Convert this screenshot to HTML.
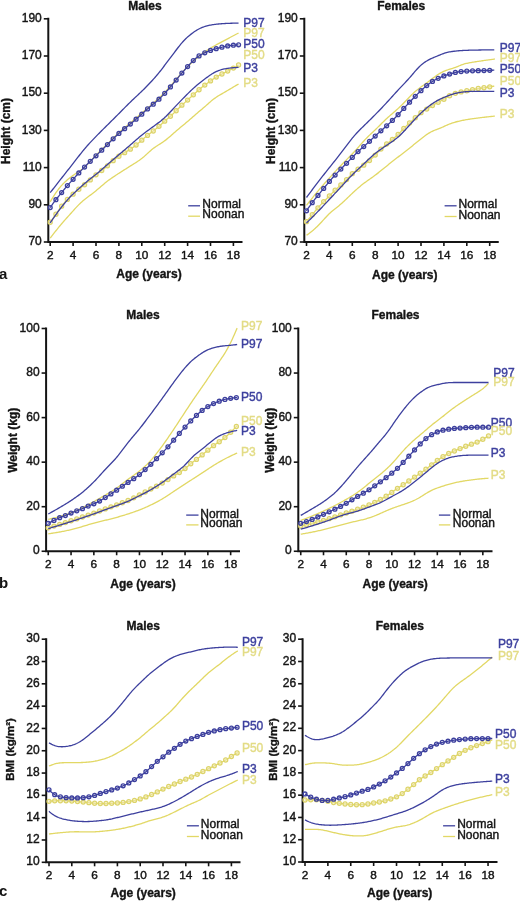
<!DOCTYPE html><html><head><meta charset="utf-8"><style>html,body{margin:0;padding:0;background:#fff;width:520px;height:901px;overflow:hidden}svg{display:block;will-change:transform}</style></head><body>
<svg width="520" height="901" viewBox="0 0 520 901" font-family='"Liberation Sans", sans-serif'>
<rect width="520" height="901" fill="#fff"/>
<path d="M48.30,17.80 V242.00 H242.50" fill="none" stroke="#141414" stroke-width="2"/>
<line x1="43.80" y1="242.00" x2="48.30" y2="242.00" stroke="#141414" stroke-width="1.6"/>
<text x="41.80" y="245.10" text-anchor="end" font-size="12" fill="#141414" stroke="#141414" stroke-width="0.4">70</text>
<line x1="43.80" y1="204.80" x2="48.30" y2="204.80" stroke="#141414" stroke-width="1.6"/>
<text x="41.80" y="207.90" text-anchor="end" font-size="12" fill="#141414" stroke="#141414" stroke-width="0.4">90</text>
<line x1="43.80" y1="167.60" x2="48.30" y2="167.60" stroke="#141414" stroke-width="1.6"/>
<text x="41.80" y="170.70" text-anchor="end" font-size="12" fill="#141414" stroke="#141414" stroke-width="0.4">110</text>
<line x1="43.80" y1="130.40" x2="48.30" y2="130.40" stroke="#141414" stroke-width="1.6"/>
<text x="41.80" y="133.50" text-anchor="end" font-size="12" fill="#141414" stroke="#141414" stroke-width="0.4">130</text>
<line x1="43.80" y1="93.20" x2="48.30" y2="93.20" stroke="#141414" stroke-width="1.6"/>
<text x="41.80" y="96.30" text-anchor="end" font-size="12" fill="#141414" stroke="#141414" stroke-width="0.4">150</text>
<line x1="43.80" y1="56.00" x2="48.30" y2="56.00" stroke="#141414" stroke-width="1.6"/>
<text x="41.80" y="59.10" text-anchor="end" font-size="12" fill="#141414" stroke="#141414" stroke-width="0.4">170</text>
<line x1="43.80" y1="18.80" x2="48.30" y2="18.80" stroke="#141414" stroke-width="1.6"/>
<text x="41.80" y="21.90" text-anchor="end" font-size="12" fill="#141414" stroke="#141414" stroke-width="0.4">190</text>
<line x1="50.20" y1="242.00" x2="50.20" y2="246.00" stroke="#141414" stroke-width="1.6"/>
<text x="50.20" y="258.80" text-anchor="middle" font-size="11.8" fill="#141414" stroke="#141414" stroke-width="0.4">2</text>
<line x1="73.10" y1="242.00" x2="73.10" y2="246.00" stroke="#141414" stroke-width="1.6"/>
<text x="73.10" y="258.80" text-anchor="middle" font-size="11.8" fill="#141414" stroke="#141414" stroke-width="0.4">4</text>
<line x1="96.00" y1="242.00" x2="96.00" y2="246.00" stroke="#141414" stroke-width="1.6"/>
<text x="96.00" y="258.80" text-anchor="middle" font-size="11.8" fill="#141414" stroke="#141414" stroke-width="0.4">6</text>
<line x1="118.90" y1="242.00" x2="118.90" y2="246.00" stroke="#141414" stroke-width="1.6"/>
<text x="118.90" y="258.80" text-anchor="middle" font-size="11.8" fill="#141414" stroke="#141414" stroke-width="0.4">8</text>
<line x1="141.80" y1="242.00" x2="141.80" y2="246.00" stroke="#141414" stroke-width="1.6"/>
<text x="141.80" y="258.80" text-anchor="middle" font-size="11.8" fill="#141414" stroke="#141414" stroke-width="0.4">10</text>
<line x1="164.70" y1="242.00" x2="164.70" y2="246.00" stroke="#141414" stroke-width="1.6"/>
<text x="164.70" y="258.80" text-anchor="middle" font-size="11.8" fill="#141414" stroke="#141414" stroke-width="0.4">12</text>
<line x1="187.60" y1="242.00" x2="187.60" y2="246.00" stroke="#141414" stroke-width="1.6"/>
<text x="187.60" y="258.80" text-anchor="middle" font-size="11.8" fill="#141414" stroke="#141414" stroke-width="0.4">14</text>
<line x1="210.50" y1="242.00" x2="210.50" y2="246.00" stroke="#141414" stroke-width="1.6"/>
<text x="210.50" y="258.80" text-anchor="middle" font-size="11.8" fill="#141414" stroke="#141414" stroke-width="0.4">16</text>
<line x1="233.40" y1="242.00" x2="233.40" y2="246.00" stroke="#141414" stroke-width="1.6"/>
<text x="233.40" y="258.80" text-anchor="middle" font-size="11.8" fill="#141414" stroke="#141414" stroke-width="0.4">18</text>
<polyline points="50.20,238.13 51.16,236.88 52.11,235.63 53.07,234.39 54.02,233.16 54.98,231.95 55.94,230.74 56.89,229.54 57.85,228.36 58.80,227.18 59.76,226.02 60.72,224.88 61.67,223.74 62.63,222.62 63.59,221.52 64.54,220.42 65.50,219.34 66.45,218.27 67.41,217.21 68.37,216.16 69.32,215.10 70.28,214.04 71.23,212.97 72.19,211.90 73.15,210.83 74.10,209.75 75.06,208.68 76.01,207.62 76.97,206.59 77.93,205.58 78.88,204.62 79.84,203.69 80.80,202.80 81.75,201.94 82.71,201.11 83.66,200.31 84.62,199.54 85.58,198.78 86.53,198.03 87.49,197.30 88.44,196.57 89.40,195.85 90.36,195.13 91.31,194.41 92.27,193.68 93.22,192.94 94.18,192.19 95.14,191.42 96.09,190.65 97.05,189.86 98.01,189.05 98.96,188.24 99.92,187.41 100.87,186.59 101.83,185.77 102.79,184.95 103.74,184.14 104.70,183.34 105.65,182.56 106.61,181.80 107.57,181.06 108.52,180.34 109.48,179.64 110.43,178.95 111.39,178.28 112.35,177.62 113.30,176.98 114.26,176.34 115.22,175.71 116.17,175.08 117.13,174.46 118.08,173.83 119.04,173.22 120.00,172.60 120.95,171.98 121.91,171.37 122.86,170.76 123.82,170.15 124.78,169.54 125.73,168.93 126.69,168.33 127.64,167.72 128.60,167.12 129.56,166.52 130.51,165.92 131.47,165.33 132.42,164.74 133.38,164.14 134.34,163.55 135.29,162.95 136.25,162.34 137.21,161.72 138.16,161.08 139.12,160.42 140.07,159.74 141.03,159.03 141.99,158.29 142.94,157.51 143.90,156.71 144.85,155.87 145.81,155.01 146.77,154.14 147.72,153.26 148.68,152.39 149.63,151.52 150.59,150.68 151.55,149.87 152.50,149.08 153.46,148.34 154.42,147.63 155.37,146.95 156.33,146.30 157.28,145.67 158.24,145.05 159.20,144.45 160.15,143.84 161.11,143.23 162.06,142.61 163.02,141.96 163.98,141.29 164.93,140.60 165.89,139.88 166.84,139.12 167.80,138.35 168.76,137.55 169.71,136.73 170.67,135.89 171.63,135.05 172.58,134.21 173.54,133.36 174.49,132.52 175.45,131.69 176.41,130.86 177.36,130.04 178.32,129.23 179.27,128.42 180.23,127.62 181.19,126.82 182.14,126.03 183.10,125.23 184.05,124.44 185.01,123.64 185.97,122.83 186.92,122.03 187.88,121.21 188.84,120.39 189.79,119.57 190.75,118.74 191.70,117.90 192.66,117.07 193.62,116.23 194.57,115.40 195.53,114.57 196.48,113.75 197.44,112.93 198.40,112.12 199.35,111.32 200.31,110.52 201.26,109.72 202.22,108.92 203.18,108.11 204.13,107.29 205.09,106.46 206.04,105.62 207.00,104.76 207.96,103.90 208.91,103.05 209.87,102.20 210.83,101.37 211.78,100.57 212.74,99.79 213.69,99.05 214.65,98.35 215.61,97.67 216.56,97.03 217.52,96.41 218.47,95.82 219.43,95.24 220.39,94.68 221.34,94.12 222.30,93.57 223.25,93.02 224.21,92.47 225.17,91.92 226.12,91.36 227.08,90.80 228.04,90.23 228.99,89.66 229.95,89.09 230.90,88.52 231.86,87.94 232.82,87.37 233.77,86.81 234.73,86.24 235.68,85.68 236.64,85.12 237.60,84.56 238.55,84.08" fill="none" stroke="#e2d865" stroke-width="1.3" stroke-linejoin="round"/>
<polyline points="50.20,201.80 51.16,200.20 52.11,198.62 53.07,197.08 54.02,195.57 54.98,194.11 55.94,192.69 56.89,191.33 57.85,190.02 58.80,188.76 59.76,187.57 60.72,186.43 61.67,185.35 62.63,184.32 63.59,183.34 64.54,182.41 65.50,181.51 66.45,180.66 67.41,179.84 68.37,179.04 69.32,178.27 70.28,177.52 71.23,176.79 72.19,176.08 73.15,175.38 74.10,174.70 75.06,174.03 76.01,173.37 76.97,172.72 77.93,172.08 78.88,171.43 79.84,170.77 80.80,170.10 81.75,169.40 82.71,168.66 83.66,167.89 84.62,167.08 85.58,166.22 86.53,165.32 87.49,164.37 88.44,163.38 89.40,162.37 90.36,161.33 91.31,160.28 92.27,159.22 93.22,158.16 94.18,157.12 95.14,156.09 96.09,155.08 97.05,154.09 98.01,153.12 98.96,152.16 99.92,151.22 100.87,150.29 101.83,149.36 102.79,148.45 103.74,147.53 104.70,146.61 105.65,145.68 106.61,144.75 107.57,143.81 108.52,142.86 109.48,141.91 110.43,140.95 111.39,139.98 112.35,139.02 113.30,138.05 114.26,137.10 115.22,136.15 116.17,135.22 117.13,134.30 118.08,133.40 119.04,132.52 120.00,131.66 120.95,130.81 121.91,129.99 122.86,129.17 123.82,128.37 124.78,127.57 125.73,126.78 126.69,125.99 127.64,125.20 128.60,124.41 129.56,123.61 130.51,122.80 131.47,121.99 132.42,121.17 133.38,120.35 134.34,119.52 135.29,118.69 136.25,117.86 137.21,117.02 138.16,116.19 139.12,115.36 140.07,114.53 141.03,113.70 141.99,112.88 142.94,112.06 143.90,111.25 144.85,110.44 145.81,109.63 146.77,108.82 147.72,108.01 148.68,107.20 149.63,106.39 150.59,105.57 151.55,104.74 152.50,103.90 153.46,103.06 154.42,102.21 155.37,101.35 156.33,100.48 157.28,99.60 158.24,98.71 159.20,97.82 160.15,96.90 161.11,95.98 162.06,95.04 163.02,94.08 163.98,93.11 164.93,92.12 165.89,91.11 166.84,90.08 167.80,89.04 168.76,87.98 169.71,86.90 170.67,85.82 171.63,84.72 172.58,83.62 173.54,82.52 174.49,81.41 175.45,80.30 176.41,79.19 177.36,78.08 178.32,76.98 179.27,75.87 180.23,74.76 181.19,73.66 182.14,72.57 183.10,71.49 184.05,70.43 185.01,69.39 185.97,68.36 186.92,67.36 187.88,66.38 188.84,65.42 189.79,64.49 190.75,63.57 191.70,62.67 192.66,61.80 193.62,60.93 194.57,60.09 195.53,59.26 196.48,58.44 197.44,57.64 198.40,56.85 199.35,56.07 200.31,55.31 201.26,54.56 202.22,53.82 203.18,53.10 204.13,52.39 205.09,51.70 206.04,51.03 207.00,50.38 207.96,49.74 208.91,49.12 209.87,48.52 210.83,47.94 211.78,47.37 212.74,46.82 213.69,46.28 214.65,45.74 215.61,45.21 216.56,44.69 217.52,44.17 218.47,43.66 219.43,43.14 220.39,42.63 221.34,42.12 222.30,41.61 223.25,41.10 224.21,40.59 225.17,40.08 226.12,39.58 227.08,39.07 228.04,38.56 228.99,38.06 229.95,37.55 230.90,37.04 231.86,36.54 232.82,36.03 233.77,35.52 234.73,35.02 235.68,34.51 236.64,34.01 237.60,33.51 238.55,33.06" fill="none" stroke="#e2d865" stroke-width="1.3" stroke-linejoin="round"/>
<polyline points="50.20,222.27 51.16,220.94 52.11,219.61 53.07,218.27 54.02,216.92 54.98,215.56 55.94,214.19 56.89,212.82 57.85,211.46 58.80,210.10 59.76,208.75 60.72,207.43 61.67,206.15 62.63,204.90 63.59,203.69 64.54,202.54 65.50,201.43 66.45,200.39 67.41,199.39 68.37,198.44 69.32,197.54 70.28,196.66 71.23,195.80 72.19,194.96 73.15,194.12 74.10,193.28 75.06,192.45 76.01,191.61 76.97,190.79 77.93,189.97 78.88,189.17 79.84,188.39 80.80,187.63 81.75,186.88 82.71,186.13 83.66,185.39 84.62,184.64 85.58,183.89 86.53,183.12 87.49,182.33 88.44,181.51 89.40,180.68 90.36,179.84 91.31,178.98 92.27,178.11 93.22,177.25 94.18,176.41 95.14,175.59 96.09,174.79 97.05,174.03 98.01,173.29 98.96,172.57 99.92,171.86 100.87,171.15 101.83,170.44 102.79,169.71 103.74,168.96 104.70,168.19 105.65,167.40 106.61,166.58 107.57,165.74 108.52,164.88 109.48,164.01 110.43,163.14 111.39,162.28 112.35,161.42 113.30,160.58 114.26,159.77 115.22,158.98 116.17,158.22 117.13,157.49 118.08,156.80 119.04,156.14 120.00,155.50 120.95,154.89 121.91,154.30 122.86,153.72 123.82,153.15 124.78,152.59 125.73,152.03 126.69,151.46 127.64,150.88 128.60,150.30 129.56,149.70 130.51,149.08 131.47,148.45 132.42,147.79 133.38,147.11 134.34,146.40 135.29,145.67 136.25,144.90 137.21,144.11 138.16,143.30 139.12,142.47 140.07,141.64 141.03,140.80 141.99,139.97 142.94,139.14 143.90,138.33 144.85,137.53 145.81,136.75 146.77,135.98 147.72,135.22 148.68,134.48 149.63,133.74 150.59,133.01 151.55,132.28 152.50,131.55 153.46,130.82 154.42,130.08 155.37,129.33 156.33,128.57 157.28,127.78 158.24,126.97 159.20,126.14 160.15,125.29 161.11,124.42 162.06,123.55 163.02,122.68 163.98,121.82 164.93,120.97 165.89,120.14 166.84,119.32 167.80,118.51 168.76,117.69 169.71,116.86 170.67,116.02 171.63,115.16 172.58,114.27 173.54,113.36 174.49,112.43 175.45,111.48 176.41,110.53 177.36,109.57 178.32,108.62 179.27,107.68 180.23,106.75 181.19,105.85 182.14,104.95 183.10,104.08 184.05,103.22 185.01,102.37 185.97,101.53 186.92,100.68 187.88,99.82 188.84,98.96 189.79,98.09 190.75,97.22 191.70,96.34 192.66,95.45 193.62,94.57 194.57,93.69 195.53,92.82 196.48,91.96 197.44,91.11 198.40,90.28 199.35,89.46 200.31,88.65 201.26,87.86 202.22,87.09 203.18,86.33 204.13,85.58 205.09,84.85 206.04,84.14 207.00,83.43 207.96,82.73 208.91,82.04 209.87,81.35 210.83,80.68 211.78,80.01 212.74,79.35 213.69,78.71 214.65,78.09 215.61,77.49 216.56,76.91 217.52,76.36 218.47,75.82 219.43,75.30 220.39,74.80 221.34,74.31 222.30,73.82 223.25,73.33 224.21,72.85 225.17,72.37 226.12,71.89 227.08,71.41 228.04,70.92 228.99,70.43 229.95,69.94 230.90,69.44 231.86,68.93 232.82,68.40 233.77,67.86 234.73,67.31 235.68,66.74 236.64,66.16 237.60,65.56 238.55,65.03" fill="none" stroke="#e2d865" stroke-width="1.3" stroke-linejoin="round"/>
<circle cx="50.20" cy="222.27" r="2.05" fill="#f4ecc0" fill-opacity="0.5" stroke="#ddd46a" stroke-width="1.25"/>
<circle cx="55.93" cy="214.21" r="2.05" fill="#f4ecc0" fill-opacity="0.5" stroke="#ddd46a" stroke-width="1.25"/>
<circle cx="61.65" cy="206.18" r="2.05" fill="#f4ecc0" fill-opacity="0.5" stroke="#ddd46a" stroke-width="1.25"/>
<circle cx="67.38" cy="199.43" r="2.05" fill="#f4ecc0" fill-opacity="0.5" stroke="#ddd46a" stroke-width="1.25"/>
<circle cx="73.10" cy="194.16" r="2.05" fill="#f4ecc0" fill-opacity="0.5" stroke="#ddd46a" stroke-width="1.25"/>
<circle cx="78.83" cy="189.22" r="2.05" fill="#f4ecc0" fill-opacity="0.5" stroke="#ddd46a" stroke-width="1.25"/>
<circle cx="84.55" cy="184.70" r="2.05" fill="#f4ecc0" fill-opacity="0.5" stroke="#ddd46a" stroke-width="1.25"/>
<circle cx="90.28" cy="179.91" r="2.05" fill="#f4ecc0" fill-opacity="0.5" stroke="#ddd46a" stroke-width="1.25"/>
<circle cx="96.00" cy="174.87" r="2.05" fill="#f4ecc0" fill-opacity="0.5" stroke="#ddd46a" stroke-width="1.25"/>
<circle cx="101.72" cy="170.52" r="2.05" fill="#f4ecc0" fill-opacity="0.5" stroke="#ddd46a" stroke-width="1.25"/>
<circle cx="107.45" cy="165.84" r="2.05" fill="#f4ecc0" fill-opacity="0.5" stroke="#ddd46a" stroke-width="1.25"/>
<circle cx="113.17" cy="160.69" r="2.05" fill="#f4ecc0" fill-opacity="0.5" stroke="#ddd46a" stroke-width="1.25"/>
<circle cx="118.90" cy="156.23" r="2.05" fill="#f4ecc0" fill-opacity="0.5" stroke="#ddd46a" stroke-width="1.25"/>
<circle cx="124.62" cy="152.68" r="2.05" fill="#f4ecc0" fill-opacity="0.5" stroke="#ddd46a" stroke-width="1.25"/>
<circle cx="130.35" cy="149.19" r="2.05" fill="#f4ecc0" fill-opacity="0.5" stroke="#ddd46a" stroke-width="1.25"/>
<circle cx="136.07" cy="145.04" r="2.05" fill="#f4ecc0" fill-opacity="0.5" stroke="#ddd46a" stroke-width="1.25"/>
<circle cx="141.80" cy="140.13" r="2.05" fill="#f4ecc0" fill-opacity="0.5" stroke="#ddd46a" stroke-width="1.25"/>
<circle cx="147.52" cy="135.38" r="2.05" fill="#f4ecc0" fill-opacity="0.5" stroke="#ddd46a" stroke-width="1.25"/>
<circle cx="153.25" cy="130.98" r="2.05" fill="#f4ecc0" fill-opacity="0.5" stroke="#ddd46a" stroke-width="1.25"/>
<circle cx="158.97" cy="126.33" r="2.05" fill="#f4ecc0" fill-opacity="0.5" stroke="#ddd46a" stroke-width="1.25"/>
<circle cx="164.70" cy="121.17" r="2.05" fill="#f4ecc0" fill-opacity="0.5" stroke="#ddd46a" stroke-width="1.25"/>
<circle cx="170.43" cy="116.24" r="2.05" fill="#f4ecc0" fill-opacity="0.5" stroke="#ddd46a" stroke-width="1.25"/>
<circle cx="176.15" cy="110.78" r="2.05" fill="#f4ecc0" fill-opacity="0.5" stroke="#ddd46a" stroke-width="1.25"/>
<circle cx="181.88" cy="105.20" r="2.05" fill="#f4ecc0" fill-opacity="0.5" stroke="#ddd46a" stroke-width="1.25"/>
<circle cx="187.60" cy="100.07" r="2.05" fill="#f4ecc0" fill-opacity="0.5" stroke="#ddd46a" stroke-width="1.25"/>
<circle cx="193.32" cy="94.84" r="2.05" fill="#f4ecc0" fill-opacity="0.5" stroke="#ddd46a" stroke-width="1.25"/>
<circle cx="199.05" cy="89.71" r="2.05" fill="#f4ecc0" fill-opacity="0.5" stroke="#ddd46a" stroke-width="1.25"/>
<circle cx="204.77" cy="85.09" r="2.05" fill="#f4ecc0" fill-opacity="0.5" stroke="#ddd46a" stroke-width="1.25"/>
<circle cx="210.50" cy="80.91" r="2.05" fill="#f4ecc0" fill-opacity="0.5" stroke="#ddd46a" stroke-width="1.25"/>
<circle cx="216.22" cy="77.11" r="2.05" fill="#f4ecc0" fill-opacity="0.5" stroke="#ddd46a" stroke-width="1.25"/>
<circle cx="221.95" cy="74.00" r="2.05" fill="#f4ecc0" fill-opacity="0.5" stroke="#ddd46a" stroke-width="1.25"/>
<circle cx="227.68" cy="71.10" r="2.05" fill="#f4ecc0" fill-opacity="0.5" stroke="#ddd46a" stroke-width="1.25"/>
<circle cx="233.40" cy="68.07" r="2.05" fill="#f4ecc0" fill-opacity="0.5" stroke="#ddd46a" stroke-width="1.25"/>
<circle cx="238.55" cy="65.03" r="2.05" fill="#f4ecc0" fill-opacity="0.5" stroke="#ddd46a" stroke-width="1.25"/>
<polyline points="50.20,222.84 51.16,221.44 52.11,220.05 53.07,218.66 54.02,217.29 54.98,215.94 55.94,214.60 56.89,213.28 57.85,211.98 58.80,210.69 59.76,209.42 60.72,208.17 61.67,206.93 62.63,205.72 63.59,204.52 64.54,203.34 65.50,202.18 66.45,201.05 67.41,199.95 68.37,198.87 69.32,197.82 70.28,196.81 71.23,195.82 72.19,194.86 73.15,193.92 74.10,193.01 75.06,192.11 76.01,191.23 76.97,190.35 77.93,189.48 78.88,188.61 79.84,187.74 80.80,186.88 81.75,186.02 82.71,185.17 83.66,184.33 84.62,183.50 85.58,182.69 86.53,181.89 87.49,181.11 88.44,180.34 89.40,179.58 90.36,178.83 91.31,178.08 92.27,177.34 93.22,176.59 94.18,175.84 95.14,175.07 96.09,174.29 97.05,173.50 98.01,172.70 98.96,171.90 99.92,171.08 100.87,170.25 101.83,169.42 102.79,168.59 103.74,167.75 104.70,166.92 105.65,166.08 106.61,165.25 107.57,164.42 108.52,163.59 109.48,162.77 110.43,161.94 111.39,161.12 112.35,160.30 113.30,159.48 114.26,158.67 115.22,157.85 116.17,157.03 117.13,156.22 118.08,155.40 119.04,154.59 120.00,153.78 120.95,152.97 121.91,152.16 122.86,151.35 123.82,150.54 124.78,149.73 125.73,148.92 126.69,148.10 127.64,147.29 128.60,146.47 129.56,145.64 130.51,144.82 131.47,143.98 132.42,143.15 133.38,142.31 134.34,141.47 135.29,140.63 136.25,139.79 137.21,138.96 138.16,138.14 139.12,137.32 140.07,136.53 141.03,135.74 141.99,134.97 142.94,134.21 143.90,133.47 144.85,132.74 145.81,132.03 146.77,131.32 147.72,130.62 148.68,129.92 149.63,129.22 150.59,128.53 151.55,127.83 152.50,127.14 153.46,126.44 154.42,125.74 155.37,125.03 156.33,124.32 157.28,123.61 158.24,122.89 159.20,122.16 160.15,121.41 161.11,120.65 162.06,119.86 163.02,119.05 163.98,118.21 164.93,117.34 165.89,116.44 166.84,115.50 167.80,114.54 168.76,113.55 169.71,112.54 170.67,111.52 171.63,110.48 172.58,109.45 173.54,108.42 174.49,107.39 175.45,106.37 176.41,105.35 177.36,104.35 178.32,103.34 179.27,102.35 180.23,101.35 181.19,100.37 182.14,99.38 183.10,98.41 184.05,97.43 185.01,96.46 185.97,95.50 186.92,94.54 187.88,93.59 188.84,92.65 189.79,91.72 190.75,90.80 191.70,89.90 192.66,89.00 193.62,88.12 194.57,87.25 195.53,86.40 196.48,85.57 197.44,84.76 198.40,83.96 199.35,83.19 200.31,82.43 201.26,81.69 202.22,80.96 203.18,80.24 204.13,79.52 205.09,78.80 206.04,78.09 207.00,77.38 207.96,76.68 208.91,75.99 209.87,75.32 210.83,74.67 211.78,74.05 212.74,73.47 213.69,72.91 214.65,72.40 215.61,71.91 216.56,71.46 217.52,71.05 218.47,70.67 219.43,70.32 220.39,70.00 221.34,69.70 222.30,69.44 223.25,69.20 224.21,68.98 225.17,68.78 226.12,68.60 227.08,68.44 228.04,68.29 228.99,68.16 229.95,68.04 230.90,67.94 231.86,67.84 232.82,67.75 233.77,67.68 234.73,67.61 235.68,67.55 236.64,67.50 237.60,67.46 238.55,67.44" fill="none" stroke="#3d409e" stroke-width="1.3" stroke-linejoin="round"/>
<polyline points="50.20,192.70 51.16,191.47 52.11,190.24 53.07,189.01 54.02,187.78 54.98,186.55 55.94,185.32 56.89,184.09 57.85,182.87 58.80,181.64 59.76,180.42 60.72,179.20 61.67,177.98 62.63,176.77 63.59,175.55 64.54,174.34 65.50,173.13 66.45,171.92 67.41,170.70 68.37,169.49 69.32,168.28 70.28,167.06 71.23,165.84 72.19,164.62 73.15,163.39 74.10,162.16 75.06,160.93 76.01,159.69 76.97,158.45 77.93,157.22 78.88,155.98 79.84,154.76 80.80,153.55 81.75,152.35 82.71,151.17 83.66,150.01 84.62,148.86 85.58,147.74 86.53,146.64 87.49,145.55 88.44,144.48 89.40,143.43 90.36,142.39 91.31,141.36 92.27,140.34 93.22,139.33 94.18,138.33 95.14,137.33 96.09,136.35 97.05,135.37 98.01,134.39 98.96,133.43 99.92,132.47 100.87,131.51 101.83,130.56 102.79,129.61 103.74,128.66 104.70,127.71 105.65,126.77 106.61,125.82 107.57,124.88 108.52,123.93 109.48,122.98 110.43,122.03 111.39,121.08 112.35,120.13 113.30,119.18 114.26,118.23 115.22,117.27 116.17,116.32 117.13,115.36 118.08,114.40 119.04,113.43 120.00,112.47 120.95,111.50 121.91,110.53 122.86,109.56 123.82,108.59 124.78,107.62 125.73,106.65 126.69,105.69 127.64,104.74 128.60,103.79 129.56,102.85 130.51,101.92 131.47,101.00 132.42,100.09 133.38,99.18 134.34,98.28 135.29,97.39 136.25,96.50 137.21,95.60 138.16,94.70 139.12,93.80 140.07,92.89 141.03,91.98 141.99,91.05 142.94,90.12 143.90,89.17 144.85,88.22 145.81,87.26 146.77,86.29 147.72,85.30 148.68,84.31 149.63,83.31 150.59,82.30 151.55,81.27 152.50,80.23 153.46,79.18 154.42,78.11 155.37,77.02 156.33,75.91 157.28,74.79 158.24,73.64 159.20,72.46 160.15,71.26 161.11,70.04 162.06,68.80 163.02,67.53 163.98,66.26 164.93,64.98 165.89,63.69 166.84,62.40 167.80,61.12 168.76,59.84 169.71,58.57 170.67,57.30 171.63,56.04 172.58,54.78 173.54,53.52 174.49,52.27 175.45,51.01 176.41,49.75 177.36,48.50 178.32,47.26 179.27,46.03 180.23,44.84 181.19,43.68 182.14,42.56 183.10,41.48 184.05,40.45 185.01,39.47 185.97,38.53 186.92,37.63 187.88,36.77 188.84,35.95 189.79,35.15 190.75,34.38 191.70,33.64 192.66,32.93 193.62,32.24 194.57,31.57 195.53,30.94 196.48,30.34 197.44,29.77 198.40,29.24 199.35,28.74 200.31,28.28 201.26,27.85 202.22,27.45 203.18,27.09 204.13,26.75 205.09,26.44 206.04,26.15 207.00,25.88 207.96,25.64 208.91,25.42 209.87,25.22 210.83,25.03 211.78,24.86 212.74,24.70 213.69,24.55 214.65,24.42 215.61,24.30 216.56,24.19 217.52,24.08 218.47,23.99 219.43,23.90 220.39,23.82 221.34,23.74 222.30,23.67 223.25,23.61 224.21,23.55 225.17,23.50 226.12,23.45 227.08,23.41 228.04,23.36 228.99,23.33 229.95,23.29 230.90,23.26 231.86,23.23 232.82,23.21 233.77,23.18 234.73,23.16 235.68,23.15 236.64,23.13 237.60,23.12 238.55,23.11" fill="none" stroke="#3d409e" stroke-width="1.3" stroke-linejoin="round"/>
<polyline points="50.20,207.59 51.16,206.20 52.11,204.83 53.07,203.49 54.02,202.18 54.98,200.90 55.94,199.65 56.89,198.42 57.85,197.22 58.80,196.04 59.76,194.86 60.72,193.69 61.67,192.51 62.63,191.33 63.59,190.16 64.54,188.99 65.50,187.83 66.45,186.70 67.41,185.58 68.37,184.49 69.32,183.43 70.28,182.37 71.23,181.33 72.19,180.29 73.15,179.23 74.10,178.18 75.06,177.11 76.01,176.04 76.97,174.98 77.93,173.92 78.88,172.88 79.84,171.86 80.80,170.85 81.75,169.86 82.71,168.88 83.66,167.91 84.62,166.94 85.58,165.97 86.53,165.00 87.49,164.04 88.44,163.08 89.40,162.14 90.36,161.20 91.31,160.28 92.27,159.37 93.22,158.47 94.18,157.56 95.14,156.65 96.09,155.72 97.05,154.79 98.01,153.85 98.96,152.89 99.92,151.94 100.87,150.99 101.83,150.04 102.79,149.11 103.74,148.17 104.70,147.24 105.65,146.31 106.61,145.38 107.57,144.44 108.52,143.49 109.48,142.53 110.43,141.57 111.39,140.60 112.35,139.64 113.30,138.69 114.26,137.75 115.22,136.83 116.17,135.92 117.13,135.04 118.08,134.18 119.04,133.33 120.00,132.51 120.95,131.70 121.91,130.90 122.86,130.11 123.82,129.33 124.78,128.55 125.73,127.77 126.69,127.00 127.64,126.22 128.60,125.44 129.56,124.65 130.51,123.87 131.47,123.08 132.42,122.30 133.38,121.50 134.34,120.71 135.29,119.91 136.25,119.10 137.21,118.28 138.16,117.44 139.12,116.60 140.07,115.74 141.03,114.87 141.99,113.98 142.94,113.09 143.90,112.19 144.85,111.30 145.81,110.42 146.77,109.55 147.72,108.71 148.68,107.90 149.63,107.10 150.59,106.32 151.55,105.54 152.50,104.77 153.46,103.99 154.42,103.20 155.37,102.39 156.33,101.56 157.28,100.71 158.24,99.84 159.20,98.94 160.15,98.03 161.11,97.09 162.06,96.13 163.02,95.15 163.98,94.14 164.93,93.12 165.89,92.08 166.84,91.02 167.80,89.95 168.76,88.85 169.71,87.74 170.67,86.62 171.63,85.48 172.58,84.34 173.54,83.18 174.49,82.02 175.45,80.86 176.41,79.69 177.36,78.52 178.32,77.36 179.27,76.20 180.23,75.05 181.19,73.91 182.14,72.78 183.10,71.66 184.05,70.55 185.01,69.46 185.97,68.37 186.92,67.29 187.88,66.23 188.84,65.18 189.79,64.15 190.75,63.14 191.70,62.15 192.66,61.20 193.62,60.27 194.57,59.39 195.53,58.55 196.48,57.76 197.44,57.02 198.40,56.32 199.35,55.68 200.31,55.09 201.26,54.53 202.22,54.02 203.18,53.54 204.13,53.08 205.09,52.65 206.04,52.23 207.00,51.83 207.96,51.45 208.91,51.08 209.87,50.72 210.83,50.38 211.78,50.04 212.74,49.73 213.69,49.42 214.65,49.12 215.61,48.83 216.56,48.56 217.52,48.29 218.47,48.02 219.43,47.77 220.39,47.52 221.34,47.28 222.30,47.04 223.25,46.82 224.21,46.60 225.17,46.40 226.12,46.21 227.08,46.04 228.04,45.88 228.99,45.73 229.95,45.60 230.90,45.49 231.86,45.38 232.82,45.28 233.77,45.19 234.73,45.11 235.68,45.03 236.64,44.95 237.60,44.88 238.55,44.82" fill="none" stroke="#3d409e" stroke-width="1.3" stroke-linejoin="round"/>
<circle cx="50.20" cy="207.59" r="1.95" fill="none" stroke="#3d409e" stroke-width="1.35"/>
<circle cx="55.93" cy="199.66" r="1.95" fill="none" stroke="#3d409e" stroke-width="1.35"/>
<circle cx="61.65" cy="192.54" r="1.95" fill="none" stroke="#3d409e" stroke-width="1.35"/>
<circle cx="67.38" cy="185.62" r="1.95" fill="none" stroke="#3d409e" stroke-width="1.35"/>
<circle cx="73.10" cy="179.29" r="1.95" fill="none" stroke="#3d409e" stroke-width="1.35"/>
<circle cx="78.83" cy="172.94" r="1.95" fill="none" stroke="#3d409e" stroke-width="1.35"/>
<circle cx="84.55" cy="167.01" r="1.95" fill="none" stroke="#3d409e" stroke-width="1.35"/>
<circle cx="90.28" cy="161.28" r="1.95" fill="none" stroke="#3d409e" stroke-width="1.35"/>
<circle cx="96.00" cy="155.81" r="1.95" fill="none" stroke="#3d409e" stroke-width="1.35"/>
<circle cx="101.72" cy="150.15" r="1.95" fill="none" stroke="#3d409e" stroke-width="1.35"/>
<circle cx="107.45" cy="144.55" r="1.95" fill="none" stroke="#3d409e" stroke-width="1.35"/>
<circle cx="113.17" cy="138.82" r="1.95" fill="none" stroke="#3d409e" stroke-width="1.35"/>
<circle cx="118.90" cy="133.45" r="1.95" fill="none" stroke="#3d409e" stroke-width="1.35"/>
<circle cx="124.62" cy="128.68" r="1.95" fill="none" stroke="#3d409e" stroke-width="1.35"/>
<circle cx="130.35" cy="124.00" r="1.95" fill="none" stroke="#3d409e" stroke-width="1.35"/>
<circle cx="136.07" cy="119.24" r="1.95" fill="none" stroke="#3d409e" stroke-width="1.35"/>
<circle cx="141.80" cy="114.15" r="1.95" fill="none" stroke="#3d409e" stroke-width="1.35"/>
<circle cx="147.52" cy="108.89" r="1.95" fill="none" stroke="#3d409e" stroke-width="1.35"/>
<circle cx="153.25" cy="104.16" r="1.95" fill="none" stroke="#3d409e" stroke-width="1.35"/>
<circle cx="158.97" cy="99.15" r="1.95" fill="none" stroke="#3d409e" stroke-width="1.35"/>
<circle cx="164.70" cy="93.37" r="1.95" fill="none" stroke="#3d409e" stroke-width="1.35"/>
<circle cx="170.43" cy="86.91" r="1.95" fill="none" stroke="#3d409e" stroke-width="1.35"/>
<circle cx="176.15" cy="80.00" r="1.95" fill="none" stroke="#3d409e" stroke-width="1.35"/>
<circle cx="181.88" cy="73.09" r="1.95" fill="none" stroke="#3d409e" stroke-width="1.35"/>
<circle cx="187.60" cy="66.54" r="1.95" fill="none" stroke="#3d409e" stroke-width="1.35"/>
<circle cx="193.32" cy="60.55" r="1.95" fill="none" stroke="#3d409e" stroke-width="1.35"/>
<circle cx="199.05" cy="55.88" r="1.95" fill="none" stroke="#3d409e" stroke-width="1.35"/>
<circle cx="204.77" cy="52.79" r="1.95" fill="none" stroke="#3d409e" stroke-width="1.35"/>
<circle cx="210.50" cy="50.49" r="1.95" fill="none" stroke="#3d409e" stroke-width="1.35"/>
<circle cx="216.22" cy="48.65" r="1.95" fill="none" stroke="#3d409e" stroke-width="1.35"/>
<circle cx="221.95" cy="47.13" r="1.95" fill="none" stroke="#3d409e" stroke-width="1.35"/>
<circle cx="227.68" cy="45.93" r="1.95" fill="none" stroke="#3d409e" stroke-width="1.35"/>
<circle cx="233.40" cy="45.23" r="1.95" fill="none" stroke="#3d409e" stroke-width="1.35"/>
<circle cx="238.55" cy="44.82" r="1.95" fill="none" stroke="#3d409e" stroke-width="1.35"/>
<text x="243.30" y="27.20" font-size="12" fill="#3d409e" stroke="#3d409e" stroke-width="0.4">P97</text>
<text x="243.30" y="37.40" font-size="12" fill="#e3dc86" stroke="#e3dc86" stroke-width="0.4">P97</text>
<text x="243.30" y="48.30" font-size="12" fill="#3d409e" stroke="#3d409e" stroke-width="0.4">P50</text>
<text x="243.30" y="59.20" font-size="12" fill="#e3dc86" stroke="#e3dc86" stroke-width="0.4">P50</text>
<text x="243.30" y="71.60" font-size="12" fill="#3d409e" stroke="#3d409e" stroke-width="0.4">P3</text>
<text x="243.30" y="87.00" font-size="12" fill="#e3dc86" stroke="#e3dc86" stroke-width="0.4">P3</text>
<line x1="188.20" y1="205.80" x2="200.00" y2="205.80" stroke="#3d409e" stroke-width="1.3"/>
<line x1="188.20" y1="216.20" x2="200.00" y2="216.20" stroke="#e2d865" stroke-width="1.3"/>
<text x="202.30" y="208.20" font-size="12" fill="#141414" stroke="#141414" stroke-width="0.4">Normal</text>
<text x="202.30" y="218.30" font-size="12" fill="#141414" stroke="#141414" stroke-width="0.4">Noonan</text>
<text x="145.00" y="9.60" text-anchor="middle" font-size="12" font-weight="bold" fill="#141414" stroke="#141414" stroke-width="0.35">Males</text>
<text x="149.00" y="278.40" text-anchor="middle" font-size="12" font-weight="bold" fill="#141414" stroke="#141414" stroke-width="0.35">Age (years)</text>
<text transform="translate(9.70,131.00) rotate(-90)" text-anchor="middle" font-size="12" font-weight="bold" fill="#141414" stroke="#141414" stroke-width="0.35">Height (cm)</text>
<path d="M304.30,17.80 V242.00 H498.75" fill="none" stroke="#141414" stroke-width="2"/>
<line x1="299.80" y1="242.00" x2="304.30" y2="242.00" stroke="#141414" stroke-width="1.6"/>
<text x="297.80" y="245.10" text-anchor="end" font-size="12" fill="#141414" stroke="#141414" stroke-width="0.4">70</text>
<line x1="299.80" y1="204.80" x2="304.30" y2="204.80" stroke="#141414" stroke-width="1.6"/>
<text x="297.80" y="207.90" text-anchor="end" font-size="12" fill="#141414" stroke="#141414" stroke-width="0.4">90</text>
<line x1="299.80" y1="167.60" x2="304.30" y2="167.60" stroke="#141414" stroke-width="1.6"/>
<text x="297.80" y="170.70" text-anchor="end" font-size="12" fill="#141414" stroke="#141414" stroke-width="0.4">110</text>
<line x1="299.80" y1="130.40" x2="304.30" y2="130.40" stroke="#141414" stroke-width="1.6"/>
<text x="297.80" y="133.50" text-anchor="end" font-size="12" fill="#141414" stroke="#141414" stroke-width="0.4">130</text>
<line x1="299.80" y1="93.20" x2="304.30" y2="93.20" stroke="#141414" stroke-width="1.6"/>
<text x="297.80" y="96.30" text-anchor="end" font-size="12" fill="#141414" stroke="#141414" stroke-width="0.4">150</text>
<line x1="299.80" y1="56.00" x2="304.30" y2="56.00" stroke="#141414" stroke-width="1.6"/>
<text x="297.80" y="59.10" text-anchor="end" font-size="12" fill="#141414" stroke="#141414" stroke-width="0.4">170</text>
<line x1="299.80" y1="18.80" x2="304.30" y2="18.80" stroke="#141414" stroke-width="1.6"/>
<text x="297.80" y="21.90" text-anchor="end" font-size="12" fill="#141414" stroke="#141414" stroke-width="0.4">190</text>
<line x1="306.50" y1="242.00" x2="306.50" y2="246.00" stroke="#141414" stroke-width="1.6"/>
<text x="306.50" y="258.80" text-anchor="middle" font-size="11.8" fill="#141414" stroke="#141414" stroke-width="0.4">2</text>
<line x1="329.40" y1="242.00" x2="329.40" y2="246.00" stroke="#141414" stroke-width="1.6"/>
<text x="329.40" y="258.80" text-anchor="middle" font-size="11.8" fill="#141414" stroke="#141414" stroke-width="0.4">4</text>
<line x1="352.30" y1="242.00" x2="352.30" y2="246.00" stroke="#141414" stroke-width="1.6"/>
<text x="352.30" y="258.80" text-anchor="middle" font-size="11.8" fill="#141414" stroke="#141414" stroke-width="0.4">6</text>
<line x1="375.20" y1="242.00" x2="375.20" y2="246.00" stroke="#141414" stroke-width="1.6"/>
<text x="375.20" y="258.80" text-anchor="middle" font-size="11.8" fill="#141414" stroke="#141414" stroke-width="0.4">8</text>
<line x1="398.10" y1="242.00" x2="398.10" y2="246.00" stroke="#141414" stroke-width="1.6"/>
<text x="398.10" y="258.80" text-anchor="middle" font-size="11.8" fill="#141414" stroke="#141414" stroke-width="0.4">10</text>
<line x1="421.00" y1="242.00" x2="421.00" y2="246.00" stroke="#141414" stroke-width="1.6"/>
<text x="421.00" y="258.80" text-anchor="middle" font-size="11.8" fill="#141414" stroke="#141414" stroke-width="0.4">12</text>
<line x1="443.90" y1="242.00" x2="443.90" y2="246.00" stroke="#141414" stroke-width="1.6"/>
<text x="443.90" y="258.80" text-anchor="middle" font-size="11.8" fill="#141414" stroke="#141414" stroke-width="0.4">14</text>
<line x1="466.80" y1="242.00" x2="466.80" y2="246.00" stroke="#141414" stroke-width="1.6"/>
<text x="466.80" y="258.80" text-anchor="middle" font-size="11.8" fill="#141414" stroke="#141414" stroke-width="0.4">16</text>
<line x1="489.70" y1="242.00" x2="489.70" y2="246.00" stroke="#141414" stroke-width="1.6"/>
<text x="489.70" y="258.80" text-anchor="middle" font-size="11.8" fill="#141414" stroke="#141414" stroke-width="0.4">18</text>
<polyline points="306.50,235.34 307.46,234.65 308.41,233.94 309.37,233.21 310.32,232.47 311.28,231.71 312.24,230.93 313.19,230.13 314.15,229.31 315.10,228.46 316.06,227.58 317.02,226.67 317.97,225.74 318.93,224.77 319.89,223.78 320.84,222.76 321.80,221.71 322.75,220.66 323.71,219.59 324.67,218.53 325.62,217.48 326.58,216.46 327.53,215.46 328.49,214.50 329.45,213.58 330.40,212.69 331.36,211.84 332.31,211.03 333.27,210.24 334.23,209.47 335.18,208.71 336.14,207.96 337.10,207.20 338.05,206.44 339.01,205.66 339.96,204.86 340.92,204.04 341.88,203.20 342.83,202.34 343.79,201.45 344.74,200.55 345.70,199.64 346.66,198.71 347.61,197.78 348.57,196.85 349.52,195.93 350.48,195.01 351.44,194.10 352.39,193.20 353.35,192.31 354.31,191.43 355.26,190.57 356.22,189.71 357.17,188.87 358.13,188.03 359.09,187.21 360.04,186.41 361.00,185.62 361.95,184.84 362.91,184.08 363.87,183.34 364.82,182.62 365.78,181.91 366.73,181.22 367.69,180.53 368.65,179.86 369.60,179.19 370.56,178.52 371.52,177.85 372.47,177.18 373.43,176.49 374.38,175.79 375.34,175.08 376.30,174.36 377.25,173.62 378.21,172.87 379.16,172.11 380.12,171.34 381.08,170.57 382.03,169.79 382.99,169.01 383.94,168.23 384.90,167.45 385.86,166.68 386.81,165.90 387.77,165.14 388.72,164.37 389.68,163.61 390.64,162.85 391.59,162.10 392.55,161.34 393.51,160.59 394.46,159.85 395.42,159.10 396.37,158.36 397.33,157.61 398.29,156.87 399.24,156.14 400.20,155.40 401.15,154.66 402.11,153.93 403.07,153.20 404.02,152.46 404.98,151.73 405.93,150.99 406.89,150.24 407.85,149.49 408.80,148.73 409.76,147.97 410.72,147.20 411.67,146.42 412.63,145.64 413.58,144.85 414.54,144.06 415.50,143.28 416.45,142.49 417.41,141.71 418.36,140.94 419.32,140.17 420.28,139.41 421.23,138.66 422.19,137.92 423.14,137.19 424.10,136.47 425.06,135.76 426.01,135.07 426.97,134.40 427.93,133.76 428.88,133.15 429.84,132.58 430.79,132.04 431.75,131.54 432.71,131.08 433.66,130.65 434.62,130.25 435.57,129.88 436.53,129.52 437.49,129.16 438.44,128.80 439.40,128.43 440.35,128.05 441.31,127.65 442.27,127.23 443.22,126.81 444.18,126.38 445.14,125.94 446.09,125.51 447.05,125.08 448.00,124.67 448.96,124.27 449.92,123.89 450.87,123.52 451.83,123.18 452.78,122.86 453.74,122.56 454.70,122.27 455.65,122.00 456.61,121.75 457.56,121.50 458.52,121.27 459.48,121.05 460.43,120.84 461.39,120.64 462.34,120.44 463.30,120.26 464.26,120.07 465.21,119.90 466.17,119.73 467.13,119.57 468.08,119.41 469.04,119.26 469.99,119.11 470.95,118.97 471.91,118.83 472.86,118.69 473.82,118.55 474.77,118.42 475.73,118.29 476.69,118.16 477.64,118.04 478.60,117.92 479.55,117.80 480.51,117.68 481.47,117.56 482.42,117.45 483.38,117.34 484.34,117.23 485.29,117.12 486.25,117.01 487.20,116.90 488.16,116.80 489.12,116.70 490.07,116.59 491.03,116.49 491.98,116.39 492.94,116.30 493.90,116.20 494.85,116.11" fill="none" stroke="#e2d865" stroke-width="1.3" stroke-linejoin="round"/>
<polyline points="306.50,205.42 307.46,204.18 308.41,202.94 309.37,201.71 310.32,200.49 311.28,199.28 312.24,198.07 313.19,196.87 314.15,195.69 315.10,194.51 316.06,193.34 317.02,192.19 317.97,191.05 318.93,189.91 319.89,188.79 320.84,187.68 321.80,186.57 322.75,185.48 323.71,184.39 324.67,183.30 325.62,182.23 326.58,181.16 327.53,180.09 328.49,179.02 329.45,177.96 330.40,176.90 331.36,175.84 332.31,174.78 333.27,173.73 334.23,172.68 335.18,171.63 336.14,170.59 337.10,169.56 338.05,168.53 339.01,167.51 339.96,166.50 340.92,165.49 341.88,164.50 342.83,163.51 343.79,162.53 344.74,161.56 345.70,160.59 346.66,159.63 347.61,158.66 348.57,157.70 349.52,156.73 350.48,155.76 351.44,154.77 352.39,153.78 353.35,152.77 354.31,151.74 355.26,150.70 356.22,149.64 357.17,148.56 358.13,147.48 359.09,146.38 360.04,145.28 361.00,144.18 361.95,143.09 362.91,142.01 363.87,140.95 364.82,139.92 365.78,138.91 366.73,137.93 367.69,136.98 368.65,136.04 369.60,135.13 370.56,134.23 371.52,133.34 372.47,132.44 373.43,131.54 374.38,130.64 375.34,129.72 376.30,128.79 377.25,127.85 378.21,126.90 379.16,125.95 380.12,124.99 381.08,124.03 382.03,123.08 382.99,122.12 383.94,121.18 384.90,120.25 385.86,119.34 386.81,118.45 387.77,117.58 388.72,116.72 389.68,115.88 390.64,115.06 391.59,114.24 392.55,113.42 393.51,112.61 394.46,111.78 395.42,110.95 396.37,110.10 397.33,109.24 398.29,108.37 399.24,107.48 400.20,106.57 401.15,105.65 402.11,104.70 403.07,103.74 404.02,102.76 404.98,101.76 405.93,100.76 406.89,99.74 407.85,98.73 408.80,97.72 409.76,96.72 410.72,95.74 411.67,94.78 412.63,93.85 413.58,92.95 414.54,92.07 415.50,91.23 416.45,90.42 417.41,89.65 418.36,88.90 419.32,88.18 420.28,87.48 421.23,86.79 422.19,86.11 423.14,85.44 424.10,84.77 425.06,84.09 426.01,83.40 426.97,82.70 427.93,81.99 428.88,81.26 429.84,80.53 430.79,79.80 431.75,79.07 432.71,78.33 433.66,77.61 434.62,76.90 435.57,76.20 436.53,75.52 437.49,74.87 438.44,74.24 439.40,73.65 440.35,73.09 441.31,72.56 442.27,72.06 443.22,71.60 444.18,71.17 445.14,70.78 446.09,70.41 447.05,70.07 448.00,69.75 448.96,69.45 449.92,69.16 450.87,68.88 451.83,68.59 452.78,68.30 453.74,67.99 454.70,67.66 455.65,67.31 456.61,66.94 457.56,66.55 458.52,66.15 459.48,65.75 460.43,65.35 461.39,64.97 462.34,64.62 463.30,64.29 464.26,63.99 465.21,63.72 466.17,63.48 467.13,63.26 468.08,63.06 469.04,62.87 469.99,62.70 470.95,62.53 471.91,62.37 472.86,62.21 473.82,62.06 474.77,61.91 475.73,61.76 476.69,61.61 477.64,61.47 478.60,61.32 479.55,61.18 480.51,61.04 481.47,60.89 482.42,60.75 483.38,60.62 484.34,60.48 485.29,60.34 486.25,60.20 487.20,60.07 488.16,59.93 489.12,59.80 490.07,59.66 491.03,59.53 491.98,59.40 492.94,59.27 493.90,59.13 494.85,59.02" fill="none" stroke="#e2d865" stroke-width="1.3" stroke-linejoin="round"/>
<polyline points="306.50,221.66 307.46,220.53 308.42,219.40 309.37,218.26 310.33,217.10 311.29,215.93 312.25,214.75 313.21,213.56 314.16,212.37 315.12,211.19 316.08,210.02 317.04,208.88 318.00,207.77 318.95,206.68 319.91,205.62 320.87,204.60 321.83,203.59 322.79,202.60 323.75,201.62 324.70,200.65 325.66,199.68 326.62,198.71 327.58,197.74 328.54,196.77 329.49,195.80 330.45,194.83 331.41,193.87 332.37,192.91 333.33,191.96 334.28,191.01 335.24,190.08 336.20,189.17 337.16,188.26 338.12,187.38 339.07,186.50 340.03,185.65 340.99,184.80 341.95,183.95 342.91,183.09 343.86,182.22 344.82,181.32 345.78,180.39 346.74,179.42 347.70,178.42 348.65,177.40 349.61,176.39 350.57,175.39 351.53,174.43 352.49,173.52 353.44,172.67 354.40,171.88 355.36,171.14 356.32,170.43 357.28,169.76 358.24,169.10 359.19,168.44 360.15,167.78 361.11,167.11 362.07,166.42 363.03,165.73 363.98,165.01 364.94,164.28 365.90,163.53 366.86,162.76 367.82,161.97 368.77,161.16 369.73,160.33 370.69,159.47 371.65,158.58 372.61,157.67 373.56,156.72 374.52,155.75 375.48,154.76 376.44,153.75 377.40,152.73 378.35,151.71 379.31,150.71 380.27,149.73 381.23,148.79 382.19,147.87 383.14,146.99 384.10,146.15 385.06,145.32 386.02,144.51 386.98,143.72 387.94,142.94 388.89,142.16 389.85,141.39 390.81,140.63 391.77,139.87 392.73,139.11 393.68,138.34 394.64,137.55 395.60,136.74 396.56,135.90 397.52,135.01 398.47,134.08 399.43,133.10 400.39,132.09 401.35,131.07 402.31,130.03 403.26,129.01 404.22,128.01 405.18,127.04 406.14,126.11 407.10,125.20 408.05,124.32 409.01,123.46 409.97,122.60 410.93,121.74 411.89,120.87 412.84,120.00 413.80,119.11 414.76,118.21 415.72,117.31 416.68,116.40 417.64,115.52 418.59,114.66 419.55,113.84 420.51,113.07 421.47,112.36 422.43,111.70 423.38,111.08 424.34,110.50 425.30,109.94 426.26,109.39 427.22,108.83 428.17,108.27 429.13,107.69 430.09,107.10 431.05,106.50 432.01,105.90 432.96,105.29 433.92,104.69 434.88,104.11 435.84,103.54 436.80,102.99 437.75,102.46 438.71,101.96 439.67,101.46 440.63,100.97 441.59,100.48 442.54,99.97 443.50,99.44 444.46,98.89 445.42,98.32 446.38,97.73 447.33,97.14 448.29,96.55 449.25,95.99 450.21,95.46 451.17,94.97 452.13,94.52 453.08,94.12 454.04,93.75 455.00,93.42 455.96,93.13 456.92,92.86 457.87,92.62 458.83,92.39 459.79,92.17 460.75,91.96 461.71,91.76 462.66,91.56 463.62,91.36 464.58,91.17 465.54,90.97 466.50,90.78 467.45,90.59 468.41,90.40 469.37,90.20 470.33,90.01 471.29,89.82 472.24,89.63 473.20,89.44 474.16,89.25 475.12,89.07 476.08,88.89 477.03,88.73 477.99,88.58 478.95,88.44 479.91,88.31 480.87,88.18 481.83,88.05 482.78,87.93 483.74,87.79 484.70,87.65 485.66,87.49 486.62,87.33 487.57,87.16 488.53,87.00 489.49,86.83 490.45,86.68 491.41,86.53 492.36,86.39 493.32,86.26 494.28,86.14" fill="none" stroke="#e2d865" stroke-width="1.3" stroke-linejoin="round"/>
<circle cx="306.50" cy="221.66" r="2.05" fill="#f4ecc0" fill-opacity="0.5" stroke="#ddd46a" stroke-width="1.25"/>
<circle cx="312.23" cy="214.78" r="2.05" fill="#f4ecc0" fill-opacity="0.5" stroke="#ddd46a" stroke-width="1.25"/>
<circle cx="317.95" cy="207.82" r="2.05" fill="#f4ecc0" fill-opacity="0.5" stroke="#ddd46a" stroke-width="1.25"/>
<circle cx="323.68" cy="201.69" r="2.05" fill="#f4ecc0" fill-opacity="0.5" stroke="#ddd46a" stroke-width="1.25"/>
<circle cx="329.40" cy="195.89" r="2.05" fill="#f4ecc0" fill-opacity="0.5" stroke="#ddd46a" stroke-width="1.25"/>
<circle cx="335.12" cy="190.20" r="2.05" fill="#f4ecc0" fill-opacity="0.5" stroke="#ddd46a" stroke-width="1.25"/>
<circle cx="340.85" cy="184.92" r="2.05" fill="#f4ecc0" fill-opacity="0.5" stroke="#ddd46a" stroke-width="1.25"/>
<circle cx="346.57" cy="179.59" r="2.05" fill="#f4ecc0" fill-opacity="0.5" stroke="#ddd46a" stroke-width="1.25"/>
<circle cx="352.30" cy="173.69" r="2.05" fill="#f4ecc0" fill-opacity="0.5" stroke="#ddd46a" stroke-width="1.25"/>
<circle cx="358.02" cy="169.24" r="2.05" fill="#f4ecc0" fill-opacity="0.5" stroke="#ddd46a" stroke-width="1.25"/>
<circle cx="363.75" cy="165.19" r="2.05" fill="#f4ecc0" fill-opacity="0.5" stroke="#ddd46a" stroke-width="1.25"/>
<circle cx="369.48" cy="160.55" r="2.05" fill="#f4ecc0" fill-opacity="0.5" stroke="#ddd46a" stroke-width="1.25"/>
<circle cx="375.20" cy="155.05" r="2.05" fill="#f4ecc0" fill-opacity="0.5" stroke="#ddd46a" stroke-width="1.25"/>
<circle cx="380.93" cy="149.08" r="2.05" fill="#f4ecc0" fill-opacity="0.5" stroke="#ddd46a" stroke-width="1.25"/>
<circle cx="386.65" cy="143.99" r="2.05" fill="#f4ecc0" fill-opacity="0.5" stroke="#ddd46a" stroke-width="1.25"/>
<circle cx="392.38" cy="139.38" r="2.05" fill="#f4ecc0" fill-opacity="0.5" stroke="#ddd46a" stroke-width="1.25"/>
<circle cx="398.10" cy="134.45" r="2.05" fill="#f4ecc0" fill-opacity="0.5" stroke="#ddd46a" stroke-width="1.25"/>
<circle cx="403.82" cy="128.42" r="2.05" fill="#f4ecc0" fill-opacity="0.5" stroke="#ddd46a" stroke-width="1.25"/>
<circle cx="409.55" cy="122.97" r="2.05" fill="#f4ecc0" fill-opacity="0.5" stroke="#ddd46a" stroke-width="1.25"/>
<circle cx="415.27" cy="117.73" r="2.05" fill="#f4ecc0" fill-opacity="0.5" stroke="#ddd46a" stroke-width="1.25"/>
<circle cx="421.00" cy="112.70" r="2.05" fill="#f4ecc0" fill-opacity="0.5" stroke="#ddd46a" stroke-width="1.25"/>
<circle cx="426.73" cy="109.12" r="2.05" fill="#f4ecc0" fill-opacity="0.5" stroke="#ddd46a" stroke-width="1.25"/>
<circle cx="432.45" cy="105.62" r="2.05" fill="#f4ecc0" fill-opacity="0.5" stroke="#ddd46a" stroke-width="1.25"/>
<circle cx="438.17" cy="102.24" r="2.05" fill="#f4ecc0" fill-opacity="0.5" stroke="#ddd46a" stroke-width="1.25"/>
<circle cx="443.90" cy="99.22" r="2.05" fill="#f4ecc0" fill-opacity="0.5" stroke="#ddd46a" stroke-width="1.25"/>
<circle cx="449.62" cy="95.78" r="2.05" fill="#f4ecc0" fill-opacity="0.5" stroke="#ddd46a" stroke-width="1.25"/>
<circle cx="455.35" cy="93.31" r="2.05" fill="#f4ecc0" fill-opacity="0.5" stroke="#ddd46a" stroke-width="1.25"/>
<circle cx="461.07" cy="91.90" r="2.05" fill="#f4ecc0" fill-opacity="0.5" stroke="#ddd46a" stroke-width="1.25"/>
<circle cx="466.80" cy="90.72" r="2.05" fill="#f4ecc0" fill-opacity="0.5" stroke="#ddd46a" stroke-width="1.25"/>
<circle cx="472.52" cy="89.57" r="2.05" fill="#f4ecc0" fill-opacity="0.5" stroke="#ddd46a" stroke-width="1.25"/>
<circle cx="478.25" cy="88.54" r="2.05" fill="#f4ecc0" fill-opacity="0.5" stroke="#ddd46a" stroke-width="1.25"/>
<circle cx="483.98" cy="87.76" r="2.05" fill="#f4ecc0" fill-opacity="0.5" stroke="#ddd46a" stroke-width="1.25"/>
<circle cx="489.70" cy="86.80" r="2.05" fill="#f4ecc0" fill-opacity="0.5" stroke="#ddd46a" stroke-width="1.25"/>
<polyline points="306.50,222.99 307.46,222.04 308.42,221.10 309.37,220.15 310.33,219.19 311.29,218.24 312.25,217.27 313.21,216.31 314.16,215.34 315.12,214.37 316.08,213.39 317.04,212.41 318.00,211.42 318.95,210.43 319.91,209.43 320.87,208.43 321.83,207.43 322.79,206.42 323.75,205.41 324.70,204.39 325.66,203.38 326.62,202.36 327.58,201.34 328.54,200.32 329.49,199.29 330.45,198.27 331.41,197.24 332.37,196.22 333.33,195.19 334.28,194.16 335.24,193.13 336.20,192.10 337.16,191.07 338.12,190.04 339.07,189.00 340.03,187.97 340.99,186.93 341.95,185.89 342.91,184.86 343.86,183.82 344.82,182.78 345.78,181.74 346.74,180.71 347.70,179.69 348.65,178.67 349.61,177.66 350.57,176.67 351.53,175.68 352.49,174.71 353.44,173.76 354.40,172.81 355.36,171.88 356.32,170.96 357.28,170.05 358.24,169.14 359.19,168.24 360.15,167.34 361.11,166.44 362.07,165.54 363.03,164.64 363.98,163.73 364.94,162.82 365.90,161.91 366.86,161.00 367.82,160.09 368.77,159.18 369.73,158.28 370.69,157.40 371.65,156.53 372.61,155.67 373.56,154.85 374.52,154.04 375.48,153.26 376.44,152.50 377.40,151.76 378.35,151.05 379.31,150.35 380.27,149.67 381.23,149.00 382.19,148.34 383.14,147.68 384.10,147.03 385.06,146.38 386.02,145.74 386.98,145.09 387.94,144.45 388.89,143.80 389.85,143.16 390.81,142.51 391.77,141.85 392.73,141.18 393.68,140.50 394.64,139.80 395.60,139.07 396.56,138.31 397.52,137.51 398.47,136.68 399.43,135.82 400.39,134.91 401.35,133.97 402.31,133.00 403.26,132.00 404.22,130.97 405.18,129.94 406.14,128.89 407.10,127.83 408.05,126.77 409.01,125.72 409.97,124.66 410.93,123.60 411.89,122.55 412.84,121.50 413.80,120.46 414.76,119.43 415.72,118.40 416.68,117.39 417.64,116.39 418.59,115.42 419.55,114.46 420.51,113.52 421.47,112.61 422.43,111.72 423.38,110.85 424.34,110.00 425.30,109.17 426.26,108.36 427.22,107.57 428.17,106.80 429.13,106.06 430.09,105.33 431.05,104.63 432.01,103.95 432.96,103.29 433.92,102.65 434.88,102.04 435.84,101.46 436.80,100.90 437.75,100.36 438.71,99.85 439.67,99.37 440.63,98.91 441.59,98.47 442.54,98.05 443.50,97.63 444.46,97.23 445.42,96.82 446.38,96.43 447.33,96.04 448.29,95.66 449.25,95.29 450.21,94.94 451.17,94.61 452.13,94.30 453.08,94.01 454.04,93.73 455.00,93.48 455.96,93.25 456.92,93.03 457.87,92.83 458.83,92.64 459.79,92.48 460.75,92.32 461.71,92.19 462.66,92.06 463.62,91.95 464.58,91.86 465.54,91.77 466.50,91.69 467.45,91.62 468.41,91.56 469.37,91.51 470.33,91.46 471.29,91.42 472.24,91.39 473.20,91.36 474.16,91.34 475.12,91.33 476.08,91.32 477.03,91.31 477.99,91.31 478.95,91.30 479.91,91.30 480.87,91.30 481.83,91.30 482.78,91.30 483.74,91.30 484.70,91.30 485.66,91.30 486.62,91.30 487.57,91.30 488.53,91.30 489.49,91.30 490.45,91.30 491.41,91.30 492.36,91.30 493.32,91.30 494.28,91.30" fill="none" stroke="#3d409e" stroke-width="1.3" stroke-linejoin="round"/>
<polyline points="306.50,197.51 307.46,196.21 308.42,194.91 309.37,193.61 310.33,192.32 311.29,191.03 312.25,189.75 313.21,188.47 314.16,187.20 315.12,185.93 316.08,184.66 317.04,183.40 318.00,182.15 318.95,180.90 319.91,179.66 320.87,178.42 321.83,177.19 322.79,175.96 323.75,174.74 324.70,173.52 325.66,172.31 326.62,171.11 327.58,169.90 328.54,168.70 329.49,167.51 330.45,166.31 331.41,165.11 332.37,163.91 333.33,162.70 334.28,161.49 335.24,160.28 336.20,159.06 337.16,157.83 338.12,156.61 339.07,155.37 340.03,154.14 340.99,152.90 341.95,151.65 342.91,150.40 343.86,149.14 344.82,147.88 345.78,146.61 346.74,145.35 347.70,144.08 348.65,142.82 349.61,141.57 350.57,140.34 351.53,139.13 352.49,137.94 353.44,136.79 354.40,135.66 355.36,134.57 356.32,133.52 357.28,132.49 358.24,131.48 359.19,130.50 360.15,129.54 361.11,128.58 362.07,127.64 363.03,126.70 363.98,125.76 364.94,124.82 365.90,123.88 366.86,122.94 367.82,122.00 368.77,121.06 369.73,120.12 370.69,119.17 371.65,118.22 372.61,117.27 373.56,116.31 374.52,115.34 375.48,114.37 376.44,113.40 377.40,112.42 378.35,111.43 379.31,110.44 380.27,109.44 381.23,108.44 382.19,107.43 383.14,106.41 384.10,105.39 385.06,104.37 386.02,103.34 386.98,102.30 387.94,101.25 388.89,100.20 389.85,99.15 390.81,98.09 391.77,97.02 392.73,95.96 393.68,94.90 394.64,93.84 395.60,92.79 396.56,91.74 397.52,90.70 398.47,89.67 399.43,88.65 400.39,87.63 401.35,86.62 402.31,85.62 403.26,84.61 404.22,83.61 405.18,82.59 406.14,81.57 407.10,80.54 408.05,79.49 409.01,78.42 409.97,77.33 410.93,76.22 411.89,75.10 412.84,73.96 413.80,72.83 414.76,71.70 415.72,70.59 416.68,69.51 417.64,68.46 418.59,67.47 419.55,66.52 420.51,65.62 421.47,64.78 422.43,63.99 423.38,63.25 424.34,62.56 425.30,61.90 426.26,61.29 427.22,60.71 428.17,60.16 429.13,59.64 430.09,59.14 431.05,58.68 432.01,58.23 432.96,57.81 433.92,57.40 434.88,57.00 435.84,56.62 436.80,56.23 437.75,55.85 438.71,55.46 439.67,55.06 440.63,54.66 441.59,54.27 442.54,53.88 443.50,53.52 444.46,53.18 445.42,52.88 446.38,52.60 447.33,52.36 448.29,52.15 449.25,51.97 450.21,51.80 451.17,51.65 452.13,51.51 453.08,51.38 454.04,51.26 455.00,51.15 455.96,51.04 456.92,50.94 457.87,50.85 458.83,50.76 459.79,50.68 460.75,50.61 461.71,50.54 462.66,50.48 463.62,50.43 464.58,50.39 465.54,50.35 466.50,50.31 467.45,50.28 468.41,50.25 469.37,50.22 470.33,50.20 471.29,50.18 472.24,50.16 473.20,50.13 474.16,50.12 475.12,50.10 476.08,50.08 477.03,50.06 477.99,50.04 478.95,50.02 479.91,50.00 480.87,49.99 481.83,49.97 482.78,49.95 483.74,49.94 484.70,49.92 485.66,49.91 486.62,49.89 487.57,49.88 488.53,49.87 489.49,49.86 490.45,49.84 491.41,49.83 492.36,49.82 493.32,49.81 494.28,49.80" fill="none" stroke="#3d409e" stroke-width="1.3" stroke-linejoin="round"/>
<polyline points="306.50,210.77 307.46,209.37 308.42,207.98 309.37,206.62 310.33,205.28 311.29,203.96 312.25,202.67 313.21,201.41 314.16,200.16 315.12,198.94 316.08,197.74 317.04,196.55 318.00,195.37 318.95,194.20 319.91,193.04 320.87,191.87 321.83,190.71 322.79,189.54 323.75,188.37 324.70,187.20 325.66,186.02 326.62,184.85 327.58,183.69 328.54,182.53 329.49,181.38 330.45,180.25 331.41,179.13 332.37,178.03 333.33,176.96 334.28,175.90 335.24,174.87 336.20,173.86 337.16,172.87 338.12,171.89 339.07,170.91 340.03,169.94 340.99,168.97 341.95,168.00 342.91,167.02 343.86,166.04 344.82,165.06 345.78,164.08 346.74,163.09 347.70,162.12 348.65,161.14 349.61,160.16 350.57,159.17 351.53,158.18 352.49,157.19 353.44,156.20 354.40,155.21 355.36,154.23 356.32,153.27 357.28,152.34 358.24,151.42 359.19,150.54 360.15,149.68 361.11,148.84 362.07,148.00 363.03,147.17 363.98,146.33 364.94,145.48 365.90,144.62 366.86,143.75 367.82,142.87 368.77,141.98 369.73,141.08 370.69,140.19 371.65,139.30 372.61,138.40 373.56,137.51 374.52,136.62 375.48,135.74 376.44,134.85 377.40,133.98 378.35,133.11 379.31,132.25 380.27,131.40 381.23,130.56 382.19,129.72 383.14,128.90 384.10,128.07 385.06,127.23 386.02,126.38 386.98,125.52 387.94,124.65 388.89,123.76 389.85,122.85 390.81,121.93 391.77,121.00 392.73,120.07 393.68,119.13 394.64,118.18 395.60,117.22 396.56,116.25 397.52,115.27 398.47,114.27 399.43,113.26 400.39,112.24 401.35,111.20 402.31,110.15 403.26,109.08 404.22,108.02 405.18,106.95 406.14,105.88 407.10,104.82 408.05,103.77 409.01,102.73 409.97,101.71 410.93,100.70 411.89,99.71 412.84,98.73 413.80,97.75 414.76,96.79 415.72,95.82 416.68,94.86 417.64,93.91 418.59,92.97 419.55,92.03 420.51,91.11 421.47,90.21 422.43,89.33 423.38,88.46 424.34,87.62 425.30,86.80 426.26,86.00 427.22,85.22 428.17,84.47 429.13,83.74 430.09,83.05 431.05,82.38 432.01,81.75 432.96,81.15 433.92,80.58 434.88,80.04 435.84,79.53 436.80,79.04 437.75,78.57 438.71,78.11 439.67,77.68 440.63,77.25 441.59,76.85 442.54,76.46 443.50,76.08 444.46,75.72 445.42,75.38 446.38,75.05 447.33,74.73 448.29,74.42 449.25,74.12 450.21,73.83 451.17,73.54 452.13,73.27 453.08,73.01 454.04,72.76 455.00,72.53 455.96,72.31 456.92,72.12 457.87,71.95 458.83,71.80 459.79,71.66 460.75,71.55 461.71,71.45 462.66,71.37 463.62,71.30 464.58,71.23 465.54,71.18 466.50,71.13 467.45,71.09 468.41,71.05 469.37,71.01 470.33,70.97 471.29,70.93 472.24,70.89 473.20,70.84 474.16,70.80 475.12,70.76 476.08,70.72 477.03,70.69 477.99,70.66 478.95,70.64 479.91,70.62 480.87,70.60 481.83,70.58 482.78,70.55 483.74,70.52 484.70,70.49 485.66,70.45 486.62,70.41 487.57,70.37 488.53,70.33 489.49,70.29 490.45,70.27 491.41,70.24 492.36,70.23 493.32,70.22 494.28,70.21" fill="none" stroke="#3d409e" stroke-width="1.3" stroke-linejoin="round"/>
<circle cx="306.50" cy="210.77" r="1.95" fill="none" stroke="#3d409e" stroke-width="1.35"/>
<circle cx="312.23" cy="202.70" r="1.95" fill="none" stroke="#3d409e" stroke-width="1.35"/>
<circle cx="317.95" cy="195.43" r="1.95" fill="none" stroke="#3d409e" stroke-width="1.35"/>
<circle cx="323.68" cy="188.45" r="1.95" fill="none" stroke="#3d409e" stroke-width="1.35"/>
<circle cx="329.40" cy="181.49" r="1.95" fill="none" stroke="#3d409e" stroke-width="1.35"/>
<circle cx="335.12" cy="175.00" r="1.95" fill="none" stroke="#3d409e" stroke-width="1.35"/>
<circle cx="340.85" cy="169.11" r="1.95" fill="none" stroke="#3d409e" stroke-width="1.35"/>
<circle cx="346.57" cy="163.26" r="1.95" fill="none" stroke="#3d409e" stroke-width="1.35"/>
<circle cx="352.30" cy="157.39" r="1.95" fill="none" stroke="#3d409e" stroke-width="1.35"/>
<circle cx="358.02" cy="151.62" r="1.95" fill="none" stroke="#3d409e" stroke-width="1.35"/>
<circle cx="363.75" cy="146.53" r="1.95" fill="none" stroke="#3d409e" stroke-width="1.35"/>
<circle cx="369.48" cy="141.32" r="1.95" fill="none" stroke="#3d409e" stroke-width="1.35"/>
<circle cx="375.20" cy="136.00" r="1.95" fill="none" stroke="#3d409e" stroke-width="1.35"/>
<circle cx="380.93" cy="130.82" r="1.95" fill="none" stroke="#3d409e" stroke-width="1.35"/>
<circle cx="386.65" cy="125.82" r="1.95" fill="none" stroke="#3d409e" stroke-width="1.35"/>
<circle cx="392.38" cy="120.41" r="1.95" fill="none" stroke="#3d409e" stroke-width="1.35"/>
<circle cx="398.10" cy="114.66" r="1.95" fill="none" stroke="#3d409e" stroke-width="1.35"/>
<circle cx="403.82" cy="108.46" r="1.95" fill="none" stroke="#3d409e" stroke-width="1.35"/>
<circle cx="409.55" cy="102.16" r="1.95" fill="none" stroke="#3d409e" stroke-width="1.35"/>
<circle cx="415.27" cy="96.27" r="1.95" fill="none" stroke="#3d409e" stroke-width="1.35"/>
<circle cx="421.00" cy="90.65" r="1.95" fill="none" stroke="#3d409e" stroke-width="1.35"/>
<circle cx="426.73" cy="85.62" r="1.95" fill="none" stroke="#3d409e" stroke-width="1.35"/>
<circle cx="432.45" cy="81.47" r="1.95" fill="none" stroke="#3d409e" stroke-width="1.35"/>
<circle cx="438.17" cy="78.37" r="1.95" fill="none" stroke="#3d409e" stroke-width="1.35"/>
<circle cx="443.90" cy="75.93" r="1.95" fill="none" stroke="#3d409e" stroke-width="1.35"/>
<circle cx="449.62" cy="74.01" r="1.95" fill="none" stroke="#3d409e" stroke-width="1.35"/>
<circle cx="455.35" cy="72.45" r="1.95" fill="none" stroke="#3d409e" stroke-width="1.35"/>
<circle cx="461.07" cy="71.51" r="1.95" fill="none" stroke="#3d409e" stroke-width="1.35"/>
<circle cx="466.80" cy="71.12" r="1.95" fill="none" stroke="#3d409e" stroke-width="1.35"/>
<circle cx="472.52" cy="70.87" r="1.95" fill="none" stroke="#3d409e" stroke-width="1.35"/>
<circle cx="478.25" cy="70.66" r="1.95" fill="none" stroke="#3d409e" stroke-width="1.35"/>
<circle cx="483.98" cy="70.52" r="1.95" fill="none" stroke="#3d409e" stroke-width="1.35"/>
<circle cx="489.70" cy="70.29" r="1.95" fill="none" stroke="#3d409e" stroke-width="1.35"/>
<text x="499.80" y="52.30" font-size="12" fill="#3d409e" stroke="#3d409e" stroke-width="0.4">P97</text>
<text x="499.80" y="62.10" font-size="12" fill="#e3dc86" stroke="#e3dc86" stroke-width="0.4">P97</text>
<text x="499.80" y="73.20" font-size="12" fill="#3d409e" stroke="#3d409e" stroke-width="0.4">P50</text>
<text x="499.80" y="85.40" font-size="12" fill="#e3dc86" stroke="#e3dc86" stroke-width="0.4">P50</text>
<text x="499.80" y="96.50" font-size="12" fill="#3d409e" stroke="#3d409e" stroke-width="0.4">P3</text>
<text x="499.80" y="118.20" font-size="12" fill="#e3dc86" stroke="#e3dc86" stroke-width="0.4">P3</text>
<line x1="444.60" y1="205.80" x2="456.60" y2="205.80" stroke="#3d409e" stroke-width="1.3"/>
<line x1="444.60" y1="216.50" x2="456.60" y2="216.50" stroke="#e2d865" stroke-width="1.3"/>
<text x="458.50" y="208.20" font-size="12" fill="#141414" stroke="#141414" stroke-width="0.4">Normal</text>
<text x="458.50" y="218.60" font-size="12" fill="#141414" stroke="#141414" stroke-width="0.4">Noonan</text>
<text x="401.20" y="9.50" text-anchor="middle" font-size="12" font-weight="bold" fill="#141414" stroke="#141414" stroke-width="0.35">Females</text>
<text x="404.80" y="278.80" text-anchor="middle" font-size="12" font-weight="bold" fill="#141414" stroke="#141414" stroke-width="0.35">Age (years)</text>
<text transform="translate(274.50,131.00) rotate(-90)" text-anchor="middle" font-size="12" font-weight="bold" fill="#141414" stroke="#141414" stroke-width="0.35">Height (cm)</text>
<path d="M46.10,327.50 V551.25 H240.00" fill="none" stroke="#141414" stroke-width="2"/>
<line x1="41.60" y1="551.25" x2="46.10" y2="551.25" stroke="#141414" stroke-width="1.6"/>
<text x="39.60" y="554.35" text-anchor="end" font-size="12" fill="#141414" stroke="#141414" stroke-width="0.4">0</text>
<line x1="41.60" y1="506.70" x2="46.10" y2="506.70" stroke="#141414" stroke-width="1.6"/>
<text x="39.60" y="509.80" text-anchor="end" font-size="12" fill="#141414" stroke="#141414" stroke-width="0.4">20</text>
<line x1="41.60" y1="462.15" x2="46.10" y2="462.15" stroke="#141414" stroke-width="1.6"/>
<text x="39.60" y="465.25" text-anchor="end" font-size="12" fill="#141414" stroke="#141414" stroke-width="0.4">40</text>
<line x1="41.60" y1="417.60" x2="46.10" y2="417.60" stroke="#141414" stroke-width="1.6"/>
<text x="39.60" y="420.70" text-anchor="end" font-size="12" fill="#141414" stroke="#141414" stroke-width="0.4">60</text>
<line x1="41.60" y1="373.05" x2="46.10" y2="373.05" stroke="#141414" stroke-width="1.6"/>
<text x="39.60" y="376.15" text-anchor="end" font-size="12" fill="#141414" stroke="#141414" stroke-width="0.4">80</text>
<line x1="41.60" y1="328.50" x2="46.10" y2="328.50" stroke="#141414" stroke-width="1.6"/>
<text x="39.60" y="331.60" text-anchor="end" font-size="12" fill="#141414" stroke="#141414" stroke-width="0.4">100</text>
<line x1="48.25" y1="551.25" x2="48.25" y2="555.25" stroke="#141414" stroke-width="1.6"/>
<text x="48.25" y="568.05" text-anchor="middle" font-size="11.8" fill="#141414" stroke="#141414" stroke-width="0.4">2</text>
<line x1="71.05" y1="551.25" x2="71.05" y2="555.25" stroke="#141414" stroke-width="1.6"/>
<text x="71.05" y="568.05" text-anchor="middle" font-size="11.8" fill="#141414" stroke="#141414" stroke-width="0.4">4</text>
<line x1="93.85" y1="551.25" x2="93.85" y2="555.25" stroke="#141414" stroke-width="1.6"/>
<text x="93.85" y="568.05" text-anchor="middle" font-size="11.8" fill="#141414" stroke="#141414" stroke-width="0.4">6</text>
<line x1="116.65" y1="551.25" x2="116.65" y2="555.25" stroke="#141414" stroke-width="1.6"/>
<text x="116.65" y="568.05" text-anchor="middle" font-size="11.8" fill="#141414" stroke="#141414" stroke-width="0.4">8</text>
<line x1="139.45" y1="551.25" x2="139.45" y2="555.25" stroke="#141414" stroke-width="1.6"/>
<text x="139.45" y="568.05" text-anchor="middle" font-size="11.8" fill="#141414" stroke="#141414" stroke-width="0.4">10</text>
<line x1="162.25" y1="551.25" x2="162.25" y2="555.25" stroke="#141414" stroke-width="1.6"/>
<text x="162.25" y="568.05" text-anchor="middle" font-size="11.8" fill="#141414" stroke="#141414" stroke-width="0.4">12</text>
<line x1="185.05" y1="551.25" x2="185.05" y2="555.25" stroke="#141414" stroke-width="1.6"/>
<text x="185.05" y="568.05" text-anchor="middle" font-size="11.8" fill="#141414" stroke="#141414" stroke-width="0.4">14</text>
<line x1="207.85" y1="551.25" x2="207.85" y2="555.25" stroke="#141414" stroke-width="1.6"/>
<text x="207.85" y="568.05" text-anchor="middle" font-size="11.8" fill="#141414" stroke="#141414" stroke-width="0.4">16</text>
<line x1="230.65" y1="551.25" x2="230.65" y2="555.25" stroke="#141414" stroke-width="1.6"/>
<text x="230.65" y="568.05" text-anchor="middle" font-size="11.8" fill="#141414" stroke="#141414" stroke-width="0.4">18</text>
<polyline points="48.25,533.79 49.20,533.66 50.16,533.53 51.11,533.39 52.07,533.25 53.02,533.11 53.97,532.96 54.93,532.81 55.88,532.66 56.84,532.50 57.79,532.33 58.74,532.16 59.70,531.99 60.65,531.82 61.61,531.64 62.56,531.45 63.51,531.27 64.47,531.08 65.42,530.88 66.38,530.69 67.33,530.48 68.28,530.28 69.24,530.07 70.19,529.85 71.15,529.63 72.10,529.41 73.05,529.17 74.01,528.93 74.96,528.68 75.92,528.43 76.87,528.17 77.82,527.90 78.78,527.62 79.73,527.34 80.69,527.06 81.64,526.77 82.60,526.48 83.55,526.18 84.50,525.89 85.46,525.60 86.41,525.30 87.37,525.01 88.32,524.73 89.27,524.44 90.23,524.16 91.18,523.88 92.14,523.61 93.09,523.35 94.04,523.08 95.00,522.83 95.95,522.58 96.91,522.33 97.86,522.09 98.81,521.85 99.77,521.61 100.72,521.38 101.68,521.15 102.63,520.92 103.58,520.69 104.54,520.46 105.49,520.23 106.45,520.00 107.40,519.77 108.35,519.53 109.31,519.30 110.26,519.06 111.22,518.82 112.17,518.57 113.12,518.33 114.08,518.07 115.03,517.82 115.99,517.56 116.94,517.29 117.89,517.02 118.85,516.75 119.80,516.48 120.76,516.20 121.71,515.91 122.66,515.63 123.62,515.34 124.57,515.05 125.53,514.75 126.48,514.45 127.43,514.15 128.39,513.84 129.34,513.53 130.30,513.22 131.25,512.90 132.20,512.57 133.16,512.25 134.11,511.91 135.07,511.58 136.02,511.23 136.97,510.88 137.93,510.53 138.88,510.17 139.84,509.80 140.79,509.42 141.74,509.03 142.70,508.64 143.65,508.24 144.61,507.83 145.56,507.41 146.52,506.98 147.47,506.55 148.42,506.11 149.38,505.66 150.33,505.21 151.29,504.75 152.24,504.29 153.19,503.82 154.15,503.34 155.10,502.85 156.06,502.36 157.01,501.85 157.96,501.34 158.92,500.82 159.87,500.29 160.83,499.74 161.78,499.19 162.73,498.62 163.69,498.04 164.64,497.45 165.60,496.85 166.55,496.23 167.50,495.61 168.46,494.98 169.41,494.35 170.37,493.71 171.32,493.07 172.27,492.44 173.23,491.80 174.18,491.16 175.14,490.53 176.09,489.90 177.04,489.27 178.00,488.64 178.95,488.01 179.91,487.38 180.86,486.75 181.81,486.13 182.77,485.50 183.72,484.88 184.68,484.25 185.63,483.63 186.58,483.01 187.54,482.39 188.49,481.77 189.45,481.15 190.40,480.54 191.35,479.92 192.31,479.31 193.26,478.69 194.22,478.08 195.17,477.46 196.12,476.85 197.08,476.23 198.03,475.61 198.99,475.00 199.94,474.38 200.89,473.75 201.85,473.13 202.80,472.50 203.76,471.88 204.71,471.24 205.67,470.61 206.62,469.98 207.57,469.35 208.53,468.71 209.48,468.08 210.44,467.46 211.39,466.84 212.34,466.22 213.30,465.62 214.25,465.02 215.21,464.43 216.16,463.85 217.11,463.28 218.07,462.72 219.02,462.17 219.98,461.63 220.93,461.09 221.88,460.56 222.84,460.04 223.79,459.53 224.75,459.02 225.70,458.52 226.65,458.03 227.61,457.54 228.56,457.06 229.52,456.58 230.47,456.12 231.42,455.66 232.38,455.20 233.33,454.75 234.29,454.31 235.24,453.88 236.19,453.44 237.15,453.07" fill="none" stroke="#e2d865" stroke-width="1.3" stroke-linejoin="round"/>
<polyline points="48.25,519.28 49.20,519.08 50.16,518.89 51.11,518.68 52.07,518.47 53.02,518.25 53.97,518.03 54.93,517.79 55.88,517.55 56.84,517.30 57.79,517.04 58.74,516.77 59.70,516.50 60.65,516.22 61.61,515.93 62.56,515.64 63.51,515.34 64.47,515.03 65.42,514.72 66.38,514.40 67.33,514.07 68.28,513.74 69.24,513.40 70.19,513.05 71.15,512.70 72.10,512.33 73.05,511.96 74.01,511.57 74.96,511.17 75.92,510.75 76.87,510.33 77.82,509.90 78.78,509.45 79.73,508.99 80.69,508.53 81.64,508.05 82.60,507.57 83.55,507.08 84.50,506.59 85.46,506.09 86.41,505.59 87.37,505.08 88.32,504.57 89.27,504.06 90.23,503.54 91.18,503.03 92.14,502.51 93.09,502.00 94.04,501.48 95.00,500.95 95.95,500.43 96.91,499.90 97.86,499.36 98.81,498.82 99.77,498.28 100.72,497.73 101.68,497.18 102.63,496.63 103.58,496.07 104.54,495.52 105.49,494.96 106.45,494.41 107.40,493.85 108.35,493.29 109.31,492.72 110.26,492.15 111.22,491.58 112.17,490.99 113.12,490.39 114.08,489.78 115.03,489.15 115.99,488.51 116.94,487.84 117.89,487.16 118.85,486.46 119.80,485.74 120.76,485.00 121.71,484.26 122.66,483.51 123.62,482.75 124.57,482.00 125.53,481.25 126.48,480.51 127.43,479.78 128.39,479.07 129.34,478.37 130.30,477.68 131.25,477.01 132.20,476.34 133.16,475.67 134.11,475.00 135.07,474.32 136.02,473.64 136.97,472.94 137.93,472.23 138.88,471.50 139.84,470.74 140.79,469.97 141.74,469.17 142.70,468.35 143.65,467.51 144.61,466.65 145.56,465.77 146.52,464.86 147.47,463.92 148.42,462.96 149.38,461.97 150.33,460.95 151.29,459.90 152.24,458.82 153.19,457.70 154.15,456.56 155.10,455.39 156.06,454.19 157.01,452.96 157.96,451.72 158.92,450.46 159.87,449.18 160.83,447.89 161.78,446.58 162.73,445.27 163.69,443.94 164.64,442.60 165.60,441.25 166.55,439.89 167.50,438.52 168.46,437.13 169.41,435.74 170.37,434.34 171.32,432.93 172.27,431.51 173.23,430.08 174.18,428.65 175.14,427.21 176.09,425.76 177.04,424.31 178.00,422.85 178.95,421.38 179.91,419.92 180.86,418.45 181.81,416.98 182.77,415.52 183.72,414.06 184.68,412.61 185.63,411.15 186.58,409.71 187.54,408.27 188.49,406.83 189.45,405.40 190.40,403.97 191.35,402.55 192.31,401.13 193.26,399.72 194.22,398.32 195.17,396.92 196.12,395.54 197.08,394.16 198.03,392.78 198.99,391.41 199.94,390.05 200.89,388.68 201.85,387.31 202.80,385.94 203.76,384.56 204.71,383.17 205.67,381.77 206.62,380.36 207.57,378.94 208.53,377.51 209.48,376.07 210.44,374.63 211.39,373.19 212.34,371.76 213.30,370.32 214.25,368.89 215.21,367.47 216.16,366.06 217.11,364.66 218.07,363.27 219.02,361.89 219.98,360.50 220.93,359.11 221.88,357.70 222.84,356.27 223.79,354.81 224.75,353.30 225.70,351.74 226.65,350.12 227.61,348.43 228.56,346.67 229.52,344.84 230.47,342.94 231.42,340.96 232.38,338.91 233.33,336.81 234.29,334.64 235.24,332.42 236.19,330.17 237.15,328.15" fill="none" stroke="#e2d865" stroke-width="1.3" stroke-linejoin="round"/>
<polyline points="48.25,527.80 49.20,527.52 50.16,527.23 51.11,526.95 52.07,526.67 53.02,526.39 53.97,526.10 54.93,525.81 55.88,525.53 56.84,525.24 57.79,524.95 58.74,524.66 59.70,524.36 60.65,524.07 61.61,523.77 62.56,523.48 63.51,523.18 64.47,522.88 65.42,522.58 66.38,522.28 67.33,521.98 68.28,521.68 69.24,521.37 70.19,521.07 71.15,520.76 72.10,520.45 73.05,520.14 74.01,519.83 74.96,519.52 75.92,519.21 76.87,518.90 77.82,518.58 78.78,518.26 79.73,517.95 80.69,517.63 81.64,517.31 82.60,516.99 83.55,516.66 84.50,516.34 85.46,516.01 86.41,515.69 87.37,515.36 88.32,515.03 89.27,514.70 90.23,514.36 91.18,514.03 92.14,513.69 93.09,513.35 94.04,513.01 95.00,512.67 95.95,512.33 96.91,511.98 97.86,511.63 98.81,511.28 99.77,510.93 100.72,510.58 101.68,510.22 102.63,509.87 103.58,509.52 104.54,509.17 105.49,508.82 106.45,508.48 107.40,508.13 108.35,507.79 109.31,507.44 110.26,507.10 111.22,506.76 112.17,506.41 113.12,506.07 114.08,505.73 115.03,505.39 115.99,505.04 116.94,504.70 117.89,504.36 118.85,504.02 119.80,503.68 120.76,503.33 121.71,502.99 122.66,502.64 123.62,502.28 124.57,501.92 125.53,501.54 126.48,501.16 127.43,500.76 128.39,500.35 129.34,499.93 130.30,499.50 131.25,499.05 132.20,498.59 133.16,498.12 134.11,497.64 135.07,497.16 136.02,496.67 136.97,496.18 137.93,495.69 138.88,495.20 139.84,494.71 140.79,494.21 141.74,493.72 142.70,493.22 143.65,492.73 144.61,492.24 145.56,491.74 146.52,491.25 147.47,490.76 148.42,490.27 149.38,489.78 150.33,489.29 151.29,488.81 152.24,488.32 153.19,487.84 154.15,487.36 155.10,486.88 156.06,486.40 157.01,485.92 157.96,485.42 158.92,484.92 159.87,484.41 160.83,483.89 161.78,483.35 162.73,482.80 163.69,482.23 164.64,481.65 165.60,481.06 166.55,480.45 167.50,479.84 168.46,479.22 169.41,478.60 170.37,477.98 171.32,477.37 172.27,476.76 173.23,476.17 174.18,475.58 175.14,475.01 176.09,474.44 177.04,473.88 178.00,473.32 178.95,472.76 179.91,472.18 180.86,471.59 181.81,470.97 182.77,470.32 183.72,469.63 184.68,468.90 185.63,468.13 186.58,467.33 187.54,466.52 188.49,465.69 189.45,464.87 190.40,464.07 191.35,463.29 192.31,462.53 193.26,461.80 194.22,461.08 195.17,460.37 196.12,459.66 197.08,458.94 198.03,458.21 198.99,457.46 199.94,456.70 200.89,455.93 201.85,455.15 202.80,454.37 203.76,453.58 204.71,452.79 205.67,452.00 206.62,451.21 207.57,450.42 208.53,449.64 209.48,448.86 210.44,448.09 211.39,447.33 212.34,446.59 213.30,445.87 214.25,445.16 215.21,444.47 216.16,443.80 217.11,443.15 218.07,442.50 219.02,441.86 219.98,441.21 220.93,440.56 221.88,439.89 222.84,439.19 223.79,438.47 224.75,437.71 225.70,436.92 226.65,436.09 227.61,435.22 228.56,434.32 229.52,433.40 230.47,432.46 231.42,431.51 232.38,430.55 233.33,429.59 234.29,428.62 235.24,427.64 236.19,426.67 237.15,425.81" fill="none" stroke="#e2d865" stroke-width="1.3" stroke-linejoin="round"/>
<circle cx="48.25" cy="527.80" r="2.05" fill="#f4ecc0" fill-opacity="0.5" stroke="#ddd46a" stroke-width="1.25"/>
<circle cx="53.95" cy="526.11" r="2.05" fill="#f4ecc0" fill-opacity="0.5" stroke="#ddd46a" stroke-width="1.25"/>
<circle cx="59.65" cy="524.38" r="2.05" fill="#f4ecc0" fill-opacity="0.5" stroke="#ddd46a" stroke-width="1.25"/>
<circle cx="65.35" cy="522.61" r="2.05" fill="#f4ecc0" fill-opacity="0.5" stroke="#ddd46a" stroke-width="1.25"/>
<circle cx="71.05" cy="520.79" r="2.05" fill="#f4ecc0" fill-opacity="0.5" stroke="#ddd46a" stroke-width="1.25"/>
<circle cx="76.75" cy="518.94" r="2.05" fill="#f4ecc0" fill-opacity="0.5" stroke="#ddd46a" stroke-width="1.25"/>
<circle cx="82.45" cy="517.03" r="2.05" fill="#f4ecc0" fill-opacity="0.5" stroke="#ddd46a" stroke-width="1.25"/>
<circle cx="88.15" cy="515.09" r="2.05" fill="#f4ecc0" fill-opacity="0.5" stroke="#ddd46a" stroke-width="1.25"/>
<circle cx="93.85" cy="513.08" r="2.05" fill="#f4ecc0" fill-opacity="0.5" stroke="#ddd46a" stroke-width="1.25"/>
<circle cx="99.55" cy="511.01" r="2.05" fill="#f4ecc0" fill-opacity="0.5" stroke="#ddd46a" stroke-width="1.25"/>
<circle cx="105.25" cy="508.91" r="2.05" fill="#f4ecc0" fill-opacity="0.5" stroke="#ddd46a" stroke-width="1.25"/>
<circle cx="110.95" cy="506.85" r="2.05" fill="#f4ecc0" fill-opacity="0.5" stroke="#ddd46a" stroke-width="1.25"/>
<circle cx="116.65" cy="504.81" r="2.05" fill="#f4ecc0" fill-opacity="0.5" stroke="#ddd46a" stroke-width="1.25"/>
<circle cx="122.35" cy="502.75" r="2.05" fill="#f4ecc0" fill-opacity="0.5" stroke="#ddd46a" stroke-width="1.25"/>
<circle cx="128.05" cy="500.50" r="2.05" fill="#f4ecc0" fill-opacity="0.5" stroke="#ddd46a" stroke-width="1.25"/>
<circle cx="133.75" cy="497.83" r="2.05" fill="#f4ecc0" fill-opacity="0.5" stroke="#ddd46a" stroke-width="1.25"/>
<circle cx="139.45" cy="494.91" r="2.05" fill="#f4ecc0" fill-opacity="0.5" stroke="#ddd46a" stroke-width="1.25"/>
<circle cx="145.15" cy="491.96" r="2.05" fill="#f4ecc0" fill-opacity="0.5" stroke="#ddd46a" stroke-width="1.25"/>
<circle cx="150.85" cy="489.03" r="2.05" fill="#f4ecc0" fill-opacity="0.5" stroke="#ddd46a" stroke-width="1.25"/>
<circle cx="156.55" cy="486.15" r="2.05" fill="#f4ecc0" fill-opacity="0.5" stroke="#ddd46a" stroke-width="1.25"/>
<circle cx="162.25" cy="483.08" r="2.05" fill="#f4ecc0" fill-opacity="0.5" stroke="#ddd46a" stroke-width="1.25"/>
<circle cx="167.95" cy="479.55" r="2.05" fill="#f4ecc0" fill-opacity="0.5" stroke="#ddd46a" stroke-width="1.25"/>
<circle cx="173.65" cy="475.91" r="2.05" fill="#f4ecc0" fill-opacity="0.5" stroke="#ddd46a" stroke-width="1.25"/>
<circle cx="179.35" cy="472.52" r="2.05" fill="#f4ecc0" fill-opacity="0.5" stroke="#ddd46a" stroke-width="1.25"/>
<circle cx="185.05" cy="468.60" r="2.05" fill="#f4ecc0" fill-opacity="0.5" stroke="#ddd46a" stroke-width="1.25"/>
<circle cx="190.75" cy="463.78" r="2.05" fill="#f4ecc0" fill-opacity="0.5" stroke="#ddd46a" stroke-width="1.25"/>
<circle cx="196.45" cy="459.42" r="2.05" fill="#f4ecc0" fill-opacity="0.5" stroke="#ddd46a" stroke-width="1.25"/>
<circle cx="202.15" cy="454.91" r="2.05" fill="#f4ecc0" fill-opacity="0.5" stroke="#ddd46a" stroke-width="1.25"/>
<circle cx="207.85" cy="450.19" r="2.05" fill="#f4ecc0" fill-opacity="0.5" stroke="#ddd46a" stroke-width="1.25"/>
<circle cx="213.55" cy="445.68" r="2.05" fill="#f4ecc0" fill-opacity="0.5" stroke="#ddd46a" stroke-width="1.25"/>
<circle cx="219.25" cy="441.70" r="2.05" fill="#f4ecc0" fill-opacity="0.5" stroke="#ddd46a" stroke-width="1.25"/>
<circle cx="224.95" cy="437.55" r="2.05" fill="#f4ecc0" fill-opacity="0.5" stroke="#ddd46a" stroke-width="1.25"/>
<circle cx="230.65" cy="432.28" r="2.05" fill="#f4ecc0" fill-opacity="0.5" stroke="#ddd46a" stroke-width="1.25"/>
<circle cx="236.35" cy="426.51" r="2.05" fill="#f4ecc0" fill-opacity="0.5" stroke="#ddd46a" stroke-width="1.25"/>
<polyline points="48.25,528.60 49.20,528.32 50.16,528.03 51.11,527.75 52.07,527.47 53.02,527.19 53.97,526.90 54.93,526.61 55.88,526.33 56.84,526.04 57.79,525.75 58.74,525.46 59.70,525.16 60.65,524.87 61.61,524.57 62.56,524.28 63.51,523.98 64.47,523.68 65.42,523.38 66.38,523.08 67.33,522.78 68.28,522.48 69.24,522.17 70.19,521.87 71.15,521.56 72.10,521.25 73.05,520.94 74.01,520.63 74.96,520.32 75.92,520.01 76.87,519.70 77.82,519.38 78.78,519.06 79.73,518.75 80.69,518.43 81.64,518.11 82.60,517.79 83.55,517.46 84.50,517.14 85.46,516.81 86.41,516.49 87.37,516.16 88.32,515.83 89.27,515.50 90.23,515.16 91.18,514.83 92.14,514.49 93.09,514.15 94.04,513.81 95.00,513.47 95.95,513.13 96.91,512.78 97.86,512.43 98.81,512.08 99.77,511.73 100.72,511.38 101.68,511.02 102.63,510.67 103.58,510.32 104.54,509.97 105.49,509.62 106.45,509.28 107.40,508.93 108.35,508.59 109.31,508.24 110.26,507.90 111.22,507.56 112.17,507.21 113.12,506.87 114.08,506.53 115.03,506.19 115.99,505.84 116.94,505.50 117.89,505.16 118.85,504.82 119.80,504.48 120.76,504.13 121.71,503.79 122.66,503.44 123.62,503.08 124.57,502.72 125.53,502.34 126.48,501.96 127.43,501.56 128.39,501.15 129.34,500.73 130.30,500.30 131.25,499.85 132.20,499.39 133.16,498.92 134.11,498.45 135.07,497.96 136.02,497.48 136.97,496.99 137.93,496.50 138.88,496.01 139.84,495.52 140.79,495.04 141.74,494.55 142.70,494.07 143.65,493.58 144.61,493.09 145.56,492.60 146.52,492.10 147.47,491.59 148.42,491.07 149.38,490.55 150.33,490.02 151.29,489.47 152.24,488.91 153.19,488.34 154.15,487.76 155.10,487.17 156.06,486.57 157.01,485.96 157.96,485.34 158.92,484.71 159.87,484.07 160.83,483.42 161.78,482.76 162.73,482.10 163.69,481.42 164.64,480.74 165.60,480.04 166.55,479.34 167.50,478.64 168.46,477.93 169.41,477.21 170.37,476.50 171.32,475.78 172.27,475.07 173.23,474.36 174.18,473.66 175.14,472.96 176.09,472.25 177.04,471.55 178.00,470.84 178.95,470.12 179.91,469.38 180.86,468.61 181.81,467.81 182.77,466.98 183.72,466.11 184.68,465.19 185.63,464.24 186.58,463.25 187.54,462.24 188.49,461.21 189.45,460.17 190.40,459.15 191.35,458.14 192.31,457.17 193.26,456.24 194.22,455.35 195.17,454.51 196.12,453.70 197.08,452.93 198.03,452.17 198.99,451.44 199.94,450.70 200.89,449.96 201.85,449.22 202.80,448.46 203.76,447.70 204.71,446.92 205.67,446.13 206.62,445.34 207.57,444.54 208.53,443.75 209.48,442.96 210.44,442.17 211.39,441.40 212.34,440.64 213.30,439.90 214.25,439.18 215.21,438.50 216.16,437.85 217.11,437.24 218.07,436.67 219.02,436.14 219.98,435.64 220.93,435.17 221.88,434.74 222.84,434.33 223.79,433.95 224.75,433.59 225.70,433.25 226.65,432.93 227.61,432.63 228.56,432.34 229.52,432.08 230.47,431.82 231.42,431.59 232.38,431.37 233.33,431.16 234.29,430.96 235.24,430.78 236.19,430.60 237.15,430.46" fill="none" stroke="#3d409e" stroke-width="1.3" stroke-linejoin="round"/>
<polyline points="48.25,513.99 49.20,513.47 50.16,512.95 51.11,512.43 52.07,511.90 53.02,511.37 53.97,510.83 54.93,510.30 55.88,509.75 56.84,509.21 57.79,508.66 58.74,508.11 59.70,507.55 60.65,506.99 61.61,506.43 62.56,505.86 63.51,505.29 64.47,504.71 65.42,504.12 66.38,503.54 67.33,502.94 68.28,502.34 69.24,501.73 70.19,501.11 71.15,500.48 72.10,499.85 73.05,499.21 74.01,498.56 74.96,497.89 75.92,497.22 76.87,496.54 77.82,495.85 78.78,495.14 79.73,494.42 80.69,493.69 81.64,492.94 82.60,492.17 83.55,491.39 84.50,490.59 85.46,489.77 86.41,488.94 87.37,488.09 88.32,487.22 89.27,486.34 90.23,485.44 91.18,484.52 92.14,483.59 93.09,482.64 94.04,481.67 95.00,480.68 95.95,479.68 96.91,478.66 97.86,477.62 98.81,476.58 99.77,475.52 100.72,474.47 101.68,473.41 102.63,472.36 103.58,471.31 104.54,470.28 105.49,469.26 106.45,468.25 107.40,467.25 108.35,466.26 109.31,465.28 110.26,464.30 111.22,463.31 112.17,462.31 113.12,461.30 114.08,460.26 115.03,459.20 115.99,458.11 116.94,456.99 117.89,455.83 118.85,454.65 119.80,453.43 120.76,452.19 121.71,450.93 122.66,449.66 123.62,448.38 124.57,447.11 125.53,445.85 126.48,444.60 127.43,443.37 128.39,442.16 129.34,440.97 130.30,439.81 131.25,438.66 132.20,437.52 133.16,436.39 134.11,435.27 135.07,434.15 136.02,433.02 136.97,431.88 137.93,430.73 138.88,429.57 139.84,428.39 140.79,427.19 141.74,425.98 142.70,424.75 143.65,423.51 144.61,422.25 145.56,420.99 146.52,419.72 147.47,418.45 148.42,417.17 149.38,415.88 150.33,414.60 151.29,413.31 152.24,412.03 153.19,410.74 154.15,409.45 155.10,408.16 156.06,406.86 157.01,405.56 157.96,404.26 158.92,402.96 159.87,401.65 160.83,400.33 161.78,399.01 162.73,397.69 163.69,396.36 164.64,395.03 165.60,393.70 166.55,392.36 167.50,391.02 168.46,389.68 169.41,388.34 170.37,387.00 171.32,385.67 172.27,384.34 173.23,383.02 174.18,381.71 175.14,380.40 176.09,379.11 177.04,377.83 178.00,376.56 178.95,375.31 179.91,374.07 180.86,372.85 181.81,371.66 182.77,370.48 183.72,369.32 184.68,368.19 185.63,367.09 186.58,366.01 187.54,364.96 188.49,363.94 189.45,362.96 190.40,362.02 191.35,361.11 192.31,360.24 193.26,359.42 194.22,358.63 195.17,357.87 196.12,357.15 197.08,356.44 198.03,355.75 198.99,355.07 199.94,354.41 200.89,353.76 201.85,353.13 202.80,352.51 203.76,351.93 204.71,351.37 205.67,350.85 206.62,350.37 207.57,349.92 208.53,349.50 209.48,349.12 210.44,348.77 211.39,348.44 212.34,348.14 213.30,347.87 214.25,347.61 215.21,347.37 216.16,347.15 217.11,346.94 218.07,346.74 219.02,346.56 219.98,346.40 220.93,346.25 221.88,346.12 222.84,346.01 223.79,345.90 224.75,345.81 225.70,345.72 226.65,345.64 227.61,345.56 228.56,345.47 229.52,345.39 230.47,345.30 231.42,345.20 232.38,345.10 233.33,344.98 234.29,344.87 235.24,344.74 236.19,344.62 237.15,344.50" fill="none" stroke="#3d409e" stroke-width="1.3" stroke-linejoin="round"/>
<polyline points="48.25,523.30 49.20,522.81 50.16,522.32 51.11,521.84 52.07,521.35 53.02,520.86 53.97,520.38 54.93,519.90 55.88,519.43 56.84,518.97 57.79,518.53 58.74,518.12 59.70,517.72 60.65,517.34 61.61,516.98 62.56,516.62 63.51,516.26 64.47,515.89 65.42,515.50 66.38,515.10 67.33,514.68 68.28,514.25 69.24,513.83 70.19,513.40 71.15,512.99 72.10,512.59 73.05,512.22 74.01,511.85 74.96,511.50 75.92,511.16 76.87,510.82 77.82,510.47 78.78,510.12 79.73,509.75 80.69,509.38 81.64,508.98 82.60,508.57 83.55,508.15 84.50,507.72 85.46,507.29 86.41,506.86 87.37,506.44 88.32,506.04 89.27,505.64 90.23,505.26 91.18,504.89 92.14,504.51 93.09,504.12 94.04,503.72 95.00,503.30 95.95,502.86 96.91,502.40 97.86,501.92 98.81,501.41 99.77,500.89 100.72,500.36 101.68,499.80 102.63,499.23 103.58,498.65 104.54,498.06 105.49,497.45 106.45,496.83 107.40,496.21 108.35,495.59 109.31,494.96 110.26,494.33 111.22,493.71 112.17,493.09 113.12,492.48 114.08,491.86 115.03,491.23 115.99,490.60 116.94,489.96 117.89,489.31 118.85,488.65 119.80,487.99 120.76,487.33 121.71,486.68 122.66,486.03 123.62,485.40 124.57,484.77 125.53,484.14 126.48,483.51 127.43,482.88 128.39,482.25 129.34,481.61 130.30,480.96 131.25,480.32 132.20,479.67 133.16,479.03 134.11,478.39 135.07,477.74 136.02,477.09 136.97,476.43 137.93,475.74 138.88,475.02 139.84,474.27 140.79,473.48 141.74,472.65 142.70,471.81 143.65,470.94 144.61,470.06 145.56,469.19 146.52,468.31 147.47,467.44 148.42,466.57 149.38,465.69 150.33,464.81 151.29,463.91 152.24,463.00 153.19,462.07 154.15,461.12 155.10,460.16 156.06,459.19 157.01,458.22 157.96,457.24 158.92,456.26 159.87,455.27 160.83,454.29 161.78,453.31 162.73,452.33 163.69,451.34 164.64,450.35 165.60,449.35 166.55,448.33 167.50,447.29 168.46,446.24 169.41,445.16 170.37,444.07 171.32,442.96 172.27,441.84 173.23,440.71 174.18,439.57 175.14,438.44 176.09,437.30 177.04,436.17 178.00,435.05 178.95,433.94 179.91,432.83 180.86,431.74 181.81,430.66 182.77,429.58 183.72,428.52 184.68,427.46 185.63,426.42 186.58,425.38 187.54,424.36 188.49,423.34 189.45,422.34 190.40,421.35 191.35,420.37 192.31,419.41 193.26,418.46 194.22,417.52 195.17,416.60 196.12,415.69 197.08,414.80 198.03,413.92 198.99,413.07 199.94,412.25 200.89,411.45 201.85,410.68 202.80,409.94 203.76,409.24 204.71,408.56 205.67,407.92 206.62,407.30 207.57,406.71 208.53,406.14 209.48,405.60 210.44,405.08 211.39,404.58 212.34,404.10 213.30,403.65 214.25,403.21 215.21,402.78 216.16,402.38 217.11,401.99 218.07,401.61 219.02,401.25 219.98,400.90 220.93,400.57 221.88,400.26 222.84,399.96 223.79,399.69 224.75,399.44 225.70,399.22 226.65,399.01 227.61,398.82 228.56,398.65 229.52,398.49 230.47,398.34 231.42,398.20 232.38,398.06 233.33,397.93 234.29,397.79 235.24,397.66 236.19,397.53 237.15,397.42" fill="none" stroke="#3d409e" stroke-width="1.3" stroke-linejoin="round"/>
<circle cx="48.25" cy="523.30" r="1.95" fill="none" stroke="#3d409e" stroke-width="1.35"/>
<circle cx="53.95" cy="520.39" r="1.95" fill="none" stroke="#3d409e" stroke-width="1.35"/>
<circle cx="59.65" cy="517.74" r="1.95" fill="none" stroke="#3d409e" stroke-width="1.35"/>
<circle cx="65.35" cy="515.53" r="1.95" fill="none" stroke="#3d409e" stroke-width="1.35"/>
<circle cx="71.05" cy="513.03" r="1.95" fill="none" stroke="#3d409e" stroke-width="1.35"/>
<circle cx="76.75" cy="510.86" r="1.95" fill="none" stroke="#3d409e" stroke-width="1.35"/>
<circle cx="82.45" cy="508.63" r="1.95" fill="none" stroke="#3d409e" stroke-width="1.35"/>
<circle cx="88.15" cy="506.11" r="1.95" fill="none" stroke="#3d409e" stroke-width="1.35"/>
<circle cx="93.85" cy="503.80" r="1.95" fill="none" stroke="#3d409e" stroke-width="1.35"/>
<circle cx="99.55" cy="501.01" r="1.95" fill="none" stroke="#3d409e" stroke-width="1.35"/>
<circle cx="105.25" cy="497.60" r="1.95" fill="none" stroke="#3d409e" stroke-width="1.35"/>
<circle cx="110.95" cy="493.89" r="1.95" fill="none" stroke="#3d409e" stroke-width="1.35"/>
<circle cx="116.65" cy="490.16" r="1.95" fill="none" stroke="#3d409e" stroke-width="1.35"/>
<circle cx="122.35" cy="486.25" r="1.95" fill="none" stroke="#3d409e" stroke-width="1.35"/>
<circle cx="128.05" cy="482.48" r="1.95" fill="none" stroke="#3d409e" stroke-width="1.35"/>
<circle cx="133.75" cy="478.63" r="1.95" fill="none" stroke="#3d409e" stroke-width="1.35"/>
<circle cx="139.45" cy="474.58" r="1.95" fill="none" stroke="#3d409e" stroke-width="1.35"/>
<circle cx="145.15" cy="469.56" r="1.95" fill="none" stroke="#3d409e" stroke-width="1.35"/>
<circle cx="150.85" cy="464.32" r="1.95" fill="none" stroke="#3d409e" stroke-width="1.35"/>
<circle cx="156.55" cy="458.69" r="1.95" fill="none" stroke="#3d409e" stroke-width="1.35"/>
<circle cx="162.25" cy="452.83" r="1.95" fill="none" stroke="#3d409e" stroke-width="1.35"/>
<circle cx="167.95" cy="446.80" r="1.95" fill="none" stroke="#3d409e" stroke-width="1.35"/>
<circle cx="173.65" cy="440.20" r="1.95" fill="none" stroke="#3d409e" stroke-width="1.35"/>
<circle cx="179.35" cy="433.48" r="1.95" fill="none" stroke="#3d409e" stroke-width="1.35"/>
<circle cx="185.05" cy="427.05" r="1.95" fill="none" stroke="#3d409e" stroke-width="1.35"/>
<circle cx="190.75" cy="420.99" r="1.95" fill="none" stroke="#3d409e" stroke-width="1.35"/>
<circle cx="196.45" cy="415.38" r="1.95" fill="none" stroke="#3d409e" stroke-width="1.35"/>
<circle cx="202.15" cy="410.44" r="1.95" fill="none" stroke="#3d409e" stroke-width="1.35"/>
<circle cx="207.85" cy="406.54" r="1.95" fill="none" stroke="#3d409e" stroke-width="1.35"/>
<circle cx="213.55" cy="403.53" r="1.95" fill="none" stroke="#3d409e" stroke-width="1.35"/>
<circle cx="219.25" cy="401.16" r="1.95" fill="none" stroke="#3d409e" stroke-width="1.35"/>
<circle cx="224.95" cy="399.39" r="1.95" fill="none" stroke="#3d409e" stroke-width="1.35"/>
<circle cx="230.65" cy="398.32" r="1.95" fill="none" stroke="#3d409e" stroke-width="1.35"/>
<circle cx="236.35" cy="397.51" r="1.95" fill="none" stroke="#3d409e" stroke-width="1.35"/>
<text x="241.00" y="329.80" font-size="12" fill="#e3dc86" stroke="#e3dc86" stroke-width="0.4">P97</text>
<text x="241.00" y="348.00" font-size="12" fill="#3d409e" stroke="#3d409e" stroke-width="0.4">P97</text>
<text x="241.00" y="400.90" font-size="12" fill="#3d409e" stroke="#3d409e" stroke-width="0.4">P50</text>
<text x="241.00" y="424.90" font-size="12" fill="#e3dc86" stroke="#e3dc86" stroke-width="0.4">P50</text>
<text x="241.00" y="435.10" font-size="12" fill="#3d409e" stroke="#3d409e" stroke-width="0.4">P3</text>
<text x="241.00" y="455.50" font-size="12" fill="#e3dc86" stroke="#e3dc86" stroke-width="0.4">P3</text>
<line x1="186.20" y1="515.10" x2="198.50" y2="515.10" stroke="#3d409e" stroke-width="1.3"/>
<line x1="186.20" y1="524.90" x2="198.50" y2="524.90" stroke="#e2d865" stroke-width="1.3"/>
<text x="200.30" y="517.50" font-size="12" fill="#141414" stroke="#141414" stroke-width="0.4">Normal</text>
<text x="200.30" y="527.00" font-size="12" fill="#141414" stroke="#141414" stroke-width="0.4">Noonan</text>
<text x="142.90" y="318.80" text-anchor="middle" font-size="12" font-weight="bold" fill="#141414" stroke="#141414" stroke-width="0.35">Males</text>
<text x="143.00" y="587.90" text-anchor="middle" font-size="12" font-weight="bold" fill="#141414" stroke="#141414" stroke-width="0.35">Age (years)</text>
<text transform="translate(16.70,440.30) rotate(-90)" text-anchor="middle" font-size="12" font-weight="bold" fill="#141414" stroke="#141414" stroke-width="0.35">Weight (kg)</text>
<path d="M298.30,327.50 V551.25 H492.50" fill="none" stroke="#141414" stroke-width="2"/>
<line x1="293.80" y1="551.25" x2="298.30" y2="551.25" stroke="#141414" stroke-width="1.6"/>
<text x="291.80" y="554.35" text-anchor="end" font-size="12" fill="#141414" stroke="#141414" stroke-width="0.4">0</text>
<line x1="293.80" y1="506.70" x2="298.30" y2="506.70" stroke="#141414" stroke-width="1.6"/>
<text x="291.80" y="509.80" text-anchor="end" font-size="12" fill="#141414" stroke="#141414" stroke-width="0.4">20</text>
<line x1="293.80" y1="462.15" x2="298.30" y2="462.15" stroke="#141414" stroke-width="1.6"/>
<text x="291.80" y="465.25" text-anchor="end" font-size="12" fill="#141414" stroke="#141414" stroke-width="0.4">40</text>
<line x1="293.80" y1="417.60" x2="298.30" y2="417.60" stroke="#141414" stroke-width="1.6"/>
<text x="291.80" y="420.70" text-anchor="end" font-size="12" fill="#141414" stroke="#141414" stroke-width="0.4">60</text>
<line x1="293.80" y1="373.05" x2="298.30" y2="373.05" stroke="#141414" stroke-width="1.6"/>
<text x="291.80" y="376.15" text-anchor="end" font-size="12" fill="#141414" stroke="#141414" stroke-width="0.4">80</text>
<line x1="293.80" y1="328.50" x2="298.30" y2="328.50" stroke="#141414" stroke-width="1.6"/>
<text x="291.80" y="331.60" text-anchor="end" font-size="12" fill="#141414" stroke="#141414" stroke-width="0.4">100</text>
<line x1="300.75" y1="551.25" x2="300.75" y2="555.25" stroke="#141414" stroke-width="1.6"/>
<text x="300.75" y="568.05" text-anchor="middle" font-size="11.8" fill="#141414" stroke="#141414" stroke-width="0.4">2</text>
<line x1="323.51" y1="551.25" x2="323.51" y2="555.25" stroke="#141414" stroke-width="1.6"/>
<text x="323.51" y="568.05" text-anchor="middle" font-size="11.8" fill="#141414" stroke="#141414" stroke-width="0.4">4</text>
<line x1="346.27" y1="551.25" x2="346.27" y2="555.25" stroke="#141414" stroke-width="1.6"/>
<text x="346.27" y="568.05" text-anchor="middle" font-size="11.8" fill="#141414" stroke="#141414" stroke-width="0.4">6</text>
<line x1="369.03" y1="551.25" x2="369.03" y2="555.25" stroke="#141414" stroke-width="1.6"/>
<text x="369.03" y="568.05" text-anchor="middle" font-size="11.8" fill="#141414" stroke="#141414" stroke-width="0.4">8</text>
<line x1="391.79" y1="551.25" x2="391.79" y2="555.25" stroke="#141414" stroke-width="1.6"/>
<text x="391.79" y="568.05" text-anchor="middle" font-size="11.8" fill="#141414" stroke="#141414" stroke-width="0.4">10</text>
<line x1="414.55" y1="551.25" x2="414.55" y2="555.25" stroke="#141414" stroke-width="1.6"/>
<text x="414.55" y="568.05" text-anchor="middle" font-size="11.8" fill="#141414" stroke="#141414" stroke-width="0.4">12</text>
<line x1="437.31" y1="551.25" x2="437.31" y2="555.25" stroke="#141414" stroke-width="1.6"/>
<text x="437.31" y="568.05" text-anchor="middle" font-size="11.8" fill="#141414" stroke="#141414" stroke-width="0.4">14</text>
<line x1="460.07" y1="551.25" x2="460.07" y2="555.25" stroke="#141414" stroke-width="1.6"/>
<text x="460.07" y="568.05" text-anchor="middle" font-size="11.8" fill="#141414" stroke="#141414" stroke-width="0.4">16</text>
<line x1="482.83" y1="551.25" x2="482.83" y2="555.25" stroke="#141414" stroke-width="1.6"/>
<text x="482.83" y="568.05" text-anchor="middle" font-size="11.8" fill="#141414" stroke="#141414" stroke-width="0.4">18</text>
<polyline points="300.75,534.19 301.70,534.03 302.65,533.87 303.60,533.71 304.54,533.55 305.49,533.38 306.44,533.21 307.39,533.04 308.34,532.86 309.29,532.68 310.23,532.50 311.18,532.32 312.13,532.13 313.08,531.94 314.03,531.75 314.98,531.55 315.92,531.35 316.87,531.15 317.82,530.95 318.77,530.74 319.72,530.54 320.67,530.32 321.61,530.11 322.56,529.89 323.51,529.67 324.46,529.44 325.41,529.21 326.36,528.98 327.30,528.74 328.25,528.49 329.20,528.24 330.15,527.99 331.10,527.73 332.05,527.47 332.99,527.20 333.94,526.94 334.89,526.67 335.84,526.40 336.79,526.13 337.74,525.86 338.68,525.59 339.63,525.33 340.58,525.06 341.53,524.80 342.48,524.54 343.43,524.28 344.37,524.03 345.32,523.78 346.27,523.53 347.22,523.30 348.17,523.06 349.12,522.83 350.06,522.61 351.01,522.38 351.96,522.16 352.91,521.95 353.86,521.73 354.81,521.52 355.75,521.31 356.70,521.09 357.65,520.88 358.60,520.66 359.55,520.44 360.50,520.22 361.44,519.99 362.39,519.76 363.34,519.52 364.29,519.28 365.24,519.02 366.19,518.76 367.13,518.49 368.08,518.21 369.03,517.91 369.98,517.60 370.93,517.28 371.88,516.95 372.82,516.60 373.77,516.24 374.72,515.87 375.67,515.49 376.62,515.10 377.56,514.69 378.51,514.29 379.46,513.87 380.41,513.45 381.36,513.03 382.31,512.61 383.25,512.18 384.20,511.76 385.15,511.34 386.10,510.92 387.05,510.51 388.00,510.11 388.94,509.71 389.89,509.32 390.84,508.94 391.79,508.57 392.74,508.20 393.69,507.85 394.63,507.50 395.58,507.17 396.53,506.84 397.48,506.51 398.43,506.19 399.38,505.87 400.32,505.55 401.27,505.24 402.22,504.92 403.17,504.61 404.12,504.29 405.07,503.97 406.01,503.64 406.96,503.31 407.91,502.97 408.86,502.62 409.81,502.26 410.76,501.89 411.71,501.50 412.65,501.10 413.60,500.68 414.55,500.24 415.50,499.78 416.45,499.29 417.39,498.79 418.34,498.26 419.29,497.70 420.24,497.14 421.19,496.55 422.14,495.96 423.09,495.36 424.03,494.75 424.98,494.15 425.93,493.55 426.88,492.97 427.83,492.40 428.77,491.85 429.72,491.32 430.67,490.81 431.62,490.34 432.57,489.89 433.52,489.47 434.47,489.08 435.41,488.71 436.36,488.35 437.31,488.01 438.26,487.68 439.21,487.36 440.15,487.03 441.10,486.71 442.05,486.39 443.00,486.08 443.95,485.76 444.90,485.45 445.85,485.15 446.79,484.85 447.74,484.57 448.69,484.29 449.64,484.03 450.59,483.77 451.53,483.52 452.48,483.29 453.43,483.06 454.38,482.84 455.33,482.63 456.28,482.42 457.23,482.22 458.17,482.03 459.12,481.84 460.07,481.66 461.02,481.49 461.97,481.32 462.92,481.15 463.86,481.00 464.81,480.84 465.76,480.70 466.71,480.55 467.66,480.42 468.61,480.28 469.55,480.15 470.50,480.02 471.45,479.90 472.40,479.78 473.35,479.66 474.30,479.54 475.24,479.43 476.19,479.32 477.14,479.21 478.09,479.10 479.04,479.00 479.99,478.91 480.93,478.81 481.88,478.73 482.83,478.64 483.78,478.56 484.73,478.48 485.68,478.41 486.62,478.34 487.57,478.28 488.52,478.21" fill="none" stroke="#e2d865" stroke-width="1.3" stroke-linejoin="round"/>
<polyline points="300.75,520.39 301.70,520.04 302.65,519.69 303.60,519.34 304.54,518.99 305.49,518.63 306.44,518.27 307.39,517.90 308.34,517.53 309.29,517.16 310.23,516.78 311.18,516.39 312.13,516.01 313.08,515.62 314.03,515.22 314.98,514.82 315.92,514.42 316.87,514.02 317.82,513.61 318.77,513.19 319.72,512.78 320.67,512.36 321.61,511.93 322.56,511.50 323.51,511.07 324.46,510.64 325.41,510.20 326.36,509.75 327.30,509.30 328.25,508.85 329.20,508.39 330.15,507.92 331.10,507.46 332.05,506.98 332.99,506.50 333.94,506.02 334.89,505.54 335.84,505.04 336.79,504.55 337.74,504.05 338.68,503.55 339.63,503.04 340.58,502.53 341.53,502.01 342.48,501.49 343.43,500.97 344.37,500.44 345.32,499.91 346.27,499.37 347.22,498.83 348.17,498.28 349.12,497.73 350.06,497.17 351.01,496.60 351.96,496.02 352.91,495.43 353.86,494.82 354.81,494.21 355.75,493.58 356.70,492.93 357.65,492.27 358.60,491.59 359.55,490.89 360.50,490.17 361.44,489.44 362.39,488.70 363.34,487.94 364.29,487.18 365.24,486.41 366.19,485.64 367.13,484.88 368.08,484.11 369.03,483.35 369.98,482.59 370.93,481.84 371.88,481.09 372.82,480.34 373.77,479.59 374.72,478.85 375.67,478.09 376.62,477.34 377.56,476.58 378.51,475.81 379.46,475.03 380.41,474.24 381.36,473.44 382.31,472.64 383.25,471.82 384.20,471.00 385.15,470.16 386.10,469.31 387.05,468.44 388.00,467.55 388.94,466.65 389.89,465.72 390.84,464.76 391.79,463.78 392.74,462.78 393.69,461.74 394.63,460.68 395.58,459.60 396.53,458.50 397.48,457.39 398.43,456.28 399.38,455.17 400.32,454.07 401.27,452.98 402.22,451.91 403.17,450.86 404.12,449.82 405.07,448.81 406.01,447.81 406.96,446.83 407.91,445.87 408.86,444.93 409.81,444.01 410.76,443.10 411.71,442.21 412.65,441.33 413.60,440.48 414.55,439.64 415.50,438.82 416.45,438.01 417.39,437.22 418.34,436.43 419.29,435.64 420.24,434.85 421.19,434.06 422.14,433.26 423.09,432.45 424.03,431.63 424.98,430.80 425.93,429.98 426.88,429.15 427.83,428.32 428.77,427.51 429.72,426.70 430.67,425.91 431.62,425.13 432.57,424.36 433.52,423.62 434.47,422.88 435.41,422.15 436.36,421.44 437.31,420.72 438.26,420.01 439.21,419.30 440.15,418.58 441.10,417.85 442.05,417.11 443.00,416.37 443.95,415.62 444.90,414.85 445.85,414.09 446.79,413.32 447.74,412.55 448.69,411.78 449.64,411.03 450.59,410.28 451.53,409.54 452.48,408.82 453.43,408.12 454.38,407.42 455.33,406.74 456.28,406.07 457.23,405.41 458.17,404.76 459.12,404.12 460.07,403.48 461.02,402.85 461.97,402.22 462.92,401.60 463.86,400.98 464.81,400.36 465.76,399.75 466.71,399.14 467.66,398.54 468.61,397.94 469.55,397.34 470.50,396.74 471.45,396.15 472.40,395.56 473.35,394.97 474.30,394.38 475.24,393.80 476.19,393.21 477.14,392.62 478.09,392.02 479.04,391.40 479.99,390.76 480.93,390.10 481.88,389.40 482.83,388.66 483.78,387.88 484.73,387.06 485.68,386.19 486.62,385.29 487.57,384.35 488.52,383.39" fill="none" stroke="#e2d865" stroke-width="1.3" stroke-linejoin="round"/>
<polyline points="300.75,525.99 301.70,525.79 302.65,525.58 303.60,525.38 304.54,525.17 305.49,524.96 306.44,524.74 307.39,524.52 308.34,524.30 309.29,524.08 310.23,523.85 311.18,523.62 312.13,523.39 313.08,523.15 314.03,522.92 314.98,522.67 315.92,522.43 316.87,522.18 317.82,521.93 318.77,521.68 319.72,521.43 320.67,521.17 321.61,520.91 322.56,520.64 323.51,520.37 324.46,520.10 325.41,519.83 326.36,519.55 327.30,519.26 328.25,518.97 329.20,518.68 330.15,518.38 331.10,518.08 332.05,517.78 332.99,517.47 333.94,517.16 334.89,516.85 335.84,516.53 336.79,516.22 337.74,515.90 338.68,515.58 339.63,515.26 340.58,514.94 341.53,514.61 342.48,514.29 343.43,513.97 344.37,513.65 345.32,513.33 346.27,513.01 347.22,512.69 348.17,512.38 349.12,512.06 350.06,511.75 351.01,511.44 351.96,511.13 352.91,510.81 353.86,510.50 354.81,510.19 355.75,509.87 356.70,509.55 357.65,509.23 358.60,508.91 359.55,508.58 360.50,508.25 361.44,507.91 362.39,507.56 363.34,507.21 364.29,506.85 365.24,506.49 366.19,506.11 367.13,505.73 368.08,505.34 369.03,504.94 369.98,504.53 370.93,504.12 371.88,503.69 372.82,503.26 373.77,502.81 374.72,502.36 375.67,501.90 376.62,501.43 377.56,500.95 378.51,500.46 379.46,499.96 380.41,499.45 381.36,498.93 382.31,498.40 383.25,497.86 384.20,497.31 385.15,496.75 386.10,496.17 387.05,495.59 388.00,494.98 388.94,494.37 389.89,493.73 390.84,493.07 391.79,492.40 392.74,491.72 393.69,491.02 394.63,490.33 395.58,489.64 396.53,488.97 397.48,488.31 398.43,487.68 399.38,487.08 400.32,486.48 401.27,485.90 402.22,485.32 403.17,484.74 404.12,484.14 405.07,483.54 406.01,482.92 406.96,482.29 407.91,481.65 408.86,481.01 409.81,480.36 410.76,479.71 411.71,479.06 412.65,478.41 413.60,477.77 414.55,477.12 415.50,476.48 416.45,475.84 417.39,475.20 418.34,474.57 419.29,473.93 420.24,473.28 421.19,472.64 422.14,471.98 423.09,471.32 424.03,470.64 424.98,469.95 425.93,469.24 426.88,468.52 427.83,467.78 428.77,467.04 429.72,466.29 430.67,465.55 431.62,464.80 432.57,464.07 433.52,463.34 434.47,462.62 435.41,461.91 436.36,461.20 437.31,460.51 438.26,459.82 439.21,459.14 440.15,458.48 441.10,457.83 442.05,457.20 443.00,456.59 443.95,456.00 444.90,455.44 445.85,454.91 446.79,454.40 447.74,453.91 448.69,453.45 449.64,453.01 450.59,452.58 451.53,452.17 452.48,451.77 453.43,451.37 454.38,450.97 455.33,450.58 456.28,450.19 457.23,449.80 458.17,449.40 459.12,449.01 460.07,448.62 461.02,448.23 461.97,447.84 462.92,447.45 463.86,447.06 464.81,446.68 465.76,446.29 466.71,445.91 467.66,445.54 468.61,445.18 469.55,444.82 470.50,444.47 471.45,444.14 472.40,443.82 473.35,443.49 474.30,443.17 475.24,442.83 476.19,442.48 477.14,442.10 478.09,441.70 479.04,441.26 479.99,440.80 480.93,440.31 481.88,439.79 482.83,439.26 483.78,438.72 484.73,438.16 485.68,437.60 486.62,437.03 487.57,436.46 488.52,435.88" fill="none" stroke="#e2d865" stroke-width="1.3" stroke-linejoin="round"/>
<circle cx="300.75" cy="525.99" r="2.05" fill="#f4ecc0" fill-opacity="0.5" stroke="#ddd46a" stroke-width="1.25"/>
<circle cx="306.44" cy="524.74" r="2.05" fill="#f4ecc0" fill-opacity="0.5" stroke="#ddd46a" stroke-width="1.25"/>
<circle cx="312.13" cy="523.39" r="2.05" fill="#f4ecc0" fill-opacity="0.5" stroke="#ddd46a" stroke-width="1.25"/>
<circle cx="317.82" cy="521.93" r="2.05" fill="#f4ecc0" fill-opacity="0.5" stroke="#ddd46a" stroke-width="1.25"/>
<circle cx="323.51" cy="520.37" r="2.05" fill="#f4ecc0" fill-opacity="0.5" stroke="#ddd46a" stroke-width="1.25"/>
<circle cx="329.20" cy="518.68" r="2.05" fill="#f4ecc0" fill-opacity="0.5" stroke="#ddd46a" stroke-width="1.25"/>
<circle cx="334.89" cy="516.85" r="2.05" fill="#f4ecc0" fill-opacity="0.5" stroke="#ddd46a" stroke-width="1.25"/>
<circle cx="340.58" cy="514.94" r="2.05" fill="#f4ecc0" fill-opacity="0.5" stroke="#ddd46a" stroke-width="1.25"/>
<circle cx="346.27" cy="513.01" r="2.05" fill="#f4ecc0" fill-opacity="0.5" stroke="#ddd46a" stroke-width="1.25"/>
<circle cx="351.96" cy="511.13" r="2.05" fill="#f4ecc0" fill-opacity="0.5" stroke="#ddd46a" stroke-width="1.25"/>
<circle cx="357.65" cy="509.23" r="2.05" fill="#f4ecc0" fill-opacity="0.5" stroke="#ddd46a" stroke-width="1.25"/>
<circle cx="363.34" cy="507.21" r="2.05" fill="#f4ecc0" fill-opacity="0.5" stroke="#ddd46a" stroke-width="1.25"/>
<circle cx="369.03" cy="504.94" r="2.05" fill="#f4ecc0" fill-opacity="0.5" stroke="#ddd46a" stroke-width="1.25"/>
<circle cx="374.72" cy="502.36" r="2.05" fill="#f4ecc0" fill-opacity="0.5" stroke="#ddd46a" stroke-width="1.25"/>
<circle cx="380.41" cy="499.45" r="2.05" fill="#f4ecc0" fill-opacity="0.5" stroke="#ddd46a" stroke-width="1.25"/>
<circle cx="386.10" cy="496.17" r="2.05" fill="#f4ecc0" fill-opacity="0.5" stroke="#ddd46a" stroke-width="1.25"/>
<circle cx="391.79" cy="492.40" r="2.05" fill="#f4ecc0" fill-opacity="0.5" stroke="#ddd46a" stroke-width="1.25"/>
<circle cx="397.48" cy="488.31" r="2.05" fill="#f4ecc0" fill-opacity="0.5" stroke="#ddd46a" stroke-width="1.25"/>
<circle cx="403.17" cy="484.74" r="2.05" fill="#f4ecc0" fill-opacity="0.5" stroke="#ddd46a" stroke-width="1.25"/>
<circle cx="408.86" cy="481.01" r="2.05" fill="#f4ecc0" fill-opacity="0.5" stroke="#ddd46a" stroke-width="1.25"/>
<circle cx="414.55" cy="477.12" r="2.05" fill="#f4ecc0" fill-opacity="0.5" stroke="#ddd46a" stroke-width="1.25"/>
<circle cx="420.24" cy="473.28" r="2.05" fill="#f4ecc0" fill-opacity="0.5" stroke="#ddd46a" stroke-width="1.25"/>
<circle cx="425.93" cy="469.24" r="2.05" fill="#f4ecc0" fill-opacity="0.5" stroke="#ddd46a" stroke-width="1.25"/>
<circle cx="431.62" cy="464.80" r="2.05" fill="#f4ecc0" fill-opacity="0.5" stroke="#ddd46a" stroke-width="1.25"/>
<circle cx="437.31" cy="460.51" r="2.05" fill="#f4ecc0" fill-opacity="0.5" stroke="#ddd46a" stroke-width="1.25"/>
<circle cx="443.00" cy="456.59" r="2.05" fill="#f4ecc0" fill-opacity="0.5" stroke="#ddd46a" stroke-width="1.25"/>
<circle cx="448.69" cy="453.45" r="2.05" fill="#f4ecc0" fill-opacity="0.5" stroke="#ddd46a" stroke-width="1.25"/>
<circle cx="454.38" cy="450.97" r="2.05" fill="#f4ecc0" fill-opacity="0.5" stroke="#ddd46a" stroke-width="1.25"/>
<circle cx="460.07" cy="448.62" r="2.05" fill="#f4ecc0" fill-opacity="0.5" stroke="#ddd46a" stroke-width="1.25"/>
<circle cx="465.76" cy="446.29" r="2.05" fill="#f4ecc0" fill-opacity="0.5" stroke="#ddd46a" stroke-width="1.25"/>
<circle cx="471.45" cy="444.14" r="2.05" fill="#f4ecc0" fill-opacity="0.5" stroke="#ddd46a" stroke-width="1.25"/>
<circle cx="477.14" cy="442.10" r="2.05" fill="#f4ecc0" fill-opacity="0.5" stroke="#ddd46a" stroke-width="1.25"/>
<circle cx="482.83" cy="439.26" r="2.05" fill="#f4ecc0" fill-opacity="0.5" stroke="#ddd46a" stroke-width="1.25"/>
<circle cx="488.52" cy="435.88" r="2.05" fill="#f4ecc0" fill-opacity="0.5" stroke="#ddd46a" stroke-width="1.25"/>
<polyline points="300.75,529.19 301.70,528.92 302.65,528.65 303.60,528.38 304.54,528.10 305.49,527.83 306.44,527.55 307.39,527.27 308.34,526.98 309.29,526.70 310.23,526.41 311.18,526.12 312.13,525.83 313.08,525.54 314.03,525.24 314.98,524.95 315.92,524.65 316.87,524.35 317.82,524.04 318.77,523.74 319.72,523.43 320.67,523.12 321.61,522.81 322.56,522.49 323.51,522.17 324.46,521.84 325.41,521.51 326.36,521.18 327.30,520.84 328.25,520.49 329.20,520.14 330.15,519.79 331.10,519.43 332.05,519.08 332.99,518.72 333.94,518.36 334.89,518.00 335.84,517.64 336.79,517.29 337.74,516.94 338.68,516.59 339.63,516.25 340.58,515.91 341.53,515.58 342.48,515.26 343.43,514.95 344.37,514.65 345.32,514.36 346.27,514.08 347.22,513.81 348.17,513.54 349.12,513.29 350.06,513.04 351.01,512.80 351.96,512.55 352.91,512.31 353.86,512.07 354.81,511.82 355.75,511.56 356.70,511.29 357.65,511.01 358.60,510.72 359.55,510.42 360.50,510.10 361.44,509.78 362.39,509.45 363.34,509.11 364.29,508.77 365.24,508.42 366.19,508.07 367.13,507.72 368.08,507.38 369.03,507.03 369.98,506.69 370.93,506.34 371.88,506.00 372.82,505.66 373.77,505.32 374.72,504.97 375.67,504.62 376.62,504.25 377.56,503.88 378.51,503.49 379.46,503.08 380.41,502.66 381.36,502.21 382.31,501.75 383.25,501.27 384.20,500.78 385.15,500.27 386.10,499.75 387.05,499.22 388.00,498.68 388.94,498.15 389.89,497.62 390.84,497.09 391.79,496.56 392.74,496.04 393.69,495.52 394.63,495.01 395.58,494.50 396.53,493.99 397.48,493.47 398.43,492.95 399.38,492.42 400.32,491.88 401.27,491.32 402.22,490.74 403.17,490.15 404.12,489.54 405.07,488.90 406.01,488.25 406.96,487.58 407.91,486.89 408.86,486.19 409.81,485.47 410.76,484.75 411.71,484.01 412.65,483.27 413.60,482.53 414.55,481.78 415.50,481.03 416.45,480.27 417.39,479.51 418.34,478.74 419.29,477.97 420.24,477.19 421.19,476.42 422.14,475.63 423.09,474.85 424.03,474.06 424.98,473.27 425.93,472.48 426.88,471.68 427.83,470.89 428.77,470.09 429.72,469.30 430.67,468.51 431.62,467.74 432.57,466.97 433.52,466.22 434.47,465.49 435.41,464.79 436.36,464.12 437.31,463.47 438.26,462.86 439.21,462.28 440.15,461.72 441.10,461.20 442.05,460.70 443.00,460.23 443.95,459.79 444.90,459.37 445.85,458.98 446.79,458.62 447.74,458.28 448.69,457.97 449.64,457.69 450.59,457.44 451.53,457.20 452.48,456.99 453.43,456.79 454.38,456.60 455.33,456.43 456.28,456.27 457.23,456.12 458.17,455.98 459.12,455.85 460.07,455.74 461.02,455.63 461.97,455.54 462.92,455.46 463.86,455.39 464.81,455.34 465.76,455.30 466.71,455.26 467.66,455.24 468.61,455.22 469.55,455.21 470.50,455.21 471.45,455.20 472.40,455.20 473.35,455.20 474.30,455.20 475.24,455.20 476.19,455.20 477.14,455.20 478.09,455.20 479.04,455.20 479.99,455.20 480.93,455.20 481.88,455.20 482.83,455.20 483.78,455.20 484.73,455.20 485.68,455.20 486.62,455.20 487.57,455.20 488.52,455.20" fill="none" stroke="#3d409e" stroke-width="1.3" stroke-linejoin="round"/>
<polyline points="300.75,515.39 301.70,514.85 302.65,514.31 303.60,513.77 304.54,513.23 305.49,512.68 306.44,512.13 307.39,511.58 308.34,511.03 309.29,510.47 310.23,509.92 311.18,509.36 312.13,508.80 313.08,508.23 314.03,507.67 314.98,507.10 315.92,506.53 316.87,505.96 317.82,505.38 318.77,504.79 319.72,504.20 320.67,503.60 321.61,502.98 322.56,502.35 323.51,501.72 324.46,501.07 325.41,500.40 326.36,499.72 327.30,499.03 328.25,498.32 329.20,497.60 330.15,496.85 331.10,496.09 332.05,495.30 332.99,494.49 333.94,493.66 334.89,492.79 335.84,491.90 336.79,490.98 337.74,490.03 338.68,489.05 339.63,488.05 340.58,487.02 341.53,485.98 342.48,484.92 343.43,483.84 344.37,482.75 345.32,481.65 346.27,480.53 347.22,479.41 348.17,478.27 349.12,477.13 350.06,475.98 351.01,474.82 351.96,473.67 352.91,472.51 353.86,471.35 354.81,470.20 355.75,469.06 356.70,467.93 357.65,466.81 358.60,465.70 359.55,464.61 360.50,463.53 361.44,462.45 362.39,461.39 363.34,460.33 364.29,459.28 365.24,458.22 366.19,457.17 367.13,456.11 368.08,455.05 369.03,453.98 369.98,452.90 370.93,451.81 371.88,450.72 372.82,449.62 373.77,448.51 374.72,447.39 375.67,446.27 376.62,445.15 377.56,444.02 378.51,442.90 379.46,441.78 380.41,440.66 381.36,439.55 382.31,438.45 383.25,437.33 384.20,436.21 385.15,435.06 386.10,433.89 387.05,432.67 388.00,431.41 388.94,430.10 389.89,428.76 390.84,427.39 391.79,426.01 392.74,424.61 393.69,423.22 394.63,421.84 395.58,420.47 396.53,419.12 397.48,417.79 398.43,416.47 399.38,415.17 400.32,413.89 401.27,412.63 402.22,411.38 403.17,410.15 404.12,408.94 405.07,407.75 406.01,406.57 406.96,405.42 407.91,404.30 408.86,403.20 409.81,402.13 410.76,401.09 411.71,400.09 412.65,399.12 413.60,398.19 414.55,397.29 415.50,396.43 416.45,395.60 417.39,394.81 418.34,394.04 419.29,393.30 420.24,392.57 421.19,391.86 422.14,391.17 423.09,390.50 424.03,389.85 424.98,389.24 425.93,388.66 426.88,388.14 427.83,387.66 428.77,387.23 429.72,386.84 430.67,386.50 431.62,386.20 432.57,385.92 433.52,385.66 434.47,385.42 435.41,385.19 436.36,384.96 437.31,384.73 438.26,384.50 439.21,384.27 440.15,384.05 441.10,383.84 442.05,383.64 443.00,383.45 443.95,383.28 444.90,383.13 445.85,383.00 446.79,382.89 447.74,382.79 448.69,382.71 449.64,382.65 450.59,382.60 451.53,382.57 452.48,382.54 453.43,382.52 454.38,382.51 455.33,382.51 456.28,382.50 457.23,382.50 458.17,382.50 459.12,382.50 460.07,382.50 461.02,382.50 461.97,382.50 462.92,382.50 463.86,382.50 464.81,382.50 465.76,382.50 466.71,382.50 467.66,382.50 468.61,382.50 469.55,382.50 470.50,382.50 471.45,382.50 472.40,382.50 473.35,382.50 474.30,382.50 475.24,382.50 476.19,382.50 477.14,382.50 478.09,382.50 479.04,382.50 479.99,382.50 480.93,382.50 481.88,382.50 482.83,382.50 483.78,382.50 484.73,382.50 485.68,382.50 486.62,382.50 487.57,382.50 488.52,382.50" fill="none" stroke="#3d409e" stroke-width="1.3" stroke-linejoin="round"/>
<polyline points="300.75,523.27 301.70,523.00 302.65,522.72 303.60,522.44 304.54,522.14 305.49,521.84 306.44,521.53 307.39,521.21 308.34,520.87 309.29,520.52 310.23,520.16 311.18,519.79 312.13,519.41 313.08,519.01 314.03,518.60 314.98,518.19 315.92,517.77 316.87,517.35 317.82,516.93 318.77,516.50 319.72,516.07 320.67,515.65 321.61,515.22 322.56,514.79 323.51,514.36 324.46,513.92 325.41,513.49 326.36,513.05 327.30,512.62 328.25,512.19 329.20,511.76 330.15,511.34 331.10,510.92 332.05,510.49 332.99,510.07 333.94,509.64 334.89,509.20 335.84,508.75 336.79,508.30 337.74,507.84 338.68,507.37 339.63,506.89 340.58,506.41 341.53,505.92 342.48,505.42 343.43,504.92 344.37,504.40 345.32,503.87 346.27,503.32 347.22,502.76 348.17,502.18 349.12,501.59 350.06,501.00 351.01,500.41 351.96,499.83 352.91,499.25 353.86,498.68 354.81,498.12 355.75,497.56 356.70,497.01 357.65,496.46 358.60,495.91 359.55,495.36 360.50,494.81 361.44,494.26 362.39,493.71 363.34,493.16 364.29,492.62 365.24,492.07 366.19,491.52 367.13,490.96 368.08,490.38 369.03,489.78 369.98,489.16 370.93,488.53 371.88,487.88 372.82,487.21 373.77,486.54 374.72,485.87 375.67,485.20 376.62,484.53 377.56,483.86 378.51,483.20 379.46,482.53 380.41,481.86 381.36,481.19 382.31,480.51 383.25,479.82 384.20,479.12 385.15,478.41 386.10,477.68 387.05,476.95 388.00,476.20 388.94,475.45 389.89,474.69 390.84,473.92 391.79,473.15 392.74,472.38 393.69,471.60 394.63,470.80 395.58,469.98 396.53,469.14 397.48,468.27 398.43,467.36 399.38,466.42 400.32,465.45 401.27,464.45 402.22,463.44 403.17,462.42 404.12,461.38 405.07,460.35 406.01,459.31 406.96,458.27 407.91,457.24 408.86,456.20 409.81,455.17 410.76,454.13 411.71,453.10 412.65,452.06 413.60,451.03 414.55,449.99 415.50,448.96 416.45,447.93 417.39,446.91 418.34,445.90 419.29,444.90 420.24,443.92 421.19,442.96 422.14,442.02 423.09,441.11 424.03,440.24 424.98,439.40 425.93,438.60 426.88,437.83 427.83,437.11 428.77,436.44 429.72,435.80 430.67,435.20 431.62,434.64 432.57,434.11 433.52,433.62 434.47,433.16 435.41,432.72 436.36,432.32 437.31,431.94 438.26,431.58 439.21,431.25 440.15,430.95 441.10,430.67 442.05,430.42 443.00,430.19 443.95,429.99 444.90,429.80 445.85,429.63 446.79,429.48 447.74,429.33 448.69,429.19 449.64,429.06 450.59,428.93 451.53,428.81 452.48,428.69 453.43,428.58 454.38,428.48 455.33,428.38 456.28,428.30 457.23,428.22 458.17,428.15 459.12,428.08 460.07,428.02 461.02,427.96 461.97,427.90 462.92,427.85 463.86,427.79 464.81,427.73 465.76,427.67 466.71,427.62 467.66,427.56 468.61,427.50 469.55,427.45 470.50,427.40 471.45,427.36 472.40,427.32 473.35,427.29 474.30,427.26 475.24,427.25 476.19,427.23 477.14,427.22 478.09,427.21 479.04,427.21 479.99,427.20 480.93,427.20 481.88,427.20 482.83,427.20 483.78,427.20 484.73,427.20 485.68,427.20 486.62,427.20 487.57,427.20 488.52,427.20" fill="none" stroke="#3d409e" stroke-width="1.3" stroke-linejoin="round"/>
<circle cx="300.75" cy="523.27" r="1.95" fill="none" stroke="#3d409e" stroke-width="1.35"/>
<circle cx="306.44" cy="521.53" r="1.95" fill="none" stroke="#3d409e" stroke-width="1.35"/>
<circle cx="312.13" cy="519.41" r="1.95" fill="none" stroke="#3d409e" stroke-width="1.35"/>
<circle cx="317.82" cy="516.93" r="1.95" fill="none" stroke="#3d409e" stroke-width="1.35"/>
<circle cx="323.51" cy="514.36" r="1.95" fill="none" stroke="#3d409e" stroke-width="1.35"/>
<circle cx="329.20" cy="511.76" r="1.95" fill="none" stroke="#3d409e" stroke-width="1.35"/>
<circle cx="334.89" cy="509.20" r="1.95" fill="none" stroke="#3d409e" stroke-width="1.35"/>
<circle cx="340.58" cy="506.41" r="1.95" fill="none" stroke="#3d409e" stroke-width="1.35"/>
<circle cx="346.27" cy="503.32" r="1.95" fill="none" stroke="#3d409e" stroke-width="1.35"/>
<circle cx="351.96" cy="499.83" r="1.95" fill="none" stroke="#3d409e" stroke-width="1.35"/>
<circle cx="357.65" cy="496.46" r="1.95" fill="none" stroke="#3d409e" stroke-width="1.35"/>
<circle cx="363.34" cy="493.16" r="1.95" fill="none" stroke="#3d409e" stroke-width="1.35"/>
<circle cx="369.03" cy="489.78" r="1.95" fill="none" stroke="#3d409e" stroke-width="1.35"/>
<circle cx="374.72" cy="485.87" r="1.95" fill="none" stroke="#3d409e" stroke-width="1.35"/>
<circle cx="380.41" cy="481.86" r="1.95" fill="none" stroke="#3d409e" stroke-width="1.35"/>
<circle cx="386.10" cy="477.68" r="1.95" fill="none" stroke="#3d409e" stroke-width="1.35"/>
<circle cx="391.79" cy="473.15" r="1.95" fill="none" stroke="#3d409e" stroke-width="1.35"/>
<circle cx="397.48" cy="468.27" r="1.95" fill="none" stroke="#3d409e" stroke-width="1.35"/>
<circle cx="403.17" cy="462.42" r="1.95" fill="none" stroke="#3d409e" stroke-width="1.35"/>
<circle cx="408.86" cy="456.20" r="1.95" fill="none" stroke="#3d409e" stroke-width="1.35"/>
<circle cx="414.55" cy="449.99" r="1.95" fill="none" stroke="#3d409e" stroke-width="1.35"/>
<circle cx="420.24" cy="443.92" r="1.95" fill="none" stroke="#3d409e" stroke-width="1.35"/>
<circle cx="425.93" cy="438.60" r="1.95" fill="none" stroke="#3d409e" stroke-width="1.35"/>
<circle cx="431.62" cy="434.64" r="1.95" fill="none" stroke="#3d409e" stroke-width="1.35"/>
<circle cx="437.31" cy="431.94" r="1.95" fill="none" stroke="#3d409e" stroke-width="1.35"/>
<circle cx="443.00" cy="430.19" r="1.95" fill="none" stroke="#3d409e" stroke-width="1.35"/>
<circle cx="448.69" cy="429.19" r="1.95" fill="none" stroke="#3d409e" stroke-width="1.35"/>
<circle cx="454.38" cy="428.48" r="1.95" fill="none" stroke="#3d409e" stroke-width="1.35"/>
<circle cx="460.07" cy="428.02" r="1.95" fill="none" stroke="#3d409e" stroke-width="1.35"/>
<circle cx="465.76" cy="427.67" r="1.95" fill="none" stroke="#3d409e" stroke-width="1.35"/>
<circle cx="471.45" cy="427.36" r="1.95" fill="none" stroke="#3d409e" stroke-width="1.35"/>
<circle cx="477.14" cy="427.22" r="1.95" fill="none" stroke="#3d409e" stroke-width="1.35"/>
<circle cx="482.83" cy="427.20" r="1.95" fill="none" stroke="#3d409e" stroke-width="1.35"/>
<circle cx="488.52" cy="427.20" r="1.95" fill="none" stroke="#3d409e" stroke-width="1.35"/>
<text x="493.30" y="377.30" font-size="12" fill="#3d409e" stroke="#3d409e" stroke-width="0.4">P97</text>
<text x="493.30" y="385.60" font-size="12" fill="#e3dc86" stroke="#e3dc86" stroke-width="0.4">P97</text>
<text x="490.80" y="426.80" font-size="12" fill="#3d409e" stroke="#3d409e" stroke-width="0.4">P50</text>
<text x="490.80" y="435.40" font-size="12" fill="#e3dc86" stroke="#e3dc86" stroke-width="0.4">P50</text>
<text x="490.80" y="456.90" font-size="12" fill="#3d409e" stroke="#3d409e" stroke-width="0.4">P3</text>
<text x="490.80" y="479.10" font-size="12" fill="#e3dc86" stroke="#e3dc86" stroke-width="0.4">P3</text>
<line x1="438.90" y1="515.10" x2="450.30" y2="515.10" stroke="#3d409e" stroke-width="1.3"/>
<line x1="438.90" y1="524.90" x2="450.30" y2="524.90" stroke="#e2d865" stroke-width="1.3"/>
<text x="452.80" y="517.50" font-size="12" fill="#141414" stroke="#141414" stroke-width="0.4">Normal</text>
<text x="452.80" y="527.00" font-size="12" fill="#141414" stroke="#141414" stroke-width="0.4">Noonan</text>
<text x="395.50" y="318.80" text-anchor="middle" font-size="12" font-weight="bold" fill="#141414" stroke="#141414" stroke-width="0.35">Females</text>
<text x="395.20" y="588.00" text-anchor="middle" font-size="12" font-weight="bold" fill="#141414" stroke="#141414" stroke-width="0.35">Age (years)</text>
<text transform="translate(274.00,440.30) rotate(-90)" text-anchor="middle" font-size="12" font-weight="bold" fill="#141414" stroke="#141414" stroke-width="0.35">Weight (kg)</text>
<path d="M46.20,638.20 V862.30 H240.50" fill="none" stroke="#141414" stroke-width="2"/>
<line x1="41.70" y1="862.30" x2="46.20" y2="862.30" stroke="#141414" stroke-width="1.6"/>
<text x="39.70" y="865.40" text-anchor="end" font-size="12" fill="#141414" stroke="#141414" stroke-width="0.4">10</text>
<line x1="41.70" y1="839.99" x2="46.20" y2="839.99" stroke="#141414" stroke-width="1.6"/>
<text x="39.70" y="843.09" text-anchor="end" font-size="12" fill="#141414" stroke="#141414" stroke-width="0.4">12</text>
<line x1="41.70" y1="817.68" x2="46.20" y2="817.68" stroke="#141414" stroke-width="1.6"/>
<text x="39.70" y="820.78" text-anchor="end" font-size="12" fill="#141414" stroke="#141414" stroke-width="0.4">14</text>
<line x1="41.70" y1="795.37" x2="46.20" y2="795.37" stroke="#141414" stroke-width="1.6"/>
<text x="39.70" y="798.47" text-anchor="end" font-size="12" fill="#141414" stroke="#141414" stroke-width="0.4">16</text>
<line x1="41.70" y1="773.06" x2="46.20" y2="773.06" stroke="#141414" stroke-width="1.6"/>
<text x="39.70" y="776.16" text-anchor="end" font-size="12" fill="#141414" stroke="#141414" stroke-width="0.4">18</text>
<line x1="41.70" y1="750.75" x2="46.20" y2="750.75" stroke="#141414" stroke-width="1.6"/>
<text x="39.70" y="753.85" text-anchor="end" font-size="12" fill="#141414" stroke="#141414" stroke-width="0.4">20</text>
<line x1="41.70" y1="728.44" x2="46.20" y2="728.44" stroke="#141414" stroke-width="1.6"/>
<text x="39.70" y="731.54" text-anchor="end" font-size="12" fill="#141414" stroke="#141414" stroke-width="0.4">22</text>
<line x1="41.70" y1="706.13" x2="46.20" y2="706.13" stroke="#141414" stroke-width="1.6"/>
<text x="39.70" y="709.23" text-anchor="end" font-size="12" fill="#141414" stroke="#141414" stroke-width="0.4">24</text>
<line x1="41.70" y1="683.82" x2="46.20" y2="683.82" stroke="#141414" stroke-width="1.6"/>
<text x="39.70" y="686.92" text-anchor="end" font-size="12" fill="#141414" stroke="#141414" stroke-width="0.4">26</text>
<line x1="41.70" y1="661.51" x2="46.20" y2="661.51" stroke="#141414" stroke-width="1.6"/>
<text x="39.70" y="664.61" text-anchor="end" font-size="12" fill="#141414" stroke="#141414" stroke-width="0.4">28</text>
<line x1="41.70" y1="639.20" x2="46.20" y2="639.20" stroke="#141414" stroke-width="1.6"/>
<text x="39.70" y="642.30" text-anchor="end" font-size="12" fill="#141414" stroke="#141414" stroke-width="0.4">30</text>
<line x1="49.00" y1="862.30" x2="49.00" y2="866.30" stroke="#141414" stroke-width="1.6"/>
<text x="49.00" y="879.10" text-anchor="middle" font-size="11.8" fill="#141414" stroke="#141414" stroke-width="0.4">2</text>
<line x1="71.80" y1="862.30" x2="71.80" y2="866.30" stroke="#141414" stroke-width="1.6"/>
<text x="71.80" y="879.10" text-anchor="middle" font-size="11.8" fill="#141414" stroke="#141414" stroke-width="0.4">4</text>
<line x1="94.60" y1="862.30" x2="94.60" y2="866.30" stroke="#141414" stroke-width="1.6"/>
<text x="94.60" y="879.10" text-anchor="middle" font-size="11.8" fill="#141414" stroke="#141414" stroke-width="0.4">6</text>
<line x1="117.40" y1="862.30" x2="117.40" y2="866.30" stroke="#141414" stroke-width="1.6"/>
<text x="117.40" y="879.10" text-anchor="middle" font-size="11.8" fill="#141414" stroke="#141414" stroke-width="0.4">8</text>
<line x1="140.20" y1="862.30" x2="140.20" y2="866.30" stroke="#141414" stroke-width="1.6"/>
<text x="140.20" y="879.10" text-anchor="middle" font-size="11.8" fill="#141414" stroke="#141414" stroke-width="0.4">10</text>
<line x1="163.00" y1="862.30" x2="163.00" y2="866.30" stroke="#141414" stroke-width="1.6"/>
<text x="163.00" y="879.10" text-anchor="middle" font-size="11.8" fill="#141414" stroke="#141414" stroke-width="0.4">12</text>
<line x1="185.80" y1="862.30" x2="185.80" y2="866.30" stroke="#141414" stroke-width="1.6"/>
<text x="185.80" y="879.10" text-anchor="middle" font-size="11.8" fill="#141414" stroke="#141414" stroke-width="0.4">14</text>
<line x1="208.60" y1="862.30" x2="208.60" y2="866.30" stroke="#141414" stroke-width="1.6"/>
<text x="208.60" y="879.10" text-anchor="middle" font-size="11.8" fill="#141414" stroke="#141414" stroke-width="0.4">16</text>
<line x1="231.40" y1="862.30" x2="231.40" y2="866.30" stroke="#141414" stroke-width="1.6"/>
<text x="231.40" y="879.10" text-anchor="middle" font-size="11.8" fill="#141414" stroke="#141414" stroke-width="0.4">18</text>
<polyline points="49.00,834.01 49.95,833.88 50.91,833.76 51.86,833.64 52.81,833.53 53.77,833.41 54.72,833.30 55.67,833.20 56.63,833.09 57.58,832.99 58.53,832.89 59.49,832.80 60.44,832.71 61.39,832.62 62.35,832.53 63.30,832.44 64.26,832.36 65.21,832.28 66.16,832.20 67.12,832.13 68.07,832.06 69.02,831.99 69.98,831.93 70.93,831.88 71.88,831.84 72.84,831.81 73.79,831.78 74.74,831.76 75.70,831.75 76.65,831.75 77.60,831.76 78.56,831.77 79.51,831.78 80.46,831.80 81.42,831.82 82.37,831.84 83.32,831.87 84.28,831.89 85.23,831.91 86.18,831.93 87.14,831.94 88.09,831.95 89.05,831.95 90.00,831.95 90.95,831.93 91.91,831.92 92.86,831.89 93.81,831.85 94.77,831.81 95.72,831.75 96.67,831.70 97.63,831.63 98.58,831.56 99.53,831.48 100.49,831.40 101.44,831.32 102.39,831.23 103.35,831.14 104.30,831.05 105.25,830.96 106.21,830.86 107.16,830.76 108.11,830.65 109.07,830.54 110.02,830.43 110.97,830.30 111.93,830.18 112.88,830.05 113.83,829.91 114.79,829.77 115.74,829.62 116.70,829.47 117.65,829.32 118.60,829.15 119.56,828.99 120.51,828.81 121.46,828.63 122.42,828.45 123.37,828.26 124.32,828.06 125.28,827.86 126.23,827.65 127.18,827.43 128.14,827.21 129.09,826.98 130.04,826.75 131.00,826.51 131.95,826.26 132.90,826.02 133.86,825.76 134.81,825.50 135.76,825.24 136.72,824.97 137.67,824.69 138.62,824.41 139.58,824.12 140.53,823.82 141.49,823.51 142.44,823.20 143.39,822.88 144.35,822.55 145.30,822.22 146.25,821.89 147.21,821.56 148.16,821.24 149.11,820.93 150.07,820.63 151.02,820.34 151.97,820.07 152.93,819.81 153.88,819.56 154.83,819.31 155.79,819.07 156.74,818.83 157.69,818.59 158.65,818.34 159.60,818.08 160.55,817.82 161.51,817.53 162.46,817.23 163.41,816.91 164.37,816.57 165.32,816.21 166.27,815.82 167.23,815.42 168.18,815.01 169.14,814.57 170.09,814.13 171.04,813.68 172.00,813.21 172.95,812.75 173.90,812.28 174.86,811.80 175.81,811.33 176.76,810.85 177.72,810.37 178.67,809.89 179.62,809.41 180.58,808.93 181.53,808.44 182.48,807.96 183.44,807.48 184.39,807.00 185.34,806.53 186.30,806.06 187.25,805.60 188.20,805.15 189.16,804.72 190.11,804.29 191.06,803.87 192.02,803.46 192.97,803.06 193.93,802.65 194.88,802.25 195.83,801.83 196.79,801.41 197.74,800.98 198.69,800.53 199.65,800.06 200.60,799.57 201.55,799.06 202.51,798.54 203.46,798.01 204.41,797.47 205.37,796.92 206.32,796.37 207.27,795.83 208.23,795.29 209.18,794.76 210.13,794.24 211.09,793.73 212.04,793.22 212.99,792.72 213.95,792.23 214.90,791.73 215.85,791.24 216.81,790.75 217.76,790.25 218.71,789.76 219.67,789.26 220.62,788.76 221.58,788.26 222.53,787.75 223.48,787.25 224.44,786.75 225.39,786.25 226.34,785.75 227.30,785.26 228.25,784.77 229.20,784.28 230.16,783.79 231.11,783.31 232.06,782.83 233.02,782.36 233.97,781.88 234.92,781.41 235.88,780.94 236.83,780.47 237.78,780.01" fill="none" stroke="#e2d865" stroke-width="1.3" stroke-linejoin="round"/>
<polyline points="49.00,766.02 49.95,765.64 50.91,765.27 51.86,764.91 52.81,764.57 53.77,764.25 54.72,763.96 55.67,763.70 56.63,763.47 57.58,763.27 58.53,763.11 59.49,762.98 60.44,762.89 61.39,762.82 62.35,762.77 63.30,762.74 64.26,762.72 65.21,762.71 66.16,762.71 67.12,762.70 68.07,762.70 69.02,762.70 69.98,762.70 70.93,762.70 71.88,762.70 72.84,762.69 73.79,762.69 74.74,762.68 75.70,762.67 76.65,762.66 77.60,762.64 78.56,762.62 79.51,762.59 80.46,762.56 81.42,762.52 82.37,762.48 83.32,762.43 84.28,762.38 85.23,762.32 86.18,762.25 87.14,762.18 88.09,762.10 89.05,762.01 90.00,761.91 90.95,761.80 91.91,761.67 92.86,761.53 93.81,761.37 94.77,761.20 95.72,761.01 96.67,760.81 97.63,760.60 98.58,760.37 99.53,760.14 100.49,759.90 101.44,759.65 102.39,759.38 103.35,759.10 104.30,758.82 105.25,758.51 106.21,758.19 107.16,757.85 108.11,757.49 109.07,757.11 110.02,756.70 110.97,756.27 111.93,755.82 112.88,755.34 113.83,754.85 114.79,754.35 115.74,753.83 116.70,753.31 117.65,752.79 118.60,752.26 119.56,751.74 120.51,751.21 121.46,750.67 122.42,750.13 123.37,749.58 124.32,749.01 125.28,748.43 126.23,747.83 127.18,747.21 128.14,746.58 129.09,745.94 130.04,745.28 131.00,744.61 131.95,743.92 132.90,743.23 133.86,742.54 134.81,741.83 135.76,741.12 136.72,740.39 137.67,739.66 138.62,738.91 139.58,738.15 140.53,737.38 141.49,736.59 142.44,735.79 143.39,734.98 144.35,734.16 145.30,733.34 146.25,732.51 147.21,731.69 148.16,730.87 149.11,730.06 150.07,729.26 151.02,728.48 151.97,727.70 152.93,726.92 153.88,726.15 154.83,725.38 155.79,724.60 156.74,723.81 157.69,723.01 158.65,722.20 159.60,721.37 160.55,720.52 161.51,719.67 162.46,718.81 163.41,717.95 164.37,717.09 165.32,716.24 166.27,715.38 167.23,714.52 168.18,713.66 169.14,712.79 170.09,711.90 171.04,710.99 172.00,710.05 172.95,709.07 173.90,708.06 174.86,707.02 175.81,705.95 176.76,704.85 177.72,703.74 178.67,702.63 179.62,701.52 180.58,700.42 181.53,699.34 182.48,698.27 183.44,697.23 184.39,696.21 185.34,695.20 186.30,694.21 187.25,693.23 188.20,692.27 189.16,691.32 190.11,690.38 191.06,689.45 192.02,688.53 192.97,687.62 193.93,686.71 194.88,685.81 195.83,684.91 196.79,684.00 197.74,683.09 198.69,682.17 199.65,681.25 200.60,680.32 201.55,679.38 202.51,678.44 203.46,677.51 204.41,676.58 205.37,675.67 206.32,674.77 207.27,673.90 208.23,673.05 209.18,672.24 210.13,671.45 211.09,670.68 212.04,669.94 212.99,669.21 213.95,668.49 214.90,667.78 215.85,667.07 216.81,666.35 217.76,665.63 218.71,664.89 219.67,664.15 220.62,663.39 221.58,662.62 222.53,661.85 223.48,661.08 224.44,660.30 225.39,659.54 226.34,658.79 227.30,658.04 228.25,657.32 229.20,656.61 230.16,655.91 231.11,655.23 232.06,654.57 233.02,653.92 233.97,653.28 234.92,652.65 235.88,652.04 236.83,651.43 237.78,650.84" fill="none" stroke="#e2d865" stroke-width="1.3" stroke-linejoin="round"/>
<polyline points="49.00,801.34 49.95,801.22 50.91,801.11 51.86,801.01 52.81,800.93 53.77,800.86 54.72,800.81 55.67,800.77 56.63,800.74 57.58,800.73 58.53,800.71 59.49,800.71 60.44,800.71 61.39,800.71 62.35,800.71 63.30,800.71 64.26,800.72 65.21,800.74 66.16,800.76 67.12,800.79 68.07,800.83 69.02,800.87 69.98,800.93 70.93,800.99 71.88,801.06 72.84,801.14 73.79,801.22 74.74,801.31 75.70,801.39 76.65,801.48 77.60,801.56 78.56,801.65 79.51,801.73 80.46,801.81 81.42,801.90 82.37,801.98 83.32,802.07 84.28,802.17 85.23,802.27 86.18,802.37 87.14,802.48 88.09,802.59 89.05,802.70 90.00,802.80 90.95,802.91 91.91,803.01 92.86,803.10 93.81,803.18 94.77,803.26 95.72,803.33 96.67,803.39 97.63,803.44 98.58,803.48 99.53,803.51 100.49,803.53 101.44,803.54 102.39,803.54 103.35,803.53 104.30,803.52 105.25,803.50 106.21,803.48 107.16,803.45 108.11,803.42 109.07,803.39 110.02,803.35 110.97,803.31 111.93,803.27 112.88,803.23 113.83,803.18 114.79,803.13 115.74,803.07 116.70,803.01 117.65,802.95 118.60,802.87 119.56,802.79 120.51,802.71 121.46,802.61 122.42,802.51 123.37,802.39 124.32,802.27 125.28,802.13 126.23,801.99 127.18,801.84 128.14,801.68 129.09,801.52 130.04,801.34 131.00,801.16 131.95,800.97 132.90,800.78 133.86,800.57 134.81,800.36 135.76,800.13 136.72,799.89 137.67,799.64 138.62,799.37 139.58,799.10 140.53,798.81 141.49,798.50 142.44,798.18 143.39,797.85 144.35,797.50 145.30,797.14 146.25,796.77 147.21,796.38 148.16,795.99 149.11,795.59 150.07,795.18 151.02,794.76 151.97,794.34 152.93,793.92 153.88,793.49 154.83,793.06 155.79,792.62 156.74,792.17 157.69,791.71 158.65,791.24 159.60,790.77 160.55,790.30 161.51,789.83 162.46,789.36 163.41,788.90 164.37,788.45 165.32,788.01 166.27,787.58 167.23,787.15 168.18,786.73 169.14,786.31 170.09,785.89 171.04,785.47 172.00,785.05 172.95,784.63 173.90,784.22 174.86,783.80 175.81,783.38 176.76,782.96 177.72,782.54 178.67,782.12 179.62,781.70 180.58,781.29 181.53,780.87 182.48,780.47 183.44,780.07 184.39,779.69 185.34,779.32 186.30,778.95 187.25,778.60 188.20,778.25 189.16,777.90 190.11,777.53 191.06,777.16 192.02,776.76 192.97,776.35 193.93,775.92 194.88,775.47 195.83,775.01 196.79,774.54 197.74,774.06 198.69,773.59 199.65,773.11 200.60,772.64 201.55,772.17 202.51,771.70 203.46,771.23 204.41,770.76 205.37,770.29 206.32,769.81 207.27,769.34 208.23,768.87 209.18,768.39 210.13,767.91 211.09,767.43 212.04,766.95 212.99,766.47 213.95,766.00 214.90,765.52 215.85,765.05 216.81,764.58 217.76,764.11 218.71,763.64 219.67,763.17 220.62,762.70 221.58,762.22 222.53,761.73 223.48,761.23 224.44,760.71 225.39,760.18 226.34,759.62 227.30,759.05 228.25,758.47 229.20,757.87 230.16,757.27 231.11,756.66 232.06,756.06 233.02,755.47 233.97,754.89 234.92,754.31 235.88,753.74 236.83,753.18 237.78,752.63" fill="none" stroke="#e2d865" stroke-width="1.3" stroke-linejoin="round"/>
<circle cx="49.00" cy="801.34" r="2.05" fill="#f4ecc0" fill-opacity="0.5" stroke="#ddd46a" stroke-width="1.25"/>
<circle cx="54.70" cy="800.81" r="2.05" fill="#f4ecc0" fill-opacity="0.5" stroke="#ddd46a" stroke-width="1.25"/>
<circle cx="60.40" cy="800.71" r="2.05" fill="#f4ecc0" fill-opacity="0.5" stroke="#ddd46a" stroke-width="1.25"/>
<circle cx="66.10" cy="800.76" r="2.05" fill="#f4ecc0" fill-opacity="0.5" stroke="#ddd46a" stroke-width="1.25"/>
<circle cx="71.80" cy="801.05" r="2.05" fill="#f4ecc0" fill-opacity="0.5" stroke="#ddd46a" stroke-width="1.25"/>
<circle cx="77.50" cy="801.56" r="2.05" fill="#f4ecc0" fill-opacity="0.5" stroke="#ddd46a" stroke-width="1.25"/>
<circle cx="83.20" cy="802.06" r="2.05" fill="#f4ecc0" fill-opacity="0.5" stroke="#ddd46a" stroke-width="1.25"/>
<circle cx="88.90" cy="802.68" r="2.05" fill="#f4ecc0" fill-opacity="0.5" stroke="#ddd46a" stroke-width="1.25"/>
<circle cx="94.60" cy="803.25" r="2.05" fill="#f4ecc0" fill-opacity="0.5" stroke="#ddd46a" stroke-width="1.25"/>
<circle cx="100.30" cy="803.52" r="2.05" fill="#f4ecc0" fill-opacity="0.5" stroke="#ddd46a" stroke-width="1.25"/>
<circle cx="106.00" cy="803.48" r="2.05" fill="#f4ecc0" fill-opacity="0.5" stroke="#ddd46a" stroke-width="1.25"/>
<circle cx="111.70" cy="803.28" r="2.05" fill="#f4ecc0" fill-opacity="0.5" stroke="#ddd46a" stroke-width="1.25"/>
<circle cx="117.40" cy="802.96" r="2.05" fill="#f4ecc0" fill-opacity="0.5" stroke="#ddd46a" stroke-width="1.25"/>
<circle cx="123.10" cy="802.43" r="2.05" fill="#f4ecc0" fill-opacity="0.5" stroke="#ddd46a" stroke-width="1.25"/>
<circle cx="128.80" cy="801.57" r="2.05" fill="#f4ecc0" fill-opacity="0.5" stroke="#ddd46a" stroke-width="1.25"/>
<circle cx="134.50" cy="800.43" r="2.05" fill="#f4ecc0" fill-opacity="0.5" stroke="#ddd46a" stroke-width="1.25"/>
<circle cx="140.20" cy="798.91" r="2.05" fill="#f4ecc0" fill-opacity="0.5" stroke="#ddd46a" stroke-width="1.25"/>
<circle cx="145.90" cy="796.91" r="2.05" fill="#f4ecc0" fill-opacity="0.5" stroke="#ddd46a" stroke-width="1.25"/>
<circle cx="151.60" cy="794.51" r="2.05" fill="#f4ecc0" fill-opacity="0.5" stroke="#ddd46a" stroke-width="1.25"/>
<circle cx="157.30" cy="791.90" r="2.05" fill="#f4ecc0" fill-opacity="0.5" stroke="#ddd46a" stroke-width="1.25"/>
<circle cx="163.00" cy="789.10" r="2.05" fill="#f4ecc0" fill-opacity="0.5" stroke="#ddd46a" stroke-width="1.25"/>
<circle cx="168.70" cy="786.50" r="2.05" fill="#f4ecc0" fill-opacity="0.5" stroke="#ddd46a" stroke-width="1.25"/>
<circle cx="174.40" cy="784.00" r="2.05" fill="#f4ecc0" fill-opacity="0.5" stroke="#ddd46a" stroke-width="1.25"/>
<circle cx="180.10" cy="781.49" r="2.05" fill="#f4ecc0" fill-opacity="0.5" stroke="#ddd46a" stroke-width="1.25"/>
<circle cx="185.80" cy="779.14" r="2.05" fill="#f4ecc0" fill-opacity="0.5" stroke="#ddd46a" stroke-width="1.25"/>
<circle cx="191.50" cy="776.98" r="2.05" fill="#f4ecc0" fill-opacity="0.5" stroke="#ddd46a" stroke-width="1.25"/>
<circle cx="197.20" cy="774.33" r="2.05" fill="#f4ecc0" fill-opacity="0.5" stroke="#ddd46a" stroke-width="1.25"/>
<circle cx="202.90" cy="771.50" r="2.05" fill="#f4ecc0" fill-opacity="0.5" stroke="#ddd46a" stroke-width="1.25"/>
<circle cx="208.60" cy="768.68" r="2.05" fill="#f4ecc0" fill-opacity="0.5" stroke="#ddd46a" stroke-width="1.25"/>
<circle cx="214.30" cy="765.82" r="2.05" fill="#f4ecc0" fill-opacity="0.5" stroke="#ddd46a" stroke-width="1.25"/>
<circle cx="220.00" cy="763.00" r="2.05" fill="#f4ecc0" fill-opacity="0.5" stroke="#ddd46a" stroke-width="1.25"/>
<circle cx="225.70" cy="760.00" r="2.05" fill="#f4ecc0" fill-opacity="0.5" stroke="#ddd46a" stroke-width="1.25"/>
<circle cx="231.40" cy="756.48" r="2.05" fill="#f4ecc0" fill-opacity="0.5" stroke="#ddd46a" stroke-width="1.25"/>
<circle cx="237.10" cy="753.02" r="2.05" fill="#f4ecc0" fill-opacity="0.5" stroke="#ddd46a" stroke-width="1.25"/>
<polyline points="49.00,811.34 49.95,812.16 50.91,812.95 51.86,813.69 52.81,814.39 53.77,815.03 54.72,815.62 55.67,816.16 56.63,816.64 57.58,817.09 58.53,817.49 59.49,817.86 60.44,818.19 61.39,818.49 62.35,818.77 63.30,819.02 64.26,819.26 65.21,819.48 66.16,819.68 67.12,819.88 68.07,820.06 69.02,820.23 69.98,820.38 70.93,820.53 71.88,820.67 72.84,820.79 73.79,820.91 74.74,821.01 75.70,821.10 76.65,821.18 77.60,821.25 78.56,821.32 79.51,821.37 80.46,821.42 81.42,821.46 82.37,821.49 83.32,821.51 84.28,821.53 85.23,821.54 86.18,821.54 87.14,821.53 88.09,821.51 89.05,821.48 90.00,821.44 90.95,821.40 91.91,821.35 92.86,821.29 93.81,821.22 94.77,821.15 95.72,821.07 96.67,820.99 97.63,820.90 98.58,820.81 99.53,820.71 100.49,820.61 101.44,820.51 102.39,820.40 103.35,820.28 104.30,820.16 105.25,820.04 106.21,819.90 107.16,819.75 108.11,819.59 109.07,819.42 110.02,819.24 110.97,819.05 111.93,818.85 112.88,818.63 113.83,818.41 114.79,818.19 115.74,817.96 116.70,817.73 117.65,817.50 118.60,817.27 119.56,817.04 120.51,816.81 121.46,816.58 122.42,816.35 123.37,816.11 124.32,815.88 125.28,815.65 126.23,815.41 127.18,815.18 128.14,814.94 129.09,814.70 130.04,814.47 131.00,814.23 131.95,813.99 132.90,813.76 133.86,813.52 134.81,813.29 135.76,813.06 136.72,812.83 137.67,812.61 138.62,812.39 139.58,812.17 140.53,811.95 141.49,811.74 142.44,811.53 143.39,811.32 144.35,811.11 145.30,810.91 146.25,810.70 147.21,810.50 148.16,810.29 149.11,810.09 150.07,809.88 151.02,809.67 151.97,809.46 152.93,809.24 153.88,809.02 154.83,808.80 155.79,808.58 156.74,808.35 157.69,808.11 158.65,807.86 159.60,807.60 160.55,807.33 161.51,807.05 162.46,806.74 163.41,806.42 164.37,806.08 165.32,805.72 166.27,805.34 167.23,804.94 168.18,804.52 169.14,804.08 170.09,803.63 171.04,803.17 172.00,802.70 172.95,802.22 173.90,801.73 174.86,801.23 175.81,800.73 176.76,800.21 177.72,799.70 178.67,799.17 179.62,798.64 180.58,798.10 181.53,797.56 182.48,797.00 183.44,796.45 184.39,795.88 185.34,795.32 186.30,794.74 187.25,794.17 188.20,793.59 189.16,793.01 190.11,792.43 191.06,791.85 192.02,791.26 192.97,790.67 193.93,790.07 194.88,789.48 195.83,788.89 196.79,788.31 197.74,787.73 198.69,787.16 199.65,786.60 200.60,786.06 201.55,785.52 202.51,785.00 203.46,784.49 204.41,783.99 205.37,783.50 206.32,783.03 207.27,782.56 208.23,782.11 209.18,781.67 210.13,781.24 211.09,780.82 212.04,780.42 212.99,780.04 213.95,779.66 214.90,779.31 215.85,778.96 216.81,778.64 217.76,778.32 218.71,778.02 219.67,777.73 220.62,777.45 221.58,777.17 222.53,776.89 223.48,776.61 224.44,776.33 225.39,776.04 226.34,775.75 227.30,775.44 228.25,775.13 229.20,774.81 230.16,774.47 231.11,774.13 232.06,773.77 233.02,773.41 233.97,773.03 234.92,772.65 235.88,772.27 236.83,771.88 237.78,771.48" fill="none" stroke="#3d409e" stroke-width="1.3" stroke-linejoin="round"/>
<polyline points="49.00,742.93 49.95,743.43 50.91,743.92 51.86,744.38 52.81,744.81 53.77,745.20 54.72,745.55 55.67,745.87 56.63,746.13 57.58,746.35 58.53,746.52 59.49,746.64 60.44,746.71 61.39,746.74 62.35,746.74 63.30,746.70 64.26,746.63 65.21,746.54 66.16,746.42 67.12,746.28 68.07,746.13 69.02,745.95 69.98,745.74 70.93,745.52 71.88,745.26 72.84,744.97 73.79,744.65 74.74,744.30 75.70,743.90 76.65,743.47 77.60,743.00 78.56,742.49 79.51,741.95 80.46,741.37 81.42,740.75 82.37,740.10 83.32,739.41 84.28,738.70 85.23,737.97 86.18,737.21 87.14,736.45 88.09,735.68 89.05,734.90 90.00,734.12 90.95,733.34 91.91,732.55 92.86,731.76 93.81,730.97 94.77,730.18 95.72,729.39 96.67,728.59 97.63,727.78 98.58,726.98 99.53,726.17 100.49,725.35 101.44,724.54 102.39,723.71 103.35,722.88 104.30,722.04 105.25,721.19 106.21,720.33 107.16,719.45 108.11,718.56 109.07,717.65 110.02,716.71 110.97,715.76 111.93,714.78 112.88,713.79 113.83,712.77 114.79,711.73 115.74,710.67 116.70,709.59 117.65,708.50 118.60,707.39 119.56,706.27 120.51,705.13 121.46,703.98 122.42,702.82 123.37,701.65 124.32,700.47 125.28,699.29 126.23,698.10 127.18,696.92 128.14,695.74 129.09,694.57 130.04,693.42 131.00,692.30 131.95,691.20 132.90,690.13 133.86,689.10 134.81,688.09 135.76,687.12 136.72,686.16 137.67,685.23 138.62,684.30 139.58,683.38 140.53,682.46 141.49,681.54 142.44,680.62 143.39,679.70 144.35,678.78 145.30,677.87 146.25,676.97 147.21,676.08 148.16,675.21 149.11,674.37 150.07,673.55 151.02,672.75 151.97,671.97 152.93,671.21 153.88,670.46 154.83,669.73 155.79,669.00 156.74,668.28 157.69,667.55 158.65,666.82 159.60,666.09 160.55,665.37 161.51,664.64 162.46,663.92 163.41,663.22 164.37,662.53 165.32,661.86 166.27,661.21 167.23,660.59 168.18,660.00 169.14,659.43 170.09,658.89 171.04,658.37 172.00,657.87 172.95,657.40 173.90,656.95 174.86,656.52 175.81,656.11 176.76,655.73 177.72,655.36 178.67,655.02 179.62,654.70 180.58,654.40 181.53,654.11 182.48,653.85 183.44,653.60 184.39,653.36 185.34,653.13 186.30,652.90 187.25,652.68 188.20,652.46 189.16,652.24 190.11,652.01 191.06,651.78 192.02,651.54 192.97,651.31 193.93,651.07 194.88,650.83 195.83,650.60 196.79,650.37 197.74,650.15 198.69,649.94 199.65,649.74 200.60,649.56 201.55,649.38 202.51,649.21 203.46,649.05 204.41,648.90 205.37,648.76 206.32,648.63 207.27,648.51 208.23,648.39 209.18,648.28 210.13,648.18 211.09,648.08 212.04,647.99 212.99,647.91 213.95,647.83 214.90,647.75 215.85,647.68 216.81,647.61 217.76,647.55 218.71,647.49 219.67,647.44 220.62,647.38 221.58,647.33 222.53,647.29 223.48,647.24 224.44,647.20 225.39,647.17 226.34,647.14 227.30,647.11 228.25,647.09 229.20,647.07 230.16,647.07 231.11,647.07 232.06,647.08 233.02,647.10 233.97,647.13 234.92,647.16 235.88,647.21 236.83,647.26 237.78,647.32" fill="none" stroke="#3d409e" stroke-width="1.3" stroke-linejoin="round"/>
<polyline points="49.00,789.76 49.95,790.76 50.91,791.70 51.86,792.57 52.81,793.36 53.77,794.06 54.72,794.68 55.67,795.22 56.63,795.67 57.58,796.06 58.53,796.38 59.49,796.66 60.44,796.88 61.39,797.07 62.35,797.23 63.30,797.36 64.26,797.47 65.21,797.57 66.16,797.65 67.12,797.73 68.07,797.79 69.02,797.84 69.98,797.88 70.93,797.92 71.88,797.94 72.84,797.96 73.79,797.98 74.74,797.99 75.70,797.99 76.65,797.99 77.60,797.99 78.56,797.98 79.51,797.96 80.46,797.93 81.42,797.88 82.37,797.82 83.32,797.73 84.28,797.62 85.23,797.48 86.18,797.32 87.14,797.14 88.09,796.95 89.05,796.76 90.00,796.56 90.95,796.35 91.91,796.13 92.86,795.90 93.81,795.65 94.77,795.37 95.72,795.07 96.67,794.75 97.63,794.42 98.58,794.07 99.53,793.72 100.49,793.37 101.44,793.02 102.39,792.69 103.35,792.38 104.30,792.07 105.25,791.78 106.21,791.50 107.16,791.22 108.11,790.95 109.07,790.68 110.02,790.40 110.97,790.12 111.93,789.83 112.88,789.53 113.83,789.22 114.79,788.91 115.74,788.58 116.70,788.26 117.65,787.92 118.60,787.58 119.56,787.23 120.51,786.87 121.46,786.49 122.42,786.10 123.37,785.69 124.32,785.25 125.28,784.79 126.23,784.32 127.18,783.82 128.14,783.30 129.09,782.77 130.04,782.23 131.00,781.67 131.95,781.11 132.90,780.54 133.86,779.96 134.81,779.38 135.76,778.79 136.72,778.19 137.67,777.58 138.62,776.97 139.58,776.34 140.53,775.71 141.49,775.05 142.44,774.38 143.39,773.68 144.35,772.96 145.30,772.20 146.25,771.41 147.21,770.59 148.16,769.75 149.11,768.88 150.07,768.00 151.02,767.11 151.97,766.22 152.93,765.34 153.88,764.46 154.83,763.61 155.79,762.77 156.74,761.95 157.69,761.15 158.65,760.36 159.60,759.58 160.55,758.81 161.51,758.03 162.46,757.24 163.41,756.45 164.37,755.66 165.32,754.87 166.27,754.08 167.23,753.32 168.18,752.59 169.14,751.89 170.09,751.21 171.04,750.56 172.00,749.92 172.95,749.29 173.90,748.64 174.86,747.99 175.81,747.32 176.76,746.64 177.72,745.95 178.67,745.27 179.62,744.60 180.58,743.96 181.53,743.34 182.48,742.76 183.44,742.22 184.39,741.72 185.34,741.25 186.30,740.81 187.25,740.39 188.20,740.00 189.16,739.61 190.11,739.24 191.06,738.86 192.02,738.48 192.97,738.10 193.93,737.73 194.88,737.35 195.83,736.99 196.79,736.63 197.74,736.29 198.69,735.95 199.65,735.62 200.60,735.28 201.55,734.94 202.51,734.58 203.46,734.22 204.41,733.84 205.37,733.46 206.32,733.09 207.27,732.74 208.23,732.41 209.18,732.11 210.13,731.84 211.09,731.60 212.04,731.38 212.99,731.17 213.95,730.97 214.90,730.77 215.85,730.57 216.81,730.36 217.76,730.15 218.71,729.94 219.67,729.73 220.62,729.52 221.58,729.32 222.53,729.14 223.48,728.97 224.44,728.82 225.39,728.68 226.34,728.56 227.30,728.45 228.25,728.35 229.20,728.25 230.16,728.16 231.11,728.06 232.06,727.96 233.02,727.85 233.97,727.73 234.92,727.60 235.88,727.47 236.83,727.32 237.78,727.17" fill="none" stroke="#3d409e" stroke-width="1.3" stroke-linejoin="round"/>
<circle cx="49.00" cy="789.76" r="1.95" fill="none" stroke="#3d409e" stroke-width="1.35"/>
<circle cx="54.70" cy="794.67" r="1.95" fill="none" stroke="#3d409e" stroke-width="1.35"/>
<circle cx="60.40" cy="796.87" r="1.95" fill="none" stroke="#3d409e" stroke-width="1.35"/>
<circle cx="66.10" cy="797.65" r="1.95" fill="none" stroke="#3d409e" stroke-width="1.35"/>
<circle cx="71.80" cy="797.94" r="1.95" fill="none" stroke="#3d409e" stroke-width="1.35"/>
<circle cx="77.50" cy="797.99" r="1.95" fill="none" stroke="#3d409e" stroke-width="1.35"/>
<circle cx="83.20" cy="797.74" r="1.95" fill="none" stroke="#3d409e" stroke-width="1.35"/>
<circle cx="88.90" cy="796.79" r="1.95" fill="none" stroke="#3d409e" stroke-width="1.35"/>
<circle cx="94.60" cy="795.42" r="1.95" fill="none" stroke="#3d409e" stroke-width="1.35"/>
<circle cx="100.30" cy="793.43" r="1.95" fill="none" stroke="#3d409e" stroke-width="1.35"/>
<circle cx="106.00" cy="791.56" r="1.95" fill="none" stroke="#3d409e" stroke-width="1.35"/>
<circle cx="111.70" cy="789.90" r="1.95" fill="none" stroke="#3d409e" stroke-width="1.35"/>
<circle cx="117.40" cy="788.01" r="1.95" fill="none" stroke="#3d409e" stroke-width="1.35"/>
<circle cx="123.10" cy="785.81" r="1.95" fill="none" stroke="#3d409e" stroke-width="1.35"/>
<circle cx="128.80" cy="782.93" r="1.95" fill="none" stroke="#3d409e" stroke-width="1.35"/>
<circle cx="134.50" cy="779.57" r="1.95" fill="none" stroke="#3d409e" stroke-width="1.35"/>
<circle cx="140.20" cy="775.93" r="1.95" fill="none" stroke="#3d409e" stroke-width="1.35"/>
<circle cx="145.90" cy="771.71" r="1.95" fill="none" stroke="#3d409e" stroke-width="1.35"/>
<circle cx="151.60" cy="766.57" r="1.95" fill="none" stroke="#3d409e" stroke-width="1.35"/>
<circle cx="157.30" cy="761.48" r="1.95" fill="none" stroke="#3d409e" stroke-width="1.35"/>
<circle cx="163.00" cy="756.80" r="1.95" fill="none" stroke="#3d409e" stroke-width="1.35"/>
<circle cx="168.70" cy="752.20" r="1.95" fill="none" stroke="#3d409e" stroke-width="1.35"/>
<circle cx="174.40" cy="748.30" r="1.95" fill="none" stroke="#3d409e" stroke-width="1.35"/>
<circle cx="180.10" cy="744.27" r="1.95" fill="none" stroke="#3d409e" stroke-width="1.35"/>
<circle cx="185.80" cy="741.03" r="1.95" fill="none" stroke="#3d409e" stroke-width="1.35"/>
<circle cx="191.50" cy="738.69" r="1.95" fill="none" stroke="#3d409e" stroke-width="1.35"/>
<circle cx="197.20" cy="736.48" r="1.95" fill="none" stroke="#3d409e" stroke-width="1.35"/>
<circle cx="202.90" cy="734.43" r="1.95" fill="none" stroke="#3d409e" stroke-width="1.35"/>
<circle cx="208.60" cy="732.29" r="1.95" fill="none" stroke="#3d409e" stroke-width="1.35"/>
<circle cx="214.30" cy="730.90" r="1.95" fill="none" stroke="#3d409e" stroke-width="1.35"/>
<circle cx="220.00" cy="729.65" r="1.95" fill="none" stroke="#3d409e" stroke-width="1.35"/>
<circle cx="225.70" cy="728.64" r="1.95" fill="none" stroke="#3d409e" stroke-width="1.35"/>
<circle cx="231.40" cy="728.03" r="1.95" fill="none" stroke="#3d409e" stroke-width="1.35"/>
<circle cx="237.10" cy="727.28" r="1.95" fill="none" stroke="#3d409e" stroke-width="1.35"/>
<text x="241.90" y="646.30" font-size="12" fill="#3d409e" stroke="#3d409e" stroke-width="0.4">P97</text>
<text x="241.90" y="656.10" font-size="12" fill="#e3dc86" stroke="#e3dc86" stroke-width="0.4">P97</text>
<text x="241.90" y="729.80" font-size="12" fill="#3d409e" stroke="#3d409e" stroke-width="0.4">P50</text>
<text x="241.90" y="752.40" font-size="12" fill="#e3dc86" stroke="#e3dc86" stroke-width="0.4">P50</text>
<text x="241.90" y="772.90" font-size="12" fill="#3d409e" stroke="#3d409e" stroke-width="0.4">P3</text>
<text x="241.90" y="783.50" font-size="12" fill="#e3dc86" stroke="#e3dc86" stroke-width="0.4">P3</text>
<line x1="186.90" y1="825.80" x2="198.90" y2="825.80" stroke="#3d409e" stroke-width="1.3"/>
<line x1="186.90" y1="836.50" x2="198.90" y2="836.50" stroke="#e2d865" stroke-width="1.3"/>
<text x="200.80" y="828.20" font-size="12" fill="#141414" stroke="#141414" stroke-width="0.4">Normal</text>
<text x="200.80" y="838.60" font-size="12" fill="#141414" stroke="#141414" stroke-width="0.4">Noonan</text>
<text x="143.30" y="629.70" text-anchor="middle" font-size="12" font-weight="bold" fill="#141414" stroke="#141414" stroke-width="0.35">Males</text>
<text x="143.20" y="896.90" text-anchor="middle" font-size="12" font-weight="bold" fill="#141414" stroke="#141414" stroke-width="0.35">Age (years)</text>
<text transform="translate(14.40,749.50) rotate(-90)" text-anchor="middle" font-size="11.5" font-weight="bold" fill="#141414" stroke="#141414" stroke-width="0.35">BMI (kg/m²)</text>
<path d="M302.60,638.20 V862.00 H497.50" fill="none" stroke="#141414" stroke-width="2"/>
<line x1="298.10" y1="862.00" x2="302.60" y2="862.00" stroke="#141414" stroke-width="1.6"/>
<text x="296.10" y="865.10" text-anchor="end" font-size="12" fill="#141414" stroke="#141414" stroke-width="0.4">10</text>
<line x1="298.10" y1="839.72" x2="302.60" y2="839.72" stroke="#141414" stroke-width="1.6"/>
<text x="296.10" y="842.82" text-anchor="end" font-size="12" fill="#141414" stroke="#141414" stroke-width="0.4">12</text>
<line x1="298.10" y1="817.44" x2="302.60" y2="817.44" stroke="#141414" stroke-width="1.6"/>
<text x="296.10" y="820.54" text-anchor="end" font-size="12" fill="#141414" stroke="#141414" stroke-width="0.4">14</text>
<line x1="298.10" y1="795.16" x2="302.60" y2="795.16" stroke="#141414" stroke-width="1.6"/>
<text x="296.10" y="798.26" text-anchor="end" font-size="12" fill="#141414" stroke="#141414" stroke-width="0.4">16</text>
<line x1="298.10" y1="772.88" x2="302.60" y2="772.88" stroke="#141414" stroke-width="1.6"/>
<text x="296.10" y="775.98" text-anchor="end" font-size="12" fill="#141414" stroke="#141414" stroke-width="0.4">18</text>
<line x1="298.10" y1="750.60" x2="302.60" y2="750.60" stroke="#141414" stroke-width="1.6"/>
<text x="296.10" y="753.70" text-anchor="end" font-size="12" fill="#141414" stroke="#141414" stroke-width="0.4">20</text>
<line x1="298.10" y1="728.32" x2="302.60" y2="728.32" stroke="#141414" stroke-width="1.6"/>
<text x="296.10" y="731.42" text-anchor="end" font-size="12" fill="#141414" stroke="#141414" stroke-width="0.4">22</text>
<line x1="298.10" y1="706.04" x2="302.60" y2="706.04" stroke="#141414" stroke-width="1.6"/>
<text x="296.10" y="709.14" text-anchor="end" font-size="12" fill="#141414" stroke="#141414" stroke-width="0.4">24</text>
<line x1="298.10" y1="683.76" x2="302.60" y2="683.76" stroke="#141414" stroke-width="1.6"/>
<text x="296.10" y="686.86" text-anchor="end" font-size="12" fill="#141414" stroke="#141414" stroke-width="0.4">26</text>
<line x1="298.10" y1="661.48" x2="302.60" y2="661.48" stroke="#141414" stroke-width="1.6"/>
<text x="296.10" y="664.58" text-anchor="end" font-size="12" fill="#141414" stroke="#141414" stroke-width="0.4">28</text>
<line x1="298.10" y1="639.20" x2="302.60" y2="639.20" stroke="#141414" stroke-width="1.6"/>
<text x="296.10" y="642.30" text-anchor="end" font-size="12" fill="#141414" stroke="#141414" stroke-width="0.4">30</text>
<line x1="305.00" y1="862.00" x2="305.00" y2="866.00" stroke="#141414" stroke-width="1.6"/>
<text x="305.00" y="878.80" text-anchor="middle" font-size="11.8" fill="#141414" stroke="#141414" stroke-width="0.4">2</text>
<line x1="327.88" y1="862.00" x2="327.88" y2="866.00" stroke="#141414" stroke-width="1.6"/>
<text x="327.88" y="878.80" text-anchor="middle" font-size="11.8" fill="#141414" stroke="#141414" stroke-width="0.4">4</text>
<line x1="350.76" y1="862.00" x2="350.76" y2="866.00" stroke="#141414" stroke-width="1.6"/>
<text x="350.76" y="878.80" text-anchor="middle" font-size="11.8" fill="#141414" stroke="#141414" stroke-width="0.4">6</text>
<line x1="373.64" y1="862.00" x2="373.64" y2="866.00" stroke="#141414" stroke-width="1.6"/>
<text x="373.64" y="878.80" text-anchor="middle" font-size="11.8" fill="#141414" stroke="#141414" stroke-width="0.4">8</text>
<line x1="396.52" y1="862.00" x2="396.52" y2="866.00" stroke="#141414" stroke-width="1.6"/>
<text x="396.52" y="878.80" text-anchor="middle" font-size="11.8" fill="#141414" stroke="#141414" stroke-width="0.4">10</text>
<line x1="419.40" y1="862.00" x2="419.40" y2="866.00" stroke="#141414" stroke-width="1.6"/>
<text x="419.40" y="878.80" text-anchor="middle" font-size="11.8" fill="#141414" stroke="#141414" stroke-width="0.4">12</text>
<line x1="442.28" y1="862.00" x2="442.28" y2="866.00" stroke="#141414" stroke-width="1.6"/>
<text x="442.28" y="878.80" text-anchor="middle" font-size="11.8" fill="#141414" stroke="#141414" stroke-width="0.4">14</text>
<line x1="465.16" y1="862.00" x2="465.16" y2="866.00" stroke="#141414" stroke-width="1.6"/>
<text x="465.16" y="878.80" text-anchor="middle" font-size="11.8" fill="#141414" stroke="#141414" stroke-width="0.4">16</text>
<line x1="488.04" y1="862.00" x2="488.04" y2="866.00" stroke="#141414" stroke-width="1.6"/>
<text x="488.04" y="878.80" text-anchor="middle" font-size="11.8" fill="#141414" stroke="#141414" stroke-width="0.4">18</text>
<polyline points="305.00,829.30 305.96,829.30 306.91,829.30 307.87,829.30 308.82,829.30 309.78,829.30 310.73,829.30 311.69,829.30 312.64,829.31 313.60,829.31 314.55,829.33 315.51,829.35 316.47,829.38 317.42,829.42 318.38,829.49 319.33,829.57 320.29,829.67 321.24,829.80 322.20,829.95 323.15,830.13 324.11,830.31 325.06,830.52 326.02,830.73 326.98,830.95 327.93,831.18 328.89,831.41 329.84,831.63 330.80,831.86 331.75,832.08 332.71,832.31 333.66,832.53 334.62,832.75 335.58,832.96 336.53,833.18 337.49,833.39 338.44,833.60 339.40,833.80 340.35,834.00 341.31,834.18 342.26,834.36 343.22,834.53 344.17,834.69 345.13,834.85 346.09,834.99 347.04,835.13 348.00,835.26 348.95,835.38 349.91,835.49 350.86,835.59 351.82,835.68 352.77,835.76 353.73,835.82 354.68,835.87 355.64,835.91 356.60,835.94 357.55,835.96 358.51,835.96 359.46,835.95 360.42,835.93 361.37,835.90 362.33,835.85 363.28,835.78 364.24,835.68 365.19,835.56 366.15,835.41 367.11,835.24 368.06,835.05 369.02,834.83 369.97,834.60 370.93,834.36 371.88,834.11 372.84,833.85 373.79,833.59 374.75,833.32 375.71,833.05 376.66,832.77 377.62,832.50 378.57,832.21 379.53,831.92 380.48,831.63 381.44,831.33 382.39,831.02 383.35,830.71 384.30,830.39 385.26,830.08 386.22,829.77 387.17,829.46 388.13,829.16 389.08,828.87 390.04,828.58 390.99,828.31 391.95,828.05 392.90,827.81 393.86,827.58 394.81,827.37 395.77,827.18 396.73,827.00 397.68,826.84 398.64,826.69 399.59,826.54 400.55,826.40 401.50,826.26 402.46,826.12 403.41,825.96 404.37,825.79 405.32,825.60 406.28,825.39 407.24,825.15 408.19,824.89 409.15,824.61 410.10,824.30 411.06,823.96 412.01,823.60 412.97,823.23 413.92,822.83 414.88,822.42 415.83,822.00 416.79,821.56 417.75,821.10 418.70,820.63 419.66,820.14 420.61,819.64 421.57,819.12 422.52,818.58 423.48,818.02 424.43,817.46 425.39,816.89 426.35,816.32 427.30,815.75 428.26,815.19 429.21,814.64 430.17,814.11 431.12,813.60 432.08,813.11 433.03,812.65 433.99,812.20 434.94,811.77 435.90,811.35 436.86,810.95 437.81,810.56 438.77,810.18 439.72,809.81 440.68,809.45 441.63,809.09 442.59,808.74 443.54,808.39 444.50,808.04 445.45,807.70 446.41,807.36 447.37,807.02 448.32,806.69 449.28,806.36 450.23,806.03 451.19,805.70 452.14,805.38 453.10,805.06 454.05,804.75 455.01,804.43 455.96,804.12 456.92,803.82 457.88,803.51 458.83,803.22 459.79,802.92 460.74,802.63 461.70,802.34 462.65,802.05 463.61,801.77 464.56,801.49 465.52,801.22 466.48,800.95 467.43,800.68 468.39,800.42 469.34,800.15 470.30,799.90 471.25,799.64 472.21,799.39 473.16,799.14 474.12,798.89 475.07,798.65 476.03,798.41 476.99,798.17 477.94,797.93 478.90,797.70 479.85,797.47 480.81,797.24 481.76,797.01 482.72,796.79 483.67,796.57 484.63,796.35 485.58,796.14 486.54,795.93 487.50,795.72 488.45,795.51 489.41,795.31 490.36,795.10 491.32,794.90 492.27,794.73" fill="none" stroke="#e2d865" stroke-width="1.3" stroke-linejoin="round"/>
<polyline points="305.00,764.72 305.96,764.50 306.91,764.28 307.87,764.07 308.82,763.87 309.78,763.68 310.73,763.51 311.69,763.35 312.64,763.22 313.60,763.10 314.55,763.00 315.51,762.92 316.47,762.86 317.42,762.82 318.38,762.80 319.33,762.79 320.29,762.79 321.24,762.80 322.20,762.83 323.15,762.86 324.11,762.90 325.06,762.94 326.02,762.99 326.98,763.05 327.93,763.11 328.89,763.18 329.84,763.27 330.80,763.36 331.75,763.46 332.71,763.59 333.66,763.72 334.62,763.87 335.58,764.03 336.53,764.19 337.49,764.36 338.44,764.52 339.40,764.67 340.35,764.81 341.31,764.93 342.26,765.03 343.22,765.10 344.17,765.16 345.13,765.20 346.09,765.22 347.04,765.23 348.00,765.22 348.95,765.21 349.91,765.19 350.86,765.17 351.82,765.13 352.77,765.09 353.73,765.04 354.68,764.97 355.64,764.89 356.60,764.80 357.55,764.68 358.51,764.54 359.46,764.38 360.42,764.20 361.37,764.01 362.33,763.80 363.28,763.57 364.24,763.34 365.19,763.10 366.15,762.86 367.11,762.61 368.06,762.35 369.02,762.09 369.97,761.82 370.93,761.54 371.88,761.25 372.84,760.95 373.79,760.64 374.75,760.31 375.71,759.96 376.66,759.59 377.62,759.21 378.57,758.80 379.53,758.38 380.48,757.94 381.44,757.48 382.39,756.99 383.35,756.49 384.30,755.97 385.26,755.44 386.22,754.88 387.17,754.30 388.13,753.71 389.08,753.08 390.04,752.44 390.99,751.77 391.95,751.08 392.90,750.35 393.86,749.60 394.81,748.82 395.77,748.00 396.73,747.15 397.68,746.26 398.64,745.35 399.59,744.40 400.55,743.43 401.50,742.45 402.46,741.45 403.41,740.45 404.37,739.45 405.32,738.45 406.28,737.46 407.24,736.49 408.19,735.51 409.15,734.55 410.10,733.60 411.06,732.64 412.01,731.70 412.97,730.75 413.92,729.81 414.88,728.87 415.83,727.92 416.79,726.98 417.75,726.03 418.70,725.09 419.66,724.14 420.61,723.19 421.57,722.24 422.52,721.28 423.48,720.33 424.43,719.37 425.39,718.41 426.35,717.45 427.30,716.48 428.26,715.51 429.21,714.53 430.17,713.54 431.12,712.54 432.08,711.54 433.03,710.53 433.99,709.51 434.94,708.48 435.90,707.44 436.86,706.40 437.81,705.35 438.77,704.29 439.72,703.22 440.68,702.15 441.63,701.07 442.59,699.99 443.54,698.89 444.50,697.79 445.45,696.67 446.41,695.56 447.37,694.44 448.32,693.33 449.28,692.24 450.23,691.17 451.19,690.13 452.14,689.12 453.10,688.16 454.05,687.24 455.01,686.37 455.96,685.54 456.92,684.75 457.88,683.99 458.83,683.25 459.79,682.54 460.74,681.84 461.70,681.15 462.65,680.46 463.61,679.78 464.56,679.10 465.52,678.42 466.48,677.73 467.43,677.04 468.39,676.35 469.34,675.65 470.30,674.95 471.25,674.24 472.21,673.53 473.16,672.81 474.12,672.07 475.07,671.33 476.03,670.58 476.99,669.82 477.94,669.05 478.90,668.27 479.85,667.49 480.81,666.70 481.76,665.91 482.72,665.11 483.67,664.31 484.63,663.51 485.58,662.70 486.54,661.89 487.50,661.08 488.45,660.27 489.41,659.45 490.36,658.64 491.32,657.82 492.27,657.09" fill="none" stroke="#e2d865" stroke-width="1.3" stroke-linejoin="round"/>
<polyline points="305.00,800.02 305.96,799.96 306.91,799.91 307.87,799.86 308.82,799.82 309.78,799.78 310.73,799.76 311.69,799.74 312.64,799.74 313.60,799.74 314.55,799.76 315.51,799.78 316.47,799.82 317.42,799.87 318.38,799.94 319.33,800.01 320.29,800.10 321.24,800.20 322.20,800.31 323.15,800.43 324.11,800.56 325.06,800.70 326.02,800.86 326.98,801.03 327.93,801.22 328.89,801.42 329.84,801.64 330.80,801.86 331.75,802.08 332.71,802.29 333.66,802.48 334.62,802.66 335.58,802.82 336.53,802.96 337.49,803.09 338.44,803.21 339.40,803.33 340.35,803.44 341.31,803.55 342.26,803.66 343.22,803.77 344.17,803.87 345.13,803.97 346.09,804.07 347.04,804.16 348.00,804.25 348.95,804.33 349.91,804.41 350.86,804.48 351.82,804.54 352.77,804.59 353.73,804.64 354.68,804.68 355.64,804.72 356.60,804.74 357.55,804.75 358.51,804.75 359.46,804.75 360.42,804.72 361.37,804.69 362.33,804.63 363.28,804.56 364.24,804.47 365.19,804.36 366.15,804.24 367.11,804.10 368.06,803.96 369.02,803.80 369.97,803.64 370.93,803.48 371.88,803.31 372.84,803.14 373.79,802.98 374.75,802.81 375.71,802.64 376.66,802.48 377.62,802.31 378.57,802.14 379.53,801.97 380.48,801.80 381.44,801.62 382.39,801.43 383.35,801.22 384.30,801.00 385.26,800.76 386.22,800.50 387.17,800.22 388.13,799.92 389.08,799.61 390.04,799.28 390.99,798.95 391.95,798.61 392.90,798.26 393.86,797.90 394.81,797.53 395.77,797.14 396.73,796.72 397.68,796.27 398.64,795.79 399.59,795.27 400.55,794.71 401.50,794.11 402.46,793.46 403.41,792.77 404.37,792.05 405.32,791.31 406.28,790.56 407.24,789.80 408.19,789.04 409.15,788.29 410.10,787.53 411.06,786.78 412.01,786.00 412.97,785.22 413.92,784.40 414.88,783.58 415.83,782.74 416.79,781.90 417.75,781.08 418.70,780.30 419.66,779.55 420.61,778.85 421.57,778.20 422.52,777.58 423.48,776.99 424.43,776.41 425.39,775.84 426.35,775.27 427.30,774.69 428.26,774.10 429.21,773.50 430.17,772.90 431.12,772.28 432.08,771.66 433.03,771.03 433.99,770.38 434.94,769.73 435.90,769.08 436.86,768.41 437.81,767.74 438.77,767.07 439.72,766.40 440.68,765.73 441.63,765.08 442.59,764.44 443.54,763.80 444.50,763.19 445.45,762.58 446.41,761.98 447.37,761.39 448.32,760.80 449.28,760.21 450.23,759.61 451.19,759.00 452.14,758.38 453.10,757.75 454.05,757.10 455.01,756.45 455.96,755.79 456.92,755.14 457.88,754.50 458.83,753.88 459.79,753.29 460.74,752.72 461.70,752.18 462.65,751.66 463.61,751.15 464.56,750.66 465.52,750.18 466.48,749.71 467.43,749.25 468.39,748.80 469.34,748.37 470.30,747.96 471.25,747.57 472.21,747.19 473.16,746.83 474.12,746.48 475.07,746.14 476.03,745.80 476.99,745.45 477.94,745.11 478.90,744.76 479.85,744.42 480.81,744.08 481.76,743.75 482.72,743.43 483.67,743.12 484.63,742.82 485.58,742.51 486.54,742.20 487.50,741.87 488.45,741.52 489.41,741.16 490.36,740.76 491.32,740.35 492.27,739.97" fill="none" stroke="#e2d865" stroke-width="1.3" stroke-linejoin="round"/>
<circle cx="305.00" cy="800.02" r="2.05" fill="#f4ecc0" fill-opacity="0.5" stroke="#ddd46a" stroke-width="1.25"/>
<circle cx="310.72" cy="799.76" r="2.05" fill="#f4ecc0" fill-opacity="0.5" stroke="#ddd46a" stroke-width="1.25"/>
<circle cx="316.44" cy="799.82" r="2.05" fill="#f4ecc0" fill-opacity="0.5" stroke="#ddd46a" stroke-width="1.25"/>
<circle cx="322.16" cy="800.31" r="2.05" fill="#f4ecc0" fill-opacity="0.5" stroke="#ddd46a" stroke-width="1.25"/>
<circle cx="327.88" cy="801.21" r="2.05" fill="#f4ecc0" fill-opacity="0.5" stroke="#ddd46a" stroke-width="1.25"/>
<circle cx="333.60" cy="802.47" r="2.05" fill="#f4ecc0" fill-opacity="0.5" stroke="#ddd46a" stroke-width="1.25"/>
<circle cx="339.32" cy="803.32" r="2.05" fill="#f4ecc0" fill-opacity="0.5" stroke="#ddd46a" stroke-width="1.25"/>
<circle cx="345.04" cy="803.96" r="2.05" fill="#f4ecc0" fill-opacity="0.5" stroke="#ddd46a" stroke-width="1.25"/>
<circle cx="350.76" cy="804.47" r="2.05" fill="#f4ecc0" fill-opacity="0.5" stroke="#ddd46a" stroke-width="1.25"/>
<circle cx="356.48" cy="804.74" r="2.05" fill="#f4ecc0" fill-opacity="0.5" stroke="#ddd46a" stroke-width="1.25"/>
<circle cx="362.20" cy="804.64" r="2.05" fill="#f4ecc0" fill-opacity="0.5" stroke="#ddd46a" stroke-width="1.25"/>
<circle cx="367.92" cy="803.98" r="2.05" fill="#f4ecc0" fill-opacity="0.5" stroke="#ddd46a" stroke-width="1.25"/>
<circle cx="373.64" cy="803.00" r="2.05" fill="#f4ecc0" fill-opacity="0.5" stroke="#ddd46a" stroke-width="1.25"/>
<circle cx="379.36" cy="802.00" r="2.05" fill="#f4ecc0" fill-opacity="0.5" stroke="#ddd46a" stroke-width="1.25"/>
<circle cx="385.08" cy="800.80" r="2.05" fill="#f4ecc0" fill-opacity="0.5" stroke="#ddd46a" stroke-width="1.25"/>
<circle cx="390.80" cy="799.02" r="2.05" fill="#f4ecc0" fill-opacity="0.5" stroke="#ddd46a" stroke-width="1.25"/>
<circle cx="396.52" cy="796.81" r="2.05" fill="#f4ecc0" fill-opacity="0.5" stroke="#ddd46a" stroke-width="1.25"/>
<circle cx="402.24" cy="793.61" r="2.05" fill="#f4ecc0" fill-opacity="0.5" stroke="#ddd46a" stroke-width="1.25"/>
<circle cx="407.96" cy="789.22" r="2.05" fill="#f4ecc0" fill-opacity="0.5" stroke="#ddd46a" stroke-width="1.25"/>
<circle cx="413.68" cy="784.61" r="2.05" fill="#f4ecc0" fill-opacity="0.5" stroke="#ddd46a" stroke-width="1.25"/>
<circle cx="419.40" cy="779.75" r="2.05" fill="#f4ecc0" fill-opacity="0.5" stroke="#ddd46a" stroke-width="1.25"/>
<circle cx="425.12" cy="776.00" r="2.05" fill="#f4ecc0" fill-opacity="0.5" stroke="#ddd46a" stroke-width="1.25"/>
<circle cx="430.84" cy="772.46" r="2.05" fill="#f4ecc0" fill-opacity="0.5" stroke="#ddd46a" stroke-width="1.25"/>
<circle cx="436.56" cy="768.62" r="2.05" fill="#f4ecc0" fill-opacity="0.5" stroke="#ddd46a" stroke-width="1.25"/>
<circle cx="442.28" cy="764.64" r="2.05" fill="#f4ecc0" fill-opacity="0.5" stroke="#ddd46a" stroke-width="1.25"/>
<circle cx="448.00" cy="761.00" r="2.05" fill="#f4ecc0" fill-opacity="0.5" stroke="#ddd46a" stroke-width="1.25"/>
<circle cx="453.72" cy="757.33" r="2.05" fill="#f4ecc0" fill-opacity="0.5" stroke="#ddd46a" stroke-width="1.25"/>
<circle cx="459.44" cy="753.50" r="2.05" fill="#f4ecc0" fill-opacity="0.5" stroke="#ddd46a" stroke-width="1.25"/>
<circle cx="465.16" cy="750.36" r="2.05" fill="#f4ecc0" fill-opacity="0.5" stroke="#ddd46a" stroke-width="1.25"/>
<circle cx="470.88" cy="747.72" r="2.05" fill="#f4ecc0" fill-opacity="0.5" stroke="#ddd46a" stroke-width="1.25"/>
<circle cx="476.60" cy="745.59" r="2.05" fill="#f4ecc0" fill-opacity="0.5" stroke="#ddd46a" stroke-width="1.25"/>
<circle cx="482.32" cy="743.56" r="2.05" fill="#f4ecc0" fill-opacity="0.5" stroke="#ddd46a" stroke-width="1.25"/>
<circle cx="488.04" cy="741.68" r="2.05" fill="#f4ecc0" fill-opacity="0.5" stroke="#ddd46a" stroke-width="1.25"/>
<polyline points="305.00,819.96 305.96,820.42 306.91,820.88 307.87,821.31 308.82,821.73 309.78,822.12 310.73,822.49 311.69,822.82 312.64,823.13 313.60,823.40 314.55,823.65 315.51,823.87 316.47,824.06 317.42,824.23 318.38,824.38 319.33,824.52 320.29,824.64 321.24,824.75 322.20,824.85 323.15,824.94 324.11,825.02 325.06,825.08 326.02,825.14 326.98,825.18 327.93,825.21 328.89,825.22 329.84,825.23 330.80,825.23 331.75,825.21 332.71,825.19 333.66,825.16 334.62,825.13 335.58,825.09 336.53,825.05 337.49,825.00 338.44,824.95 339.40,824.89 340.35,824.84 341.31,824.78 342.26,824.72 343.22,824.65 344.17,824.59 345.13,824.52 346.09,824.45 347.04,824.37 348.00,824.29 348.95,824.21 349.91,824.12 350.86,824.03 351.82,823.93 352.77,823.83 353.73,823.73 354.68,823.63 355.64,823.52 356.60,823.40 357.55,823.29 358.51,823.17 359.46,823.04 360.42,822.91 361.37,822.78 362.33,822.64 363.28,822.50 364.24,822.35 365.19,822.19 366.15,822.02 367.11,821.85 368.06,821.67 369.02,821.48 369.97,821.29 370.93,821.09 371.88,820.89 372.84,820.68 373.79,820.46 374.75,820.24 375.71,820.01 376.66,819.78 377.62,819.54 378.57,819.29 379.53,819.04 380.48,818.78 381.44,818.51 382.39,818.24 383.35,817.96 384.30,817.67 385.26,817.38 386.22,817.09 387.17,816.80 388.13,816.50 389.08,816.20 390.04,815.90 390.99,815.60 391.95,815.30 392.90,815.00 393.86,814.70 394.81,814.40 395.77,814.11 396.73,813.82 397.68,813.52 398.64,813.23 399.59,812.94 400.55,812.64 401.50,812.33 402.46,812.02 403.41,811.70 404.37,811.37 405.32,811.03 406.28,810.67 407.24,810.30 408.19,809.91 409.15,809.51 410.10,809.10 411.06,808.68 412.01,808.24 412.97,807.79 413.92,807.33 414.88,806.87 415.83,806.39 416.79,805.91 417.75,805.42 418.70,804.92 419.66,804.41 420.61,803.90 421.57,803.38 422.52,802.85 423.48,802.31 424.43,801.76 425.39,801.20 426.35,800.64 427.30,800.06 428.26,799.48 429.21,798.88 430.17,798.27 431.12,797.65 432.08,797.02 433.03,796.37 433.99,795.71 434.94,795.03 435.90,794.35 436.86,793.66 437.81,792.98 438.77,792.31 439.72,791.65 440.68,791.01 441.63,790.41 442.59,789.83 443.54,789.29 444.50,788.79 445.45,788.32 446.41,787.88 447.37,787.47 448.32,787.10 449.28,786.75 450.23,786.42 451.19,786.12 452.14,785.84 453.10,785.58 454.05,785.34 455.01,785.11 455.96,784.91 456.92,784.71 457.88,784.53 458.83,784.36 459.79,784.20 460.74,784.05 461.70,783.90 462.65,783.76 463.61,783.63 464.56,783.51 465.52,783.39 466.48,783.28 467.43,783.17 468.39,783.07 469.34,782.97 470.30,782.88 471.25,782.79 472.21,782.70 473.16,782.61 474.12,782.52 475.07,782.44 476.03,782.36 476.99,782.27 477.94,782.19 478.90,782.11 479.85,782.03 480.81,781.95 481.76,781.88 482.72,781.80 483.67,781.72 484.63,781.65 485.58,781.58 486.54,781.51 487.50,781.44 488.45,781.37 489.41,781.30 490.36,781.23 491.32,781.17 492.27,781.11" fill="none" stroke="#3d409e" stroke-width="1.3" stroke-linejoin="round"/>
<polyline points="305.00,735.21 305.96,735.84 306.91,736.44 307.87,737.01 308.82,737.54 309.78,738.02 310.73,738.44 311.69,738.80 312.64,739.10 313.60,739.33 314.55,739.50 315.51,739.60 316.47,739.65 317.42,739.64 318.38,739.59 319.33,739.50 320.29,739.38 321.24,739.23 322.20,739.06 323.15,738.87 324.11,738.67 325.06,738.45 326.02,738.22 326.98,737.98 327.93,737.73 328.89,737.47 329.84,737.20 330.80,736.91 331.75,736.61 332.71,736.30 333.66,735.96 334.62,735.61 335.58,735.24 336.53,734.85 337.49,734.44 338.44,734.01 339.40,733.56 340.35,733.08 341.31,732.57 342.26,732.03 343.22,731.46 344.17,730.86 345.13,730.22 346.09,729.55 347.04,728.85 348.00,728.13 348.95,727.40 349.91,726.65 350.86,725.90 351.82,725.15 352.77,724.39 353.73,723.64 354.68,722.88 355.64,722.12 356.60,721.36 357.55,720.59 358.51,719.81 359.46,719.02 360.42,718.22 361.37,717.40 362.33,716.56 363.28,715.71 364.24,714.83 365.19,713.94 366.15,713.03 367.11,712.11 368.06,711.17 369.02,710.22 369.97,709.26 370.93,708.30 371.88,707.34 372.84,706.37 373.79,705.40 374.75,704.42 375.71,703.43 376.66,702.43 377.62,701.40 378.57,700.34 379.53,699.25 380.48,698.11 381.44,696.93 382.39,695.72 383.35,694.48 384.30,693.23 385.26,691.97 386.22,690.72 387.17,689.49 388.13,688.27 389.08,687.09 390.04,685.93 390.99,684.80 391.95,683.69 392.90,682.61 393.86,681.55 394.81,680.52 395.77,679.51 396.73,678.52 397.68,677.55 398.64,676.61 399.59,675.69 400.55,674.80 401.50,673.94 402.46,673.11 403.41,672.31 404.37,671.55 405.32,670.83 406.28,670.13 407.24,669.48 408.19,668.85 409.15,668.26 410.10,667.68 411.06,667.13 412.01,666.60 412.97,666.08 413.92,665.57 414.88,665.07 415.83,664.58 416.79,664.09 417.75,663.62 418.70,663.16 419.66,662.72 420.61,662.29 421.57,661.89 422.52,661.52 423.48,661.17 424.43,660.85 425.39,660.55 426.35,660.28 427.30,660.03 428.26,659.80 429.21,659.58 430.17,659.38 431.12,659.20 432.08,659.03 433.03,658.88 433.99,658.75 434.94,658.63 435.90,658.53 436.86,658.45 437.81,658.37 438.77,658.31 439.72,658.26 440.68,658.22 441.63,658.18 442.59,658.14 443.54,658.11 444.50,658.09 445.45,658.06 446.41,658.04 447.37,658.02 448.32,658.00 449.28,657.98 450.23,657.97 451.19,657.95 452.14,657.94 453.10,657.93 454.05,657.92 455.01,657.91 455.96,657.91 456.92,657.90 457.88,657.89 458.83,657.89 459.79,657.88 460.74,657.88 461.70,657.87 462.65,657.87 463.61,657.86 464.56,657.86 465.52,657.86 466.48,657.85 467.43,657.85 468.39,657.85 469.34,657.84 470.30,657.84 471.25,657.84 472.21,657.83 473.16,657.83 474.12,657.83 475.07,657.82 476.03,657.82 476.99,657.82 477.94,657.82 478.90,657.82 479.85,657.81 480.81,657.81 481.76,657.81 482.72,657.81 483.67,657.81 484.63,657.81 485.58,657.80 486.54,657.80 487.50,657.80 488.45,657.80 489.41,657.80 490.36,657.80 491.32,657.80 492.27,657.80" fill="none" stroke="#3d409e" stroke-width="1.3" stroke-linejoin="round"/>
<polyline points="305.00,793.91 305.96,794.50 306.91,795.07 307.87,795.62 308.82,796.13 309.78,796.62 310.73,797.07 311.69,797.50 312.64,797.89 313.60,798.26 314.55,798.61 315.51,798.93 316.47,799.23 317.42,799.50 318.38,799.75 319.33,799.97 320.29,800.15 321.24,800.30 322.20,800.42 323.15,800.50 324.11,800.54 325.06,800.55 326.02,800.52 326.98,800.45 327.93,800.34 328.89,800.20 329.84,800.03 330.80,799.83 331.75,799.61 332.71,799.39 333.66,799.16 334.62,798.94 335.58,798.73 336.53,798.52 337.49,798.32 338.44,798.13 339.40,797.93 340.35,797.73 341.31,797.52 342.26,797.31 343.22,797.08 344.17,796.85 345.13,796.60 346.09,796.34 347.04,796.08 348.00,795.80 348.95,795.51 349.91,795.22 350.86,794.91 351.82,794.60 352.77,794.28 353.73,793.96 354.68,793.64 355.64,793.32 356.60,793.00 357.55,792.69 358.51,792.38 359.46,792.08 360.42,791.78 361.37,791.49 362.33,791.20 363.28,790.92 364.24,790.63 365.19,790.33 366.15,790.02 367.11,789.70 368.06,789.35 369.02,788.99 369.97,788.60 370.93,788.19 371.88,787.76 372.84,787.32 373.79,786.86 374.75,786.39 375.71,785.90 376.66,785.42 377.62,784.92 378.57,784.42 379.53,783.92 380.48,783.41 381.44,782.90 382.39,782.37 383.35,781.83 384.30,781.27 385.26,780.69 386.22,780.10 387.17,779.48 388.13,778.85 389.08,778.20 390.04,777.54 390.99,776.88 391.95,776.21 392.90,775.53 393.86,774.85 394.81,774.16 395.77,773.46 396.73,772.75 397.68,772.03 398.64,771.30 399.59,770.56 400.55,769.81 401.50,769.05 402.46,768.27 403.41,767.48 404.37,766.68 405.32,765.87 406.28,765.04 407.24,764.19 408.19,763.33 409.15,762.45 410.10,761.57 411.06,760.68 412.01,759.80 412.97,758.93 413.92,758.08 414.88,757.25 415.83,756.44 416.79,755.66 417.75,754.90 418.70,754.17 419.66,753.46 420.61,752.77 421.57,752.11 422.52,751.46 423.48,750.84 424.43,750.23 425.39,749.64 426.35,749.07 427.30,748.51 428.26,747.97 429.21,747.44 430.17,746.93 431.12,746.44 432.08,745.96 433.03,745.50 433.99,745.07 434.94,744.66 435.90,744.28 436.86,743.92 437.81,743.60 438.77,743.30 439.72,743.02 440.68,742.76 441.63,742.53 442.59,742.30 443.54,742.09 444.50,741.89 445.45,741.69 446.41,741.50 447.37,741.31 448.32,741.13 449.28,740.95 450.23,740.77 451.19,740.61 452.14,740.45 453.10,740.31 454.05,740.17 455.01,740.05 455.96,739.94 456.92,739.83 457.88,739.73 458.83,739.64 459.79,739.54 460.74,739.45 461.70,739.36 462.65,739.27 463.61,739.19 464.56,739.11 465.52,739.03 466.48,738.96 467.43,738.90 468.39,738.84 469.34,738.79 470.30,738.74 471.25,738.70 472.21,738.66 473.16,738.62 474.12,738.59 475.07,738.57 476.03,738.55 476.99,738.53 477.94,738.52 478.90,738.51 479.85,738.51 480.81,738.50 481.76,738.50 482.72,738.50 483.67,738.50 484.63,738.50 485.58,738.50 486.54,738.50 487.50,738.50 488.45,738.50 489.41,738.50 490.36,738.50 491.32,738.50 492.27,738.50" fill="none" stroke="#3d409e" stroke-width="1.3" stroke-linejoin="round"/>
<circle cx="305.00" cy="793.91" r="1.95" fill="none" stroke="#3d409e" stroke-width="1.35"/>
<circle cx="310.72" cy="797.07" r="1.95" fill="none" stroke="#3d409e" stroke-width="1.35"/>
<circle cx="316.44" cy="799.22" r="1.95" fill="none" stroke="#3d409e" stroke-width="1.35"/>
<circle cx="322.16" cy="800.42" r="1.95" fill="none" stroke="#3d409e" stroke-width="1.35"/>
<circle cx="327.88" cy="800.35" r="1.95" fill="none" stroke="#3d409e" stroke-width="1.35"/>
<circle cx="333.60" cy="799.18" r="1.95" fill="none" stroke="#3d409e" stroke-width="1.35"/>
<circle cx="339.32" cy="797.94" r="1.95" fill="none" stroke="#3d409e" stroke-width="1.35"/>
<circle cx="345.04" cy="796.63" r="1.95" fill="none" stroke="#3d409e" stroke-width="1.35"/>
<circle cx="350.76" cy="794.94" r="1.95" fill="none" stroke="#3d409e" stroke-width="1.35"/>
<circle cx="356.48" cy="793.04" r="1.95" fill="none" stroke="#3d409e" stroke-width="1.35"/>
<circle cx="362.20" cy="791.24" r="1.95" fill="none" stroke="#3d409e" stroke-width="1.35"/>
<circle cx="367.92" cy="789.40" r="1.95" fill="none" stroke="#3d409e" stroke-width="1.35"/>
<circle cx="373.64" cy="786.93" r="1.95" fill="none" stroke="#3d409e" stroke-width="1.35"/>
<circle cx="379.36" cy="784.01" r="1.95" fill="none" stroke="#3d409e" stroke-width="1.35"/>
<circle cx="385.08" cy="780.80" r="1.95" fill="none" stroke="#3d409e" stroke-width="1.35"/>
<circle cx="390.80" cy="777.01" r="1.95" fill="none" stroke="#3d409e" stroke-width="1.35"/>
<circle cx="396.52" cy="772.91" r="1.95" fill="none" stroke="#3d409e" stroke-width="1.35"/>
<circle cx="402.24" cy="768.45" r="1.95" fill="none" stroke="#3d409e" stroke-width="1.35"/>
<circle cx="407.96" cy="763.54" r="1.95" fill="none" stroke="#3d409e" stroke-width="1.35"/>
<circle cx="413.68" cy="758.30" r="1.95" fill="none" stroke="#3d409e" stroke-width="1.35"/>
<circle cx="419.40" cy="753.65" r="1.95" fill="none" stroke="#3d409e" stroke-width="1.35"/>
<circle cx="425.12" cy="749.81" r="1.95" fill="none" stroke="#3d409e" stroke-width="1.35"/>
<circle cx="430.84" cy="746.58" r="1.95" fill="none" stroke="#3d409e" stroke-width="1.35"/>
<circle cx="436.56" cy="744.03" r="1.95" fill="none" stroke="#3d409e" stroke-width="1.35"/>
<circle cx="442.28" cy="742.37" r="1.95" fill="none" stroke="#3d409e" stroke-width="1.35"/>
<circle cx="448.00" cy="741.19" r="1.95" fill="none" stroke="#3d409e" stroke-width="1.35"/>
<circle cx="453.72" cy="740.22" r="1.95" fill="none" stroke="#3d409e" stroke-width="1.35"/>
<circle cx="459.44" cy="739.58" r="1.95" fill="none" stroke="#3d409e" stroke-width="1.35"/>
<circle cx="465.16" cy="739.06" r="1.95" fill="none" stroke="#3d409e" stroke-width="1.35"/>
<circle cx="470.88" cy="738.71" r="1.95" fill="none" stroke="#3d409e" stroke-width="1.35"/>
<circle cx="476.60" cy="738.54" r="1.95" fill="none" stroke="#3d409e" stroke-width="1.35"/>
<circle cx="482.32" cy="738.50" r="1.95" fill="none" stroke="#3d409e" stroke-width="1.35"/>
<circle cx="488.04" cy="738.50" r="1.95" fill="none" stroke="#3d409e" stroke-width="1.35"/>
<text x="497.90" y="647.90" font-size="12" fill="#3d409e" stroke="#3d409e" stroke-width="0.4">P97</text>
<text x="497.90" y="660.30" font-size="12" fill="#e3dc86" stroke="#e3dc86" stroke-width="0.4">P97</text>
<text x="495.10" y="737.50" font-size="12" fill="#3d409e" stroke="#3d409e" stroke-width="0.4">P50</text>
<text x="495.10" y="748.90" font-size="12" fill="#e3dc86" stroke="#e3dc86" stroke-width="0.4">P50</text>
<text x="495.10" y="782.80" font-size="12" fill="#3d409e" stroke="#3d409e" stroke-width="0.4">P3</text>
<text x="495.10" y="796.00" font-size="12" fill="#e3dc86" stroke="#e3dc86" stroke-width="0.4">P3</text>
<line x1="443.10" y1="825.80" x2="455.10" y2="825.80" stroke="#3d409e" stroke-width="1.3"/>
<line x1="443.10" y1="836.50" x2="455.10" y2="836.50" stroke="#e2d865" stroke-width="1.3"/>
<text x="457.20" y="828.20" font-size="12" fill="#141414" stroke="#141414" stroke-width="0.4">Normal</text>
<text x="457.20" y="838.60" font-size="12" fill="#141414" stroke="#141414" stroke-width="0.4">Noonan</text>
<text x="399.80" y="629.70" text-anchor="middle" font-size="12" font-weight="bold" fill="#141414" stroke="#141414" stroke-width="0.35">Females</text>
<text x="399.70" y="897.00" text-anchor="middle" font-size="12" font-weight="bold" fill="#141414" stroke="#141414" stroke-width="0.35">Age (years)</text>
<text transform="translate(276.60,749.50) rotate(-90)" text-anchor="middle" font-size="11.5" font-weight="bold" fill="#141414" stroke="#141414" stroke-width="0.35">BMI (kg/m²)</text>
<text x="-1" y="278.7" font-size="15" font-weight="bold" fill="#141414">a</text>
<text x="-1" y="587.5" font-size="15" font-weight="bold" fill="#141414">b</text>
<text x="-1" y="896" font-size="15" font-weight="bold" fill="#141414">c</text>
</svg></body></html>
